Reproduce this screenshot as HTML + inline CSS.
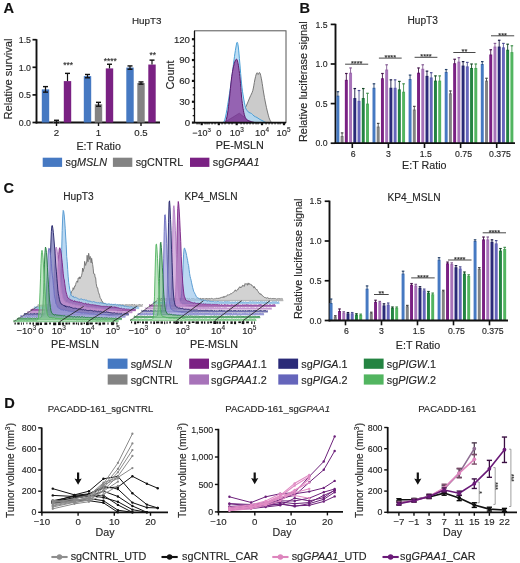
<!DOCTYPE html>
<html><head><meta charset="utf-8"><style>
html,body{margin:0;padding:0;background:#fff;}
body{width:520px;height:563px;overflow:hidden;font-family:"Liberation Sans", sans-serif;}
svg{display:block;filter:blur(0.35px);}
svg text{stroke:#2a2a2a;stroke-width:0.15px;}
</style></head><body>
<svg width="520" height="563" viewBox="0 0 520 563" font-family='"Liberation Sans", sans-serif'><text x="3.60" y="12.80" font-size="14.6" text-anchor="start" font-weight="bold" font-style="normal" fill="#111">A</text>
<text x="299.60" y="12.80" font-size="14.6" text-anchor="start" font-weight="bold" font-style="normal" fill="#111">B</text>
<text x="3.60" y="192.60" font-size="14.6" text-anchor="start" font-weight="bold" font-style="normal" fill="#111">C</text>
<text x="4.20" y="408.10" font-size="14.6" text-anchor="start" font-weight="bold" font-style="normal" fill="#111">D</text>
<line x1="36.50" y1="39.20" x2="36.50" y2="123.50" stroke="#111" stroke-width="1.9"/>
<line x1="32.50" y1="122.50" x2="36.50" y2="122.50" stroke="#111" stroke-width="1.7"/>
<text x="31.00" y="125.70" font-size="8.82" text-anchor="end" font-weight="normal" font-style="normal" fill="#262626">0.0</text>
<line x1="32.50" y1="94.90" x2="36.50" y2="94.90" stroke="#111" stroke-width="1.7"/>
<text x="31.00" y="98.10" font-size="8.82" text-anchor="end" font-weight="normal" font-style="normal" fill="#262626">0.5</text>
<line x1="32.50" y1="67.30" x2="36.50" y2="67.30" stroke="#111" stroke-width="1.7"/>
<text x="31.00" y="70.50" font-size="8.82" text-anchor="end" font-weight="normal" font-style="normal" fill="#262626">1.0</text>
<line x1="32.50" y1="39.70" x2="36.50" y2="39.70" stroke="#111" stroke-width="1.7"/>
<text x="31.00" y="42.90" font-size="8.82" text-anchor="end" font-weight="normal" font-style="normal" fill="#262626">1.5</text>
<line x1="35.70" y1="122.50" x2="160.00" y2="122.50" stroke="#111" stroke-width="1.8"/>
<text x="12.00" y="79.00" font-size="11.13" text-anchor="middle" font-weight="normal" font-style="normal" fill="#262626" transform="rotate(-90 12.0 79)">Relative survival</text>
<line x1="56.50" y1="122.50" x2="56.50" y2="126.00" stroke="#111" stroke-width="1.4"/>
<text x="56.50" y="136.00" font-size="9.66" text-anchor="middle" font-weight="normal" font-style="normal" fill="#262626">2</text>
<rect x="41.80" y="89.38" width="7.40" height="33.12" fill="#4679c2"/>
<line x1="45.50" y1="92.14" x2="45.50" y2="86.62" stroke="#111" stroke-width="1.2"/>
<line x1="43.00" y1="86.62" x2="48.00" y2="86.62" stroke="#111" stroke-width="1.4"/>
<line x1="43.00" y1="92.14" x2="48.00" y2="92.14" stroke="#111" stroke-width="1.4"/>
<rect x="52.80" y="121.40" width="7.40" height="1.10" fill="#838383"/>
<line x1="56.50" y1="122.50" x2="56.50" y2="120.29" stroke="#111" stroke-width="1.2"/>
<line x1="54.00" y1="120.29" x2="59.00" y2="120.29" stroke="#111" stroke-width="1.4"/>
<line x1="54.00" y1="122.50" x2="59.00" y2="122.50" stroke="#111" stroke-width="1.4"/>
<rect x="63.80" y="81.10" width="7.40" height="41.40" fill="#7a2183"/>
<line x1="67.50" y1="81.10" x2="67.50" y2="73.37" stroke="#111" stroke-width="1.2"/>
<line x1="65.00" y1="73.37" x2="70.00" y2="73.37" stroke="#111" stroke-width="1.4"/>
<line x1="98.50" y1="122.50" x2="98.50" y2="126.00" stroke="#111" stroke-width="1.4"/>
<text x="98.50" y="136.00" font-size="9.66" text-anchor="middle" font-weight="normal" font-style="normal" fill="#262626">1</text>
<rect x="83.80" y="76.13" width="7.40" height="46.37" fill="#4679c2"/>
<line x1="87.50" y1="77.79" x2="87.50" y2="74.48" stroke="#111" stroke-width="1.2"/>
<line x1="85.00" y1="74.48" x2="90.00" y2="74.48" stroke="#111" stroke-width="1.4"/>
<line x1="85.00" y1="77.79" x2="90.00" y2="77.79" stroke="#111" stroke-width="1.4"/>
<rect x="94.80" y="104.28" width="7.40" height="18.22" fill="#838383"/>
<line x1="98.50" y1="106.22" x2="98.50" y2="102.35" stroke="#111" stroke-width="1.2"/>
<line x1="96.00" y1="102.35" x2="101.00" y2="102.35" stroke="#111" stroke-width="1.4"/>
<line x1="96.00" y1="106.22" x2="101.00" y2="106.22" stroke="#111" stroke-width="1.4"/>
<rect x="105.80" y="68.40" width="7.40" height="54.10" fill="#7a2183"/>
<line x1="109.50" y1="68.40" x2="109.50" y2="64.26" stroke="#111" stroke-width="1.2"/>
<line x1="107.00" y1="64.26" x2="112.00" y2="64.26" stroke="#111" stroke-width="1.4"/>
<line x1="141.00" y1="122.50" x2="141.00" y2="126.00" stroke="#111" stroke-width="1.4"/>
<text x="141.00" y="136.00" font-size="9.66" text-anchor="middle" font-weight="normal" font-style="normal" fill="#262626">0.5</text>
<rect x="126.30" y="67.58" width="7.40" height="54.92" fill="#4679c2"/>
<line x1="130.00" y1="69.23" x2="130.00" y2="65.92" stroke="#111" stroke-width="1.2"/>
<line x1="127.50" y1="65.92" x2="132.50" y2="65.92" stroke="#111" stroke-width="1.4"/>
<line x1="127.50" y1="69.23" x2="132.50" y2="69.23" stroke="#111" stroke-width="1.4"/>
<rect x="137.30" y="83.03" width="7.40" height="39.47" fill="#838383"/>
<line x1="141.00" y1="84.14" x2="141.00" y2="81.93" stroke="#111" stroke-width="1.2"/>
<line x1="138.50" y1="81.93" x2="143.50" y2="81.93" stroke="#111" stroke-width="1.4"/>
<line x1="138.50" y1="84.14" x2="143.50" y2="84.14" stroke="#111" stroke-width="1.4"/>
<rect x="148.30" y="64.54" width="7.40" height="57.96" fill="#7a2183"/>
<line x1="152.00" y1="64.54" x2="152.00" y2="60.12" stroke="#111" stroke-width="1.2"/>
<line x1="149.50" y1="60.12" x2="154.50" y2="60.12" stroke="#111" stroke-width="1.4"/>
<text x="68.10" y="67.70" font-size="8.4" text-anchor="middle" font-weight="normal" font-style="normal" fill="#333">***</text>
<text x="110.20" y="63.50" font-size="8.4" text-anchor="middle" font-weight="normal" font-style="normal" fill="#333">****</text>
<text x="152.80" y="57.80" font-size="8.4" text-anchor="middle" font-weight="normal" font-style="normal" fill="#333">**</text>
<text x="98.70" y="149.50" font-size="10.71" text-anchor="middle" font-weight="normal" font-style="normal" fill="#262626">E:T Ratio</text>
<text x="146.80" y="23.50" font-size="9.87" text-anchor="middle" font-weight="normal" font-style="normal" fill="#262626">HupT3</text>
<rect x="42.70" y="157.70" width="19.40" height="9.20" fill="#4679c2"/>
<text x="65.50" y="165.90" font-size="10.82" text-anchor="start" font-weight="normal" font-style="normal" fill="#262626">sg<tspan font-style="italic">MSLN</tspan></text>
<rect x="112.90" y="157.70" width="19.40" height="9.20" fill="#838383"/>
<text x="135.70" y="165.90" font-size="10.82" text-anchor="start" font-weight="normal" font-style="normal" fill="#262626">sgCNTRL</text>
<rect x="190.00" y="157.70" width="19.40" height="9.20" fill="#7a2183"/>
<text x="212.80" y="165.90" font-size="10.82" text-anchor="start" font-weight="normal" font-style="normal" fill="#262626">sg<tspan font-style="italic">GPAA1</tspan></text>
<rect x="194.5" y="30.8" width="91.5" height="91.8" fill="none" stroke="#555" stroke-width="1.0"/>
<path d="M225.00,122.60 C226.00,122.25 229.08,121.43 231.00,120.50 C232.92,119.57 234.83,118.17 236.50,117.00 C238.17,115.83 239.67,114.75 241.00,113.50 C242.33,112.25 243.42,111.25 244.50,109.50 C245.58,107.75 246.58,105.08 247.50,103.00 C248.42,100.92 249.12,99.08 250.00,97.00 C250.88,94.92 252.00,93.33 252.80,90.50 C253.60,87.67 254.22,82.75 254.80,80.00 C255.38,77.25 255.88,75.20 256.30,74.00 C256.72,72.80 256.98,72.72 257.30,72.80 C257.62,72.88 257.88,74.53 258.20,74.50 C258.52,74.47 258.85,72.68 259.20,72.60 C259.55,72.52 259.87,72.60 260.30,74.00 C260.73,75.40 261.27,78.00 261.80,81.00 C262.33,84.00 262.88,88.33 263.50,92.00 C264.12,95.67 264.83,99.67 265.50,103.00 C266.17,106.33 266.83,109.33 267.50,112.00 C268.17,114.67 268.83,117.23 269.50,119.00 C270.17,120.77 271.17,122.00 271.50,122.60 Z" fill="#cbcbcb" stroke="#6a6a6a" stroke-width="0.9"/>
<path d="M223.50,122.60 C223.83,121.67 224.67,120.77 225.50,117.00 C226.33,113.23 227.50,106.17 228.50,100.00 C229.50,93.83 230.58,86.67 231.50,80.00 C232.42,73.33 233.28,65.33 234.00,60.00 C234.72,54.67 235.28,50.95 235.80,48.00 C236.32,45.05 236.68,42.47 237.10,42.30 C237.52,42.13 237.85,43.55 238.30,47.00 C238.75,50.45 239.25,56.83 239.80,63.00 C240.35,69.17 241.00,78.33 241.60,84.00 C242.20,89.67 242.75,93.08 243.40,97.00 C244.05,100.92 244.82,105.17 245.50,107.50 C246.18,109.83 246.92,110.17 247.50,111.00 C248.08,111.83 248.33,112.08 249.00,112.50 C249.67,112.92 250.67,112.92 251.50,113.50 C252.33,114.08 253.08,115.33 254.00,116.00 C254.92,116.67 256.00,116.92 257.00,117.50 C258.00,118.08 259.00,118.92 260.00,119.50 C261.00,120.08 262.00,120.48 263.00,121.00 C264.00,121.52 265.50,122.33 266.00,122.60 Z" fill="#b0d8f3" fill-opacity="0.85" stroke="#4a9fd6" stroke-width="1"/>
<path d="M225.50,122.60 C225.83,121.17 226.83,118.10 227.50,114.00 C228.17,109.90 228.87,103.67 229.50,98.00 C230.13,92.33 230.72,84.83 231.30,80.00 C231.88,75.17 232.42,72.00 233.00,69.00 C233.58,66.00 234.25,63.63 234.80,62.00 C235.35,60.37 235.85,59.37 236.30,59.20 C236.75,59.03 237.08,59.53 237.50,61.00 C237.92,62.47 238.35,64.83 238.80,68.00 C239.25,71.17 239.77,75.50 240.20,80.00 C240.63,84.50 240.98,90.67 241.40,95.00 C241.82,99.33 242.22,102.75 242.70,106.00 C243.18,109.25 243.67,112.25 244.30,114.50 C244.93,116.75 245.55,118.38 246.50,119.50 C247.45,120.62 248.58,120.68 250.00,121.20 C251.42,121.72 254.17,122.37 255.00,122.60 Z" fill="#9152aa" fill-opacity="0.88" stroke="#5a1a6c" stroke-width="1"/>
<path d="M224,122.6 L239.3,113.2 L251,122.6 Z" fill="#6e2f86" fill-opacity="0.45" stroke="#6a2a80" stroke-width="0.6" stroke-opacity="0.8"/>
<line x1="194.50" y1="30.80" x2="194.50" y2="123.10" stroke="#111" stroke-width="1.3"/>
<line x1="194.50" y1="122.60" x2="286.00" y2="122.60" stroke="#111" stroke-width="1.6"/>
<rect x="191.90" y="121.50" width="2.60" height="2.20" fill="#111"/>
<text x="190.00" y="125.90" font-size="9.66" text-anchor="end" font-weight="normal" font-style="normal" fill="#262626">0</text>
<rect x="191.90" y="100.65" width="2.60" height="2.20" fill="#111"/>
<text x="190.00" y="105.05" font-size="9.66" text-anchor="end" font-weight="normal" font-style="normal" fill="#262626">30</text>
<rect x="191.90" y="79.80" width="2.60" height="2.20" fill="#111"/>
<text x="190.00" y="84.20" font-size="9.66" text-anchor="end" font-weight="normal" font-style="normal" fill="#262626">60</text>
<rect x="191.90" y="58.95" width="2.60" height="2.20" fill="#111"/>
<text x="190.00" y="63.35" font-size="9.66" text-anchor="end" font-weight="normal" font-style="normal" fill="#262626">90</text>
<rect x="191.90" y="38.10" width="2.60" height="2.20" fill="#111"/>
<text x="190.00" y="42.50" font-size="9.66" text-anchor="end" font-weight="normal" font-style="normal" fill="#262626">120</text>
<rect x="192.70" y="115.05" width="1.80" height="1.20" fill="#111"/>
<rect x="192.70" y="108.10" width="1.80" height="1.20" fill="#111"/>
<rect x="192.70" y="94.20" width="1.80" height="1.20" fill="#111"/>
<rect x="192.70" y="87.25" width="1.80" height="1.20" fill="#111"/>
<rect x="192.70" y="73.35" width="1.80" height="1.20" fill="#111"/>
<rect x="192.70" y="66.40" width="1.80" height="1.20" fill="#111"/>
<rect x="192.70" y="52.50" width="1.80" height="1.20" fill="#111"/>
<rect x="192.70" y="45.55" width="1.80" height="1.20" fill="#111"/>
<text x="173.50" y="75.00" font-size="10.92" text-anchor="middle" font-weight="normal" font-style="normal" fill="#262626" transform="rotate(-90 173.5 75)">Count</text>
<rect x="200.60" y="122.60" width="2.20" height="2.60" fill="#111"/>
<rect x="217.70" y="122.60" width="2.20" height="2.60" fill="#111"/>
<rect x="235.60" y="122.60" width="2.20" height="2.60" fill="#111"/>
<rect x="260.90" y="122.60" width="2.20" height="2.60" fill="#111"/>
<rect x="282.90" y="122.60" width="2.20" height="2.60" fill="#111"/>
<rect x="196.50" y="122.60" width="1.10" height="1.80" fill="#111"/>
<rect x="198.50" y="122.60" width="1.10" height="1.80" fill="#111"/>
<rect x="204.50" y="122.60" width="1.10" height="1.80" fill="#111"/>
<rect x="206.50" y="122.60" width="1.10" height="1.80" fill="#111"/>
<rect x="208.50" y="122.60" width="1.10" height="1.80" fill="#111"/>
<rect x="211.50" y="122.60" width="1.10" height="1.80" fill="#111"/>
<rect x="214.50" y="122.60" width="1.10" height="1.80" fill="#111"/>
<rect x="221.50" y="122.60" width="1.10" height="1.80" fill="#111"/>
<rect x="224.50" y="122.60" width="1.10" height="1.80" fill="#111"/>
<rect x="228.50" y="122.60" width="1.10" height="1.80" fill="#111"/>
<rect x="231.50" y="122.60" width="1.10" height="1.80" fill="#111"/>
<rect x="240.50" y="122.60" width="1.10" height="1.80" fill="#111"/>
<rect x="243.50" y="122.60" width="1.10" height="1.80" fill="#111"/>
<rect x="246.50" y="122.60" width="1.10" height="1.80" fill="#111"/>
<rect x="249.50" y="122.60" width="1.10" height="1.80" fill="#111"/>
<rect x="252.50" y="122.60" width="1.10" height="1.80" fill="#111"/>
<rect x="255.50" y="122.60" width="1.10" height="1.80" fill="#111"/>
<rect x="257.50" y="122.60" width="1.10" height="1.80" fill="#111"/>
<rect x="265.50" y="122.60" width="1.10" height="1.80" fill="#111"/>
<rect x="268.50" y="122.60" width="1.10" height="1.80" fill="#111"/>
<rect x="271.50" y="122.60" width="1.10" height="1.80" fill="#111"/>
<rect x="274.50" y="122.60" width="1.10" height="1.80" fill="#111"/>
<rect x="277.50" y="122.60" width="1.10" height="1.80" fill="#111"/>
<rect x="279.50" y="122.60" width="1.10" height="1.80" fill="#111"/>
<text x="201.7" y="136" font-size="9" text-anchor="middle" fill="#262626">−10<tspan font-size="6.2" dy="-3.8">3</tspan></text>
<text x="218.80" y="136.00" font-size="9.45" text-anchor="middle" font-weight="normal" font-style="normal" fill="#262626">0</text>
<text x="236.70" y="136.00" font-size="9.45" text-anchor="middle" fill="#262626">10<tspan font-size="6.43" dy="-3.97">3</tspan></text>
<text x="262.00" y="136.00" font-size="9.45" text-anchor="middle" fill="#262626">10<tspan font-size="6.43" dy="-3.97">4</tspan></text>
<text x="283.50" y="136.00" font-size="9.45" text-anchor="middle" fill="#262626">10<tspan font-size="6.43" dy="-3.97">5</tspan></text>
<text x="239.80" y="149.40" font-size="10.82" text-anchor="middle" font-weight="normal" font-style="normal" fill="#262626">PE-MSLN</text>
<line x1="335.50" y1="23.80" x2="335.50" y2="144.00" stroke="#111" stroke-width="1.9"/>
<line x1="330.70" y1="143.20" x2="335.50" y2="143.20" stroke="#111" stroke-width="1.7"/>
<text x="327.50" y="146.40" font-size="8.72" text-anchor="end" font-weight="normal" font-style="normal" fill="#262626">0.0</text>
<line x1="330.70" y1="103.60" x2="335.50" y2="103.60" stroke="#111" stroke-width="1.7"/>
<text x="327.50" y="106.80" font-size="8.72" text-anchor="end" font-weight="normal" font-style="normal" fill="#262626">0.5</text>
<line x1="330.70" y1="64.00" x2="335.50" y2="64.00" stroke="#111" stroke-width="1.7"/>
<text x="327.50" y="67.20" font-size="8.72" text-anchor="end" font-weight="normal" font-style="normal" fill="#262626">1.0</text>
<line x1="330.70" y1="24.40" x2="335.50" y2="24.40" stroke="#111" stroke-width="1.7"/>
<text x="327.50" y="27.60" font-size="8.72" text-anchor="end" font-weight="normal" font-style="normal" fill="#262626">1.5</text>
<rect x="336.40" y="95.68" width="2.95" height="47.52" fill="#4679c2"/>
<line x1="337.87" y1="96.68" x2="337.87" y2="91.72" stroke="#26426a" stroke-width="0.9"/>
<line x1="336.60" y1="91.72" x2="339.15" y2="91.72" stroke="#26426a" stroke-width="1.2"/>
<rect x="340.63" y="136.07" width="2.95" height="7.13" fill="#838383"/>
<line x1="342.10" y1="137.07" x2="342.10" y2="132.90" stroke="#484848" stroke-width="0.9"/>
<line x1="340.83" y1="132.90" x2="343.38" y2="132.90" stroke="#484848" stroke-width="1.2"/>
<rect x="344.86" y="79.84" width="2.95" height="63.36" fill="#7a2183"/>
<line x1="346.33" y1="80.84" x2="346.33" y2="73.50" stroke="#431248" stroke-width="0.9"/>
<line x1="345.06" y1="73.50" x2="347.61" y2="73.50" stroke="#431248" stroke-width="1.2"/>
<rect x="349.09" y="72.71" width="2.95" height="70.49" fill="#a773b9"/>
<line x1="350.56" y1="73.71" x2="350.56" y2="67.96" stroke="#855c94" stroke-width="0.9"/>
<line x1="349.29" y1="67.96" x2="351.84" y2="67.96" stroke="#855c94" stroke-width="1.2"/>
<rect x="353.32" y="98.06" width="2.95" height="45.14" fill="#2a2a78"/>
<line x1="354.79" y1="99.06" x2="354.79" y2="88.55" stroke="#171742" stroke-width="0.9"/>
<line x1="353.52" y1="88.55" x2="356.07" y2="88.55" stroke="#171742" stroke-width="1.2"/>
<rect x="357.55" y="100.83" width="2.95" height="42.37" fill="#6565bb"/>
<line x1="359.02" y1="101.83" x2="359.02" y2="90.53" stroke="#505095" stroke-width="0.9"/>
<line x1="357.75" y1="90.53" x2="360.30" y2="90.53" stroke="#505095" stroke-width="1.2"/>
<rect x="361.78" y="98.06" width="2.95" height="45.14" fill="#248442"/>
<line x1="363.25" y1="99.06" x2="363.25" y2="88.55" stroke="#134824" stroke-width="0.9"/>
<line x1="361.98" y1="88.55" x2="364.53" y2="88.55" stroke="#134824" stroke-width="1.2"/>
<rect x="366.01" y="103.60" width="2.95" height="39.60" fill="#52b560"/>
<line x1="367.48" y1="104.60" x2="367.48" y2="93.30" stroke="#41904c" stroke-width="0.9"/>
<line x1="366.21" y1="93.30" x2="368.76" y2="93.30" stroke="#41904c" stroke-width="1.2"/>
<line x1="352.30" y1="143.20" x2="352.30" y2="148.00" stroke="#111" stroke-width="1.6"/>
<text x="353.30" y="157.10" font-size="8.72" text-anchor="middle" font-weight="normal" font-style="normal" fill="#262626">6</text>
<rect x="372.50" y="87.76" width="2.95" height="55.44" fill="#4679c2"/>
<line x1="373.97" y1="88.76" x2="373.97" y2="83.80" stroke="#26426a" stroke-width="0.9"/>
<line x1="372.70" y1="83.80" x2="375.25" y2="83.80" stroke="#26426a" stroke-width="1.2"/>
<rect x="376.73" y="126.57" width="2.95" height="16.63" fill="#838383"/>
<line x1="378.20" y1="127.57" x2="378.20" y2="123.40" stroke="#484848" stroke-width="0.9"/>
<line x1="376.93" y1="123.40" x2="379.48" y2="123.40" stroke="#484848" stroke-width="1.2"/>
<rect x="380.96" y="78.26" width="2.95" height="64.94" fill="#7a2183"/>
<line x1="382.43" y1="79.26" x2="382.43" y2="73.50" stroke="#431248" stroke-width="0.9"/>
<line x1="381.16" y1="73.50" x2="383.71" y2="73.50" stroke="#431248" stroke-width="1.2"/>
<rect x="385.19" y="69.54" width="2.95" height="73.66" fill="#a773b9"/>
<line x1="386.66" y1="70.54" x2="386.66" y2="64.79" stroke="#855c94" stroke-width="0.9"/>
<line x1="385.39" y1="64.79" x2="387.94" y2="64.79" stroke="#855c94" stroke-width="1.2"/>
<rect x="389.42" y="87.76" width="2.95" height="55.44" fill="#2a2a78"/>
<line x1="390.89" y1="88.76" x2="390.89" y2="79.84" stroke="#171742" stroke-width="0.9"/>
<line x1="389.62" y1="79.84" x2="392.17" y2="79.84" stroke="#171742" stroke-width="1.2"/>
<rect x="393.65" y="87.76" width="2.95" height="55.44" fill="#6565bb"/>
<line x1="395.12" y1="88.76" x2="395.12" y2="79.84" stroke="#505095" stroke-width="0.9"/>
<line x1="393.85" y1="79.84" x2="396.40" y2="79.84" stroke="#505095" stroke-width="1.2"/>
<rect x="397.88" y="89.34" width="2.95" height="53.86" fill="#248442"/>
<line x1="399.35" y1="90.34" x2="399.35" y2="81.42" stroke="#134824" stroke-width="0.9"/>
<line x1="398.08" y1="81.42" x2="400.63" y2="81.42" stroke="#134824" stroke-width="1.2"/>
<rect x="402.11" y="91.72" width="2.95" height="51.48" fill="#52b560"/>
<line x1="403.58" y1="92.72" x2="403.58" y2="83.80" stroke="#41904c" stroke-width="0.9"/>
<line x1="402.31" y1="83.80" x2="404.86" y2="83.80" stroke="#41904c" stroke-width="1.2"/>
<line x1="388.40" y1="143.20" x2="388.40" y2="148.00" stroke="#111" stroke-width="1.6"/>
<text x="388.40" y="157.10" font-size="8.72" text-anchor="middle" font-weight="normal" font-style="normal" fill="#262626">3</text>
<rect x="408.60" y="79.05" width="2.95" height="64.15" fill="#4679c2"/>
<line x1="410.07" y1="80.05" x2="410.07" y2="75.09" stroke="#26426a" stroke-width="0.9"/>
<line x1="408.80" y1="75.09" x2="411.35" y2="75.09" stroke="#26426a" stroke-width="1.2"/>
<rect x="412.83" y="109.54" width="2.95" height="33.66" fill="#838383"/>
<line x1="414.30" y1="110.54" x2="414.30" y2="106.37" stroke="#484848" stroke-width="0.9"/>
<line x1="413.03" y1="106.37" x2="415.58" y2="106.37" stroke="#484848" stroke-width="1.2"/>
<rect x="417.06" y="72.71" width="2.95" height="70.49" fill="#7a2183"/>
<line x1="418.53" y1="73.71" x2="418.53" y2="67.96" stroke="#431248" stroke-width="0.9"/>
<line x1="417.26" y1="67.96" x2="419.81" y2="67.96" stroke="#431248" stroke-width="1.2"/>
<rect x="421.29" y="68.75" width="2.95" height="74.45" fill="#a773b9"/>
<line x1="422.76" y1="69.75" x2="422.76" y2="64.79" stroke="#855c94" stroke-width="0.9"/>
<line x1="421.49" y1="64.79" x2="424.04" y2="64.79" stroke="#855c94" stroke-width="1.2"/>
<rect x="425.52" y="75.88" width="2.95" height="67.32" fill="#2a2a78"/>
<line x1="426.99" y1="76.88" x2="426.99" y2="71.13" stroke="#171742" stroke-width="0.9"/>
<line x1="425.72" y1="71.13" x2="428.27" y2="71.13" stroke="#171742" stroke-width="1.2"/>
<rect x="429.75" y="77.46" width="2.95" height="65.74" fill="#6565bb"/>
<line x1="431.22" y1="78.46" x2="431.22" y2="72.71" stroke="#505095" stroke-width="0.9"/>
<line x1="429.95" y1="72.71" x2="432.50" y2="72.71" stroke="#505095" stroke-width="1.2"/>
<rect x="433.98" y="80.63" width="2.95" height="62.57" fill="#248442"/>
<line x1="435.45" y1="81.63" x2="435.45" y2="75.88" stroke="#134824" stroke-width="0.9"/>
<line x1="434.18" y1="75.88" x2="436.73" y2="75.88" stroke="#134824" stroke-width="1.2"/>
<rect x="438.21" y="80.63" width="2.95" height="62.57" fill="#52b560"/>
<line x1="439.68" y1="81.63" x2="439.68" y2="75.88" stroke="#41904c" stroke-width="0.9"/>
<line x1="438.41" y1="75.88" x2="440.96" y2="75.88" stroke="#41904c" stroke-width="1.2"/>
<line x1="424.50" y1="143.20" x2="424.50" y2="148.00" stroke="#111" stroke-width="1.6"/>
<text x="425.80" y="157.10" font-size="8.72" text-anchor="middle" font-weight="normal" font-style="normal" fill="#262626">1.5</text>
<rect x="444.70" y="71.92" width="2.95" height="71.28" fill="#4679c2"/>
<line x1="446.17" y1="72.92" x2="446.17" y2="69.54" stroke="#26426a" stroke-width="0.9"/>
<line x1="444.90" y1="69.54" x2="447.45" y2="69.54" stroke="#26426a" stroke-width="1.2"/>
<rect x="448.93" y="93.30" width="2.95" height="49.90" fill="#838383"/>
<line x1="450.40" y1="94.30" x2="450.40" y2="90.93" stroke="#484848" stroke-width="0.9"/>
<line x1="449.13" y1="90.93" x2="451.68" y2="90.93" stroke="#484848" stroke-width="1.2"/>
<rect x="453.16" y="63.21" width="2.95" height="79.99" fill="#7a2183"/>
<line x1="454.63" y1="64.21" x2="454.63" y2="59.25" stroke="#431248" stroke-width="0.9"/>
<line x1="453.36" y1="59.25" x2="455.91" y2="59.25" stroke="#431248" stroke-width="1.2"/>
<rect x="457.39" y="61.62" width="2.95" height="81.58" fill="#a773b9"/>
<line x1="458.86" y1="62.62" x2="458.86" y2="57.66" stroke="#855c94" stroke-width="0.9"/>
<line x1="457.59" y1="57.66" x2="460.14" y2="57.66" stroke="#855c94" stroke-width="1.2"/>
<rect x="461.62" y="65.58" width="2.95" height="77.62" fill="#2a2a78"/>
<line x1="463.09" y1="66.58" x2="463.09" y2="61.62" stroke="#171742" stroke-width="0.9"/>
<line x1="461.82" y1="61.62" x2="464.37" y2="61.62" stroke="#171742" stroke-width="1.2"/>
<rect x="465.85" y="66.38" width="2.95" height="76.82" fill="#6565bb"/>
<line x1="467.32" y1="67.38" x2="467.32" y2="62.42" stroke="#505095" stroke-width="0.9"/>
<line x1="466.05" y1="62.42" x2="468.60" y2="62.42" stroke="#505095" stroke-width="1.2"/>
<rect x="470.08" y="67.96" width="2.95" height="75.24" fill="#248442"/>
<line x1="471.55" y1="68.96" x2="471.55" y2="64.00" stroke="#134824" stroke-width="0.9"/>
<line x1="470.28" y1="64.00" x2="472.83" y2="64.00" stroke="#134824" stroke-width="1.2"/>
<rect x="474.31" y="67.96" width="2.95" height="75.24" fill="#52b560"/>
<line x1="475.78" y1="68.96" x2="475.78" y2="64.00" stroke="#41904c" stroke-width="0.9"/>
<line x1="474.51" y1="64.00" x2="477.06" y2="64.00" stroke="#41904c" stroke-width="1.2"/>
<line x1="460.60" y1="143.20" x2="460.60" y2="148.00" stroke="#111" stroke-width="1.6"/>
<text x="463.60" y="157.10" font-size="8.72" text-anchor="middle" font-weight="normal" font-style="normal" fill="#262626">0.75</text>
<rect x="480.80" y="64.00" width="2.95" height="79.20" fill="#4679c2"/>
<line x1="482.27" y1="65.00" x2="482.27" y2="61.62" stroke="#26426a" stroke-width="0.9"/>
<line x1="481.00" y1="61.62" x2="483.55" y2="61.62" stroke="#26426a" stroke-width="1.2"/>
<rect x="485.03" y="80.63" width="2.95" height="62.57" fill="#838383"/>
<line x1="486.50" y1="81.63" x2="486.50" y2="78.26" stroke="#484848" stroke-width="0.9"/>
<line x1="485.23" y1="78.26" x2="487.78" y2="78.26" stroke="#484848" stroke-width="1.2"/>
<rect x="489.26" y="54.50" width="2.95" height="88.70" fill="#7a2183"/>
<line x1="490.73" y1="55.50" x2="490.73" y2="49.74" stroke="#431248" stroke-width="0.9"/>
<line x1="489.46" y1="49.74" x2="492.01" y2="49.74" stroke="#431248" stroke-width="1.2"/>
<rect x="493.49" y="46.58" width="2.95" height="96.62" fill="#a773b9"/>
<line x1="494.96" y1="47.58" x2="494.96" y2="43.41" stroke="#855c94" stroke-width="0.9"/>
<line x1="493.69" y1="43.41" x2="496.24" y2="43.41" stroke="#855c94" stroke-width="1.2"/>
<rect x="497.72" y="46.58" width="2.95" height="96.62" fill="#2a2a78"/>
<line x1="499.19" y1="47.58" x2="499.19" y2="40.24" stroke="#171742" stroke-width="0.9"/>
<line x1="497.92" y1="40.24" x2="500.47" y2="40.24" stroke="#171742" stroke-width="1.2"/>
<rect x="501.95" y="47.37" width="2.95" height="95.83" fill="#6565bb"/>
<line x1="503.42" y1="48.37" x2="503.42" y2="43.41" stroke="#505095" stroke-width="0.9"/>
<line x1="502.15" y1="43.41" x2="504.70" y2="43.41" stroke="#505095" stroke-width="1.2"/>
<rect x="506.18" y="49.74" width="2.95" height="93.46" fill="#248442"/>
<line x1="507.65" y1="50.74" x2="507.65" y2="44.20" stroke="#134824" stroke-width="0.9"/>
<line x1="506.38" y1="44.20" x2="508.93" y2="44.20" stroke="#134824" stroke-width="1.2"/>
<rect x="510.41" y="52.12" width="2.95" height="91.08" fill="#52b560"/>
<line x1="511.88" y1="53.12" x2="511.88" y2="45.78" stroke="#41904c" stroke-width="0.9"/>
<line x1="510.61" y1="45.78" x2="513.16" y2="45.78" stroke="#41904c" stroke-width="1.2"/>
<line x1="496.70" y1="143.20" x2="496.70" y2="148.00" stroke="#111" stroke-width="1.6"/>
<text x="500.00" y="157.10" font-size="8.72" text-anchor="middle" font-weight="normal" font-style="normal" fill="#262626">0.375</text>
<line x1="334.70" y1="143.20" x2="515.00" y2="143.20" stroke="#111" stroke-width="1.8"/>
<line x1="345.10" y1="64.20" x2="368.20" y2="64.20" stroke="#333" stroke-width="0.9"/>
<text x="356.65" y="66.10" font-size="7.35" text-anchor="middle" font-weight="normal" font-style="normal" fill="#333">****</text>
<line x1="378.90" y1="58.10" x2="401.70" y2="58.10" stroke="#333" stroke-width="0.9"/>
<text x="390.30" y="60.00" font-size="7.35" text-anchor="middle" font-weight="normal" font-style="normal" fill="#333">****</text>
<line x1="414.60" y1="57.30" x2="437.40" y2="57.30" stroke="#333" stroke-width="0.9"/>
<text x="426.00" y="59.20" font-size="7.35" text-anchor="middle" font-weight="normal" font-style="normal" fill="#333">****</text>
<line x1="453.30" y1="52.50" x2="475.50" y2="52.50" stroke="#333" stroke-width="0.9"/>
<text x="464.40" y="54.40" font-size="7.35" text-anchor="middle" font-weight="normal" font-style="normal" fill="#333">**</text>
<line x1="491.00" y1="35.80" x2="514.20" y2="35.80" stroke="#333" stroke-width="0.9"/>
<text x="502.60" y="37.70" font-size="7.35" text-anchor="middle" font-weight="normal" font-style="normal" fill="#333">***</text>
<text x="307.00" y="81.70" font-size="10.92" text-anchor="middle" font-weight="normal" font-style="normal" fill="#262626" transform="rotate(-90 307 81.69999999999999)">Relative luciferase signal</text>
<text x="422.70" y="23.50" font-size="10.19" text-anchor="middle" font-weight="normal" font-style="normal" fill="#262626">HupT3</text>
<text x="424.30" y="168.60" font-size="10.71" text-anchor="middle" font-weight="normal" font-style="normal" fill="#262626">E:T Ratio</text>
<line x1="329.50" y1="200.65" x2="329.50" y2="321.30" stroke="#111" stroke-width="1.9"/>
<line x1="324.70" y1="320.50" x2="329.50" y2="320.50" stroke="#111" stroke-width="1.7"/>
<text x="321.50" y="323.70" font-size="8.72" text-anchor="end" font-weight="normal" font-style="normal" fill="#262626">0.0</text>
<line x1="324.70" y1="280.75" x2="329.50" y2="280.75" stroke="#111" stroke-width="1.7"/>
<text x="321.50" y="283.95" font-size="8.72" text-anchor="end" font-weight="normal" font-style="normal" fill="#262626">0.5</text>
<line x1="324.70" y1="241.00" x2="329.50" y2="241.00" stroke="#111" stroke-width="1.7"/>
<text x="321.50" y="244.20" font-size="8.72" text-anchor="end" font-weight="normal" font-style="normal" fill="#262626">1.0</text>
<line x1="324.70" y1="201.25" x2="329.50" y2="201.25" stroke="#111" stroke-width="1.7"/>
<text x="321.50" y="204.45" font-size="8.72" text-anchor="end" font-weight="normal" font-style="normal" fill="#262626">1.5</text>
<rect x="329.60" y="303.01" width="2.95" height="17.49" fill="#4679c2"/>
<line x1="331.07" y1="304.01" x2="331.07" y2="299.04" stroke="#26426a" stroke-width="0.9"/>
<line x1="329.80" y1="299.04" x2="332.35" y2="299.04" stroke="#26426a" stroke-width="1.2"/>
<rect x="333.83" y="316.52" width="2.95" height="3.98" fill="#838383"/>
<line x1="335.30" y1="317.52" x2="335.30" y2="315.73" stroke="#484848" stroke-width="0.9"/>
<line x1="334.03" y1="315.73" x2="336.58" y2="315.73" stroke="#484848" stroke-width="1.2"/>
<rect x="338.06" y="310.96" width="2.95" height="9.54" fill="#7a2183"/>
<line x1="339.53" y1="311.96" x2="339.53" y2="308.97" stroke="#431248" stroke-width="0.9"/>
<line x1="338.26" y1="308.97" x2="340.81" y2="308.97" stroke="#431248" stroke-width="1.2"/>
<rect x="342.29" y="312.55" width="2.95" height="7.95" fill="#a773b9"/>
<line x1="343.76" y1="313.55" x2="343.76" y2="311.75" stroke="#855c94" stroke-width="0.9"/>
<line x1="342.49" y1="311.75" x2="345.04" y2="311.75" stroke="#855c94" stroke-width="1.2"/>
<rect x="346.52" y="313.35" width="2.95" height="7.15" fill="#2a2a78"/>
<line x1="347.99" y1="314.35" x2="347.99" y2="312.55" stroke="#171742" stroke-width="0.9"/>
<line x1="346.72" y1="312.55" x2="349.27" y2="312.55" stroke="#171742" stroke-width="1.2"/>
<rect x="350.75" y="313.35" width="2.95" height="7.15" fill="#6565bb"/>
<line x1="352.22" y1="314.35" x2="352.22" y2="312.55" stroke="#505095" stroke-width="0.9"/>
<line x1="350.95" y1="312.55" x2="353.50" y2="312.55" stroke="#505095" stroke-width="1.2"/>
<rect x="354.98" y="314.54" width="2.95" height="5.96" fill="#248442"/>
<line x1="356.45" y1="315.54" x2="356.45" y2="313.74" stroke="#134824" stroke-width="0.9"/>
<line x1="355.18" y1="313.74" x2="357.73" y2="313.74" stroke="#134824" stroke-width="1.2"/>
<rect x="359.21" y="314.94" width="2.95" height="5.56" fill="#52b560"/>
<line x1="360.68" y1="315.94" x2="360.68" y2="314.14" stroke="#41904c" stroke-width="0.9"/>
<line x1="359.41" y1="314.14" x2="361.96" y2="314.14" stroke="#41904c" stroke-width="1.2"/>
<line x1="345.50" y1="320.50" x2="345.50" y2="325.30" stroke="#111" stroke-width="1.6"/>
<text x="346.50" y="334.40" font-size="8.72" text-anchor="middle" font-weight="normal" font-style="normal" fill="#262626">6</text>
<rect x="365.60" y="288.70" width="2.95" height="31.80" fill="#4679c2"/>
<line x1="367.07" y1="289.70" x2="367.07" y2="285.92" stroke="#26426a" stroke-width="0.9"/>
<line x1="365.80" y1="285.92" x2="368.35" y2="285.92" stroke="#26426a" stroke-width="1.2"/>
<rect x="369.83" y="313.03" width="2.95" height="7.47" fill="#838383"/>
<line x1="371.30" y1="314.03" x2="371.30" y2="312.23" stroke="#484848" stroke-width="0.9"/>
<line x1="370.03" y1="312.23" x2="372.58" y2="312.23" stroke="#484848" stroke-width="1.2"/>
<rect x="374.06" y="301.82" width="2.95" height="18.68" fill="#7a2183"/>
<line x1="375.53" y1="302.82" x2="375.53" y2="300.23" stroke="#431248" stroke-width="0.9"/>
<line x1="374.26" y1="300.23" x2="376.81" y2="300.23" stroke="#431248" stroke-width="1.2"/>
<rect x="378.29" y="302.21" width="2.95" height="18.29" fill="#a773b9"/>
<line x1="379.76" y1="303.21" x2="379.76" y2="301.42" stroke="#855c94" stroke-width="0.9"/>
<line x1="378.49" y1="301.42" x2="381.04" y2="301.42" stroke="#855c94" stroke-width="1.2"/>
<rect x="382.52" y="305.39" width="2.95" height="15.11" fill="#2a2a78"/>
<line x1="383.99" y1="306.39" x2="383.99" y2="303.81" stroke="#171742" stroke-width="0.9"/>
<line x1="382.72" y1="303.81" x2="385.27" y2="303.81" stroke="#171742" stroke-width="1.2"/>
<rect x="386.75" y="304.60" width="2.95" height="15.90" fill="#6565bb"/>
<line x1="388.22" y1="305.60" x2="388.22" y2="303.01" stroke="#505095" stroke-width="0.9"/>
<line x1="386.95" y1="303.01" x2="389.50" y2="303.01" stroke="#505095" stroke-width="1.2"/>
<rect x="390.98" y="307.78" width="2.95" height="12.72" fill="#248442"/>
<line x1="392.45" y1="308.78" x2="392.45" y2="306.99" stroke="#134824" stroke-width="0.9"/>
<line x1="391.18" y1="306.99" x2="393.73" y2="306.99" stroke="#134824" stroke-width="1.2"/>
<rect x="395.21" y="307.78" width="2.95" height="12.72" fill="#52b560"/>
<line x1="396.68" y1="308.78" x2="396.68" y2="306.99" stroke="#41904c" stroke-width="0.9"/>
<line x1="395.41" y1="306.99" x2="397.96" y2="306.99" stroke="#41904c" stroke-width="1.2"/>
<line x1="381.50" y1="320.50" x2="381.50" y2="325.30" stroke="#111" stroke-width="1.6"/>
<text x="381.50" y="334.40" font-size="8.72" text-anchor="middle" font-weight="normal" font-style="normal" fill="#262626">3</text>
<rect x="401.60" y="273.60" width="2.95" height="46.90" fill="#4679c2"/>
<line x1="403.07" y1="274.60" x2="403.07" y2="271.21" stroke="#26426a" stroke-width="0.9"/>
<line x1="401.80" y1="271.21" x2="404.35" y2="271.21" stroke="#26426a" stroke-width="1.2"/>
<rect x="405.83" y="306.19" width="2.95" height="14.31" fill="#838383"/>
<line x1="407.30" y1="307.19" x2="407.30" y2="305.39" stroke="#484848" stroke-width="0.9"/>
<line x1="406.03" y1="305.39" x2="408.58" y2="305.39" stroke="#484848" stroke-width="1.2"/>
<rect x="410.06" y="284.73" width="2.95" height="35.77" fill="#7a2183"/>
<line x1="411.53" y1="285.73" x2="411.53" y2="283.53" stroke="#431248" stroke-width="0.9"/>
<line x1="410.26" y1="283.53" x2="412.81" y2="283.53" stroke="#431248" stroke-width="1.2"/>
<rect x="414.29" y="285.52" width="2.95" height="34.98" fill="#a773b9"/>
<line x1="415.76" y1="286.52" x2="415.76" y2="284.33" stroke="#855c94" stroke-width="0.9"/>
<line x1="414.49" y1="284.33" x2="417.04" y2="284.33" stroke="#855c94" stroke-width="1.2"/>
<rect x="418.52" y="287.90" width="2.95" height="32.60" fill="#2a2a78"/>
<line x1="419.99" y1="288.90" x2="419.99" y2="286.71" stroke="#171742" stroke-width="0.9"/>
<line x1="418.72" y1="286.71" x2="421.27" y2="286.71" stroke="#171742" stroke-width="1.2"/>
<rect x="422.75" y="290.29" width="2.95" height="30.21" fill="#6565bb"/>
<line x1="424.22" y1="291.29" x2="424.22" y2="289.10" stroke="#505095" stroke-width="0.9"/>
<line x1="422.95" y1="289.10" x2="425.50" y2="289.10" stroke="#505095" stroke-width="1.2"/>
<rect x="426.98" y="292.68" width="2.95" height="27.82" fill="#248442"/>
<line x1="428.45" y1="293.68" x2="428.45" y2="291.48" stroke="#134824" stroke-width="0.9"/>
<line x1="427.18" y1="291.48" x2="429.73" y2="291.48" stroke="#134824" stroke-width="1.2"/>
<rect x="431.21" y="294.26" width="2.95" height="26.24" fill="#52b560"/>
<line x1="432.68" y1="295.26" x2="432.68" y2="293.07" stroke="#41904c" stroke-width="0.9"/>
<line x1="431.41" y1="293.07" x2="433.96" y2="293.07" stroke="#41904c" stroke-width="1.2"/>
<line x1="417.50" y1="320.50" x2="417.50" y2="325.30" stroke="#111" stroke-width="1.6"/>
<text x="418.80" y="334.40" font-size="8.72" text-anchor="middle" font-weight="normal" font-style="normal" fill="#262626">1.5</text>
<rect x="437.60" y="259.68" width="2.95" height="60.82" fill="#4679c2"/>
<line x1="439.07" y1="260.68" x2="439.07" y2="257.69" stroke="#26426a" stroke-width="0.9"/>
<line x1="437.80" y1="257.69" x2="440.35" y2="257.69" stroke="#26426a" stroke-width="1.2"/>
<rect x="441.83" y="291.08" width="2.95" height="29.42" fill="#838383"/>
<line x1="443.30" y1="292.08" x2="443.30" y2="290.29" stroke="#484848" stroke-width="0.9"/>
<line x1="442.03" y1="290.29" x2="444.58" y2="290.29" stroke="#484848" stroke-width="1.2"/>
<rect x="446.06" y="263.26" width="2.95" height="57.24" fill="#7a2183"/>
<line x1="447.53" y1="264.26" x2="447.53" y2="262.07" stroke="#431248" stroke-width="0.9"/>
<line x1="446.26" y1="262.07" x2="448.81" y2="262.07" stroke="#431248" stroke-width="1.2"/>
<rect x="450.29" y="264.06" width="2.95" height="56.44" fill="#a773b9"/>
<line x1="451.76" y1="265.06" x2="451.76" y2="262.86" stroke="#855c94" stroke-width="0.9"/>
<line x1="450.49" y1="262.86" x2="453.04" y2="262.86" stroke="#855c94" stroke-width="1.2"/>
<rect x="454.52" y="267.24" width="2.95" height="53.26" fill="#2a2a78"/>
<line x1="455.99" y1="268.24" x2="455.99" y2="265.64" stroke="#171742" stroke-width="0.9"/>
<line x1="454.72" y1="265.64" x2="457.27" y2="265.64" stroke="#171742" stroke-width="1.2"/>
<rect x="458.75" y="268.43" width="2.95" height="52.07" fill="#6565bb"/>
<line x1="460.22" y1="269.43" x2="460.22" y2="266.84" stroke="#505095" stroke-width="0.9"/>
<line x1="458.95" y1="266.84" x2="461.50" y2="266.84" stroke="#505095" stroke-width="1.2"/>
<rect x="462.98" y="273.60" width="2.95" height="46.90" fill="#248442"/>
<line x1="464.45" y1="274.60" x2="464.45" y2="272.00" stroke="#134824" stroke-width="0.9"/>
<line x1="463.18" y1="272.00" x2="465.73" y2="272.00" stroke="#134824" stroke-width="1.2"/>
<rect x="467.21" y="275.98" width="2.95" height="44.52" fill="#52b560"/>
<line x1="468.68" y1="276.98" x2="468.68" y2="274.79" stroke="#41904c" stroke-width="0.9"/>
<line x1="467.41" y1="274.79" x2="469.96" y2="274.79" stroke="#41904c" stroke-width="1.2"/>
<line x1="453.50" y1="320.50" x2="453.50" y2="325.30" stroke="#111" stroke-width="1.6"/>
<text x="456.50" y="334.40" font-size="8.72" text-anchor="middle" font-weight="normal" font-style="normal" fill="#262626">0.75</text>
<rect x="473.60" y="241.00" width="2.95" height="79.50" fill="#4679c2"/>
<line x1="475.07" y1="242.00" x2="475.07" y2="239.81" stroke="#26426a" stroke-width="0.9"/>
<line x1="473.80" y1="239.81" x2="476.35" y2="239.81" stroke="#26426a" stroke-width="1.2"/>
<rect x="477.83" y="268.82" width="2.95" height="51.68" fill="#838383"/>
<line x1="479.30" y1="269.82" x2="479.30" y2="267.63" stroke="#484848" stroke-width="0.9"/>
<line x1="478.03" y1="267.63" x2="480.58" y2="267.63" stroke="#484848" stroke-width="1.2"/>
<rect x="482.06" y="239.41" width="2.95" height="81.09" fill="#7a2183"/>
<line x1="483.53" y1="240.41" x2="483.53" y2="237.02" stroke="#431248" stroke-width="0.9"/>
<line x1="482.26" y1="237.02" x2="484.81" y2="237.02" stroke="#431248" stroke-width="1.2"/>
<rect x="486.29" y="239.41" width="2.95" height="81.09" fill="#a773b9"/>
<line x1="487.76" y1="240.41" x2="487.76" y2="237.02" stroke="#855c94" stroke-width="0.9"/>
<line x1="486.49" y1="237.02" x2="489.04" y2="237.02" stroke="#855c94" stroke-width="1.2"/>
<rect x="490.52" y="241.80" width="2.95" height="78.70" fill="#2a2a78"/>
<line x1="491.99" y1="242.80" x2="491.99" y2="239.81" stroke="#171742" stroke-width="0.9"/>
<line x1="490.72" y1="239.81" x2="493.27" y2="239.81" stroke="#171742" stroke-width="1.2"/>
<rect x="494.75" y="243.38" width="2.95" height="77.12" fill="#6565bb"/>
<line x1="496.22" y1="244.38" x2="496.22" y2="240.60" stroke="#505095" stroke-width="0.9"/>
<line x1="494.95" y1="240.60" x2="497.50" y2="240.60" stroke="#505095" stroke-width="1.2"/>
<rect x="498.98" y="250.54" width="2.95" height="69.96" fill="#248442"/>
<line x1="500.45" y1="251.54" x2="500.45" y2="248.55" stroke="#134824" stroke-width="0.9"/>
<line x1="499.18" y1="248.55" x2="501.73" y2="248.55" stroke="#134824" stroke-width="1.2"/>
<rect x="503.21" y="248.95" width="2.95" height="71.55" fill="#52b560"/>
<line x1="504.68" y1="249.95" x2="504.68" y2="247.36" stroke="#41904c" stroke-width="0.9"/>
<line x1="503.41" y1="247.36" x2="505.96" y2="247.36" stroke="#41904c" stroke-width="1.2"/>
<line x1="489.50" y1="320.50" x2="489.50" y2="325.30" stroke="#111" stroke-width="1.6"/>
<text x="492.80" y="334.40" font-size="8.72" text-anchor="middle" font-weight="normal" font-style="normal" fill="#262626">0.375</text>
<line x1="328.70" y1="320.50" x2="508.00" y2="320.50" stroke="#111" stroke-width="1.8"/>
<line x1="374.00" y1="294.50" x2="388.70" y2="294.50" stroke="#333" stroke-width="0.9"/>
<text x="381.35" y="296.40" font-size="7.35" text-anchor="middle" font-weight="normal" font-style="normal" fill="#333">**</text>
<line x1="411.20" y1="277.90" x2="434.70" y2="277.90" stroke="#333" stroke-width="0.9"/>
<text x="422.95" y="279.80" font-size="7.35" text-anchor="middle" font-weight="normal" font-style="normal" fill="#333">****</text>
<line x1="448.00" y1="260.00" x2="471.50" y2="260.00" stroke="#333" stroke-width="0.9"/>
<text x="459.75" y="261.90" font-size="7.35" text-anchor="middle" font-weight="normal" font-style="normal" fill="#333">****</text>
<line x1="482.70" y1="232.80" x2="506.00" y2="232.80" stroke="#333" stroke-width="0.9"/>
<text x="494.35" y="234.70" font-size="7.35" text-anchor="middle" font-weight="normal" font-style="normal" fill="#333">****</text>
<text x="302.20" y="258.77" font-size="10.92" text-anchor="middle" font-weight="normal" font-style="normal" fill="#262626" transform="rotate(-90 302.2 258.775)">Relative luciferase signal</text>
<text x="414.00" y="201.00" font-size="10.19" text-anchor="middle" font-weight="normal" font-style="normal" fill="#262626">KP4_MSLN</text>
<text x="418.00" y="349.00" font-size="10.71" text-anchor="middle" font-weight="normal" font-style="normal" fill="#262626">E:T Ratio</text>
<path d="M37.65,306.10 L37.65,305.14 L38.15,305.27 L38.65,304.88 L39.15,305.33 L39.65,304.97 L40.15,305.10 L40.65,305.34 L41.15,304.99 L41.65,305.36 L42.15,305.05 L42.65,305.33 L43.15,305.32 L43.65,305.06 L44.15,304.75 L44.65,305.29 L45.15,305.21 L45.65,304.90 L46.15,304.66 L46.65,304.94 L47.15,305.08 L47.65,304.63 L48.15,305.35 L48.65,304.72 L49.15,305.16 L49.65,305.27 L50.15,305.29 L50.65,305.15 L51.15,304.75 L51.65,305.24 L52.15,304.93 L52.65,304.89 L53.15,305.09 L53.65,304.95 L54.15,305.32 L54.65,305.32 L55.15,305.20 L55.65,304.83 L56.15,305.01 L56.65,305.08 L57.15,304.85 L57.65,304.93 L58.15,305.02 L58.65,304.60 L59.15,304.62 L59.65,304.91 L60.15,304.62 L60.65,304.34 L61.15,304.09 L61.65,304.42 L62.15,304.38 L62.65,304.31 L63.15,303.49 L63.65,303.16 L64.15,303.08 L64.65,302.73 L65.15,302.19 L65.65,301.76 L66.15,301.71 L66.65,300.65 L67.15,299.62 L67.65,299.90 L68.15,299.04 L68.65,298.37 L69.15,298.09 L69.65,296.17 L70.15,295.88 L70.65,293.98 L71.15,293.42 L71.65,291.19 L72.15,290.53 L72.65,290.54 L73.15,287.70 L73.65,289.42 L74.15,288.15 L74.65,286.07 L75.15,286.35 L75.65,284.58 L76.15,282.66 L76.65,281.60 L77.15,280.89 L77.65,282.32 L78.15,278.26 L78.65,277.65 L79.15,278.88 L79.65,276.84 L80.15,278.68 L80.65,277.13 L81.15,276.99 L81.65,275.28 L82.15,272.93 L82.65,268.04 L83.15,271.58 L83.65,268.86 L84.15,268.68 L84.65,261.39 L85.15,263.98 L85.65,265.42 L86.15,262.63 L86.65,263.05 L87.15,255.28 L87.65,261.26 L88.15,261.84 L88.65,253.28 L89.15,256.21 L89.65,259.43 L90.15,256.40 L90.65,257.49 L91.15,262.82 L91.65,258.36 L92.15,261.59 L92.65,264.57 L93.15,268.16 L93.65,273.73 L94.15,274.28 L94.65,273.87 L95.15,277.64 L95.65,277.63 L96.15,283.33 L96.65,286.12 L97.15,287.98 L97.65,287.83 L98.15,291.13 L98.65,292.69 L99.15,294.06 L99.65,295.53 L100.15,297.79 L100.65,298.50 L101.15,299.09 L101.65,300.80 L102.15,300.96 L102.65,302.54 L103.15,302.48 L103.65,303.27 L104.15,303.03 L104.65,303.89 L105.15,304.34 L105.65,303.98 L106.15,304.41 L106.65,304.59 L107.15,304.40 L107.65,304.98 L108.15,305.01 L108.65,305.02 L109.15,305.10 L109.65,304.86 L110.15,305.13 L110.65,305.02 L111.15,305.26 L111.65,304.67 L112.15,305.10 L112.65,305.02 L113.15,304.93 L113.65,304.68 L114.15,305.06 L114.65,304.68 L115.15,305.00 L115.65,304.97 L116.15,304.98 L116.65,305.37 L117.15,305.05 L117.65,305.24 L118.15,305.38 L118.65,304.77 L119.15,305.25 L119.65,305.02 L120.15,304.83 L120.65,304.96 L121.15,305.13 L121.65,304.99 L122.15,304.96 L122.65,304.78 L123.15,305.30 L123.65,304.95 L124.15,305.19 L124.65,305.17 L125.15,304.79 L125.65,304.99 L126.15,304.95 L126.65,304.80 L127.15,304.68 L127.65,305.04 L128.15,304.91 L128.65,305.00 L129.15,304.99 L129.65,304.85 L130.15,305.04 L130.65,304.97 L131.15,305.02 L131.65,304.66 L132.15,304.85 L132.65,304.71 L133.15,304.66 L133.65,305.19 L134.15,304.95 L134.65,304.66 L135.15,304.74 L135.65,305.28 L136.15,305.29 L136.65,305.04 L137.15,305.33 L137.65,305.20 L138.15,305.33 L138.65,304.87 L139.15,304.78 L139.65,304.69 L140.15,305.27 L140.65,304.83 L141.15,304.88 L141.65,305.27 L142.15,304.71 L142.65,304.64 L142.65,306.10 Z" fill="#c0c0c0" fill-opacity="0.72" stroke="none"/>
<path d="M37.65,305.14 L38.15,305.27 L38.65,304.88 L39.15,305.33 L39.65,304.97 L40.15,305.10 L40.65,305.34 L41.15,304.99 L41.65,305.36 L42.15,305.05 L42.65,305.33 L43.15,305.32 L43.65,305.06 L44.15,304.75 L44.65,305.29 L45.15,305.21 L45.65,304.90 L46.15,304.66 L46.65,304.94 L47.15,305.08 L47.65,304.63 L48.15,305.35 L48.65,304.72 L49.15,305.16 L49.65,305.27 L50.15,305.29 L50.65,305.15 L51.15,304.75 L51.65,305.24 L52.15,304.93 L52.65,304.89 L53.15,305.09 L53.65,304.95 L54.15,305.32 L54.65,305.32 L55.15,305.20 L55.65,304.83 L56.15,305.01 L56.65,305.08 L57.15,304.85 L57.65,304.93 L58.15,305.02 L58.65,304.60 L59.15,304.62 L59.65,304.91 L60.15,304.62 L60.65,304.34 L61.15,304.09 L61.65,304.42 L62.15,304.38 L62.65,304.31 L63.15,303.49 L63.65,303.16 L64.15,303.08 L64.65,302.73 L65.15,302.19 L65.65,301.76 L66.15,301.71 L66.65,300.65 L67.15,299.62 L67.65,299.90 L68.15,299.04 L68.65,298.37 L69.15,298.09 L69.65,296.17 L70.15,295.88 L70.65,293.98 L71.15,293.42 L71.65,291.19 L72.15,290.53 L72.65,290.54 L73.15,287.70 L73.65,289.42 L74.15,288.15 L74.65,286.07 L75.15,286.35 L75.65,284.58 L76.15,282.66 L76.65,281.60 L77.15,280.89 L77.65,282.32 L78.15,278.26 L78.65,277.65 L79.15,278.88 L79.65,276.84 L80.15,278.68 L80.65,277.13 L81.15,276.99 L81.65,275.28 L82.15,272.93 L82.65,268.04 L83.15,271.58 L83.65,268.86 L84.15,268.68 L84.65,261.39 L85.15,263.98 L85.65,265.42 L86.15,262.63 L86.65,263.05 L87.15,255.28 L87.65,261.26 L88.15,261.84 L88.65,253.28 L89.15,256.21 L89.65,259.43 L90.15,256.40 L90.65,257.49 L91.15,262.82 L91.65,258.36 L92.15,261.59 L92.65,264.57 L93.15,268.16 L93.65,273.73 L94.15,274.28 L94.65,273.87 L95.15,277.64 L95.65,277.63 L96.15,283.33 L96.65,286.12 L97.15,287.98 L97.65,287.83 L98.15,291.13 L98.65,292.69 L99.15,294.06 L99.65,295.53 L100.15,297.79 L100.65,298.50 L101.15,299.09 L101.65,300.80 L102.15,300.96 L102.65,302.54 L103.15,302.48 L103.65,303.27 L104.15,303.03 L104.65,303.89 L105.15,304.34 L105.65,303.98 L106.15,304.41 L106.65,304.59 L107.15,304.40 L107.65,304.98 L108.15,305.01 L108.65,305.02 L109.15,305.10 L109.65,304.86 L110.15,305.13 L110.65,305.02 L111.15,305.26 L111.65,304.67 L112.15,305.10 L112.65,305.02 L113.15,304.93 L113.65,304.68 L114.15,305.06 L114.65,304.68 L115.15,305.00 L115.65,304.97 L116.15,304.98 L116.65,305.37 L117.15,305.05 L117.65,305.24 L118.15,305.38 L118.65,304.77 L119.15,305.25 L119.65,305.02 L120.15,304.83 L120.65,304.96 L121.15,305.13 L121.65,304.99 L122.15,304.96 L122.65,304.78 L123.15,305.30 L123.65,304.95 L124.15,305.19 L124.65,305.17 L125.15,304.79 L125.65,304.99 L126.15,304.95 L126.65,304.80 L127.15,304.68 L127.65,305.04 L128.15,304.91 L128.65,305.00 L129.15,304.99 L129.65,304.85 L130.15,305.04 L130.65,304.97 L131.15,305.02 L131.65,304.66 L132.15,304.85 L132.65,304.71 L133.15,304.66 L133.65,305.19 L134.15,304.95 L134.65,304.66 L135.15,304.74 L135.65,305.28 L136.15,305.29 L136.65,305.04 L137.15,305.33 L137.65,305.20 L138.15,305.33 L138.65,304.87 L139.15,304.78 L139.65,304.69 L140.15,305.27 L140.65,304.83 L141.15,304.88 L141.65,305.27 L142.15,304.71 L142.65,304.64" fill="none" stroke="#707070" stroke-width="0.9" stroke-linejoin="round"/>
<line x1="37.65" y1="305.90" x2="142.65" y2="305.90" stroke="#c0c0c0" stroke-width="0.9"/>
<line x1="37.65" y1="306.45" x2="142.65" y2="306.45" stroke="#707070" stroke-width="0.5" stroke-opacity="0.7"/>
<path d="M34.20,308.30 L34.20,307.42 L34.70,306.85 L35.20,307.28 L35.70,307.21 L36.20,306.82 L36.70,306.94 L37.20,307.46 L37.70,307.25 L38.20,307.19 L38.70,307.32 L39.20,307.43 L39.70,307.34 L40.20,307.03 L40.70,307.57 L41.20,307.16 L41.70,307.25 L42.20,307.57 L42.70,307.33 L43.20,307.10 L43.70,307.19 L44.20,307.54 L44.70,306.83 L45.20,306.98 L45.70,306.84 L46.20,307.50 L46.70,307.38 L47.20,307.55 L47.70,306.99 L48.20,307.38 L48.70,307.49 L49.20,307.26 L49.70,306.88 L50.20,306.95 L50.70,307.39 L51.20,307.47 L51.70,306.88 L52.20,307.15 L52.70,307.05 L53.20,307.52 L53.70,307.54 L54.20,307.06 L54.70,307.26 L55.20,307.53 L55.70,306.86 L56.20,307.09 L56.70,306.95 L57.20,307.45 L57.70,306.71 L58.20,306.34 L58.70,305.78 L59.20,303.21 L59.70,299.95 L60.20,292.52 L60.70,282.57 L61.20,268.28 L61.70,249.62 L62.20,230.42 L62.70,216.95 L63.20,210.39 L63.70,211.48 L64.20,214.90 L64.70,220.92 L65.20,228.24 L65.70,237.04 L66.20,244.30 L66.70,256.41 L67.20,261.56 L67.70,269.53 L68.20,276.77 L68.70,282.47 L69.20,285.53 L69.70,289.42 L70.20,291.26 L70.70,293.57 L71.20,295.33 L71.70,295.61 L72.20,296.39 L72.70,296.46 L73.20,296.06 L73.70,297.25 L74.20,297.28 L74.70,297.61 L75.20,297.28 L75.70,297.08 L76.20,297.62 L76.70,298.18 L77.20,298.59 L77.70,298.22 L78.20,298.61 L78.70,299.10 L79.20,299.06 L79.70,299.53 L80.20,299.28 L80.70,298.96 L81.20,298.87 L81.70,298.86 L82.20,299.67 L82.70,299.48 L83.20,299.43 L83.70,299.91 L84.20,299.57 L84.70,299.66 L85.20,300.42 L85.70,300.04 L86.20,299.96 L86.70,300.17 L87.20,300.37 L87.70,301.28 L88.20,301.20 L88.70,300.95 L89.20,300.93 L89.70,300.95 L90.20,301.65 L90.70,301.00 L91.20,301.43 L91.70,301.80 L92.20,301.71 L92.70,302.15 L93.20,301.93 L93.70,301.43 L94.20,302.10 L94.70,301.96 L95.20,301.95 L95.70,302.51 L96.20,302.70 L96.70,302.46 L97.20,302.84 L97.70,302.96 L98.20,302.43 L98.70,302.81 L99.20,302.82 L99.70,303.18 L100.20,303.01 L100.70,302.48 L101.20,303.32 L101.70,302.66 L102.20,303.42 L102.70,303.06 L103.20,303.40 L103.70,303.53 L104.20,303.59 L104.70,303.42 L105.20,303.30 L105.70,303.45 L106.20,304.09 L106.70,303.95 L107.20,304.00 L107.70,304.13 L108.20,303.74 L108.70,303.96 L109.20,304.24 L109.70,303.81 L110.20,304.19 L110.70,304.32 L111.20,304.04 L111.70,304.40 L112.20,304.76 L112.70,304.25 L113.20,304.17 L113.70,304.74 L114.20,304.77 L114.70,304.26 L115.20,304.28 L115.70,304.31 L116.20,304.56 L116.70,305.04 L117.20,304.77 L117.70,304.66 L118.20,305.26 L118.70,305.09 L119.20,305.07 L119.70,304.84 L120.20,305.14 L120.70,305.30 L121.20,305.37 L121.70,305.74 L122.20,305.27 L122.70,305.86 L123.20,305.31 L123.70,306.14 L124.20,306.31 L124.70,306.39 L125.20,306.37 L125.70,305.94 L126.20,306.38 L126.70,306.41 L127.20,306.64 L127.70,306.79 L128.20,306.93 L128.70,306.65 L129.20,307.03 L129.70,307.10 L130.20,307.04 L130.70,307.07 L131.20,306.75 L131.70,306.89 L132.20,306.91 L132.70,307.57 L133.20,307.56 L133.70,307.04 L134.20,306.90 L134.70,307.22 L135.20,307.13 L135.70,307.58 L136.20,307.28 L136.70,306.87 L137.20,306.95 L137.70,306.93 L138.20,306.84 L138.70,307.39 L139.20,308.30 Z" fill="#a0c9ed" fill-opacity="0.72" stroke="none"/>
<path d="M34.20,307.42 L34.70,306.85 L35.20,307.28 L35.70,307.21 L36.20,306.82 L36.70,306.94 L37.20,307.46 L37.70,307.25 L38.20,307.19 L38.70,307.32 L39.20,307.43 L39.70,307.34 L40.20,307.03 L40.70,307.57 L41.20,307.16 L41.70,307.25 L42.20,307.57 L42.70,307.33 L43.20,307.10 L43.70,307.19 L44.20,307.54 L44.70,306.83 L45.20,306.98 L45.70,306.84 L46.20,307.50 L46.70,307.38 L47.20,307.55 L47.70,306.99 L48.20,307.38 L48.70,307.49 L49.20,307.26 L49.70,306.88 L50.20,306.95 L50.70,307.39 L51.20,307.47 L51.70,306.88 L52.20,307.15 L52.70,307.05 L53.20,307.52 L53.70,307.54 L54.20,307.06 L54.70,307.26 L55.20,307.53 L55.70,306.86 L56.20,307.09 L56.70,306.95 L57.20,307.45 L57.70,306.71 L58.20,306.34 L58.70,305.78 L59.20,303.21 L59.70,299.95 L60.20,292.52 L60.70,282.57 L61.20,268.28 L61.70,249.62 L62.20,230.42 L62.70,216.95 L63.20,210.39 L63.70,211.48 L64.20,214.90 L64.70,220.92 L65.20,228.24 L65.70,237.04 L66.20,244.30 L66.70,256.41 L67.20,261.56 L67.70,269.53 L68.20,276.77 L68.70,282.47 L69.20,285.53 L69.70,289.42 L70.20,291.26 L70.70,293.57 L71.20,295.33 L71.70,295.61 L72.20,296.39 L72.70,296.46 L73.20,296.06 L73.70,297.25 L74.20,297.28 L74.70,297.61 L75.20,297.28 L75.70,297.08 L76.20,297.62 L76.70,298.18 L77.20,298.59 L77.70,298.22 L78.20,298.61 L78.70,299.10 L79.20,299.06 L79.70,299.53 L80.20,299.28 L80.70,298.96 L81.20,298.87 L81.70,298.86 L82.20,299.67 L82.70,299.48 L83.20,299.43 L83.70,299.91 L84.20,299.57 L84.70,299.66 L85.20,300.42 L85.70,300.04 L86.20,299.96 L86.70,300.17 L87.20,300.37 L87.70,301.28 L88.20,301.20 L88.70,300.95 L89.20,300.93 L89.70,300.95 L90.20,301.65 L90.70,301.00 L91.20,301.43 L91.70,301.80 L92.20,301.71 L92.70,302.15 L93.20,301.93 L93.70,301.43 L94.20,302.10 L94.70,301.96 L95.20,301.95 L95.70,302.51 L96.20,302.70 L96.70,302.46 L97.20,302.84 L97.70,302.96 L98.20,302.43 L98.70,302.81 L99.20,302.82 L99.70,303.18 L100.20,303.01 L100.70,302.48 L101.20,303.32 L101.70,302.66 L102.20,303.42 L102.70,303.06 L103.20,303.40 L103.70,303.53 L104.20,303.59 L104.70,303.42 L105.20,303.30 L105.70,303.45 L106.20,304.09 L106.70,303.95 L107.20,304.00 L107.70,304.13 L108.20,303.74 L108.70,303.96 L109.20,304.24 L109.70,303.81 L110.20,304.19 L110.70,304.32 L111.20,304.04 L111.70,304.40 L112.20,304.76 L112.70,304.25 L113.20,304.17 L113.70,304.74 L114.20,304.77 L114.70,304.26 L115.20,304.28 L115.70,304.31 L116.20,304.56 L116.70,305.04 L117.20,304.77 L117.70,304.66 L118.20,305.26 L118.70,305.09 L119.20,305.07 L119.70,304.84 L120.20,305.14 L120.70,305.30 L121.20,305.37 L121.70,305.74 L122.20,305.27 L122.70,305.86 L123.20,305.31 L123.70,306.14 L124.20,306.31 L124.70,306.39 L125.20,306.37 L125.70,305.94 L126.20,306.38 L126.70,306.41 L127.20,306.64 L127.70,306.79 L128.20,306.93 L128.70,306.65 L129.20,307.03 L129.70,307.10 L130.20,307.04 L130.70,307.07 L131.20,306.75 L131.70,306.89 L132.20,306.91 L132.70,307.57 L133.20,307.56 L133.70,307.04 L134.20,306.90 L134.70,307.22 L135.20,307.13 L135.70,307.58 L136.20,307.28 L136.70,306.87 L137.20,306.95 L137.70,306.93 L138.20,306.84 L138.70,307.39" fill="none" stroke="#4f95cf" stroke-width="0.9" stroke-linejoin="round"/>
<line x1="34.20" y1="308.10" x2="139.20" y2="308.10" stroke="#a0c9ed" stroke-width="0.9"/>
<line x1="34.20" y1="308.65" x2="139.20" y2="308.65" stroke="#4f95cf" stroke-width="0.5" stroke-opacity="0.7"/>
<path d="M30.75,310.50 L30.75,309.70 L31.25,309.67 L31.75,309.38 L32.25,309.26 L32.75,309.06 L33.25,309.23 L33.75,309.29 L34.25,309.20 L34.75,309.43 L35.25,309.36 L35.75,309.75 L36.25,309.18 L36.75,309.61 L37.25,309.08 L37.75,309.29 L38.25,309.55 L38.75,309.69 L39.25,309.59 L39.75,309.30 L40.25,309.25 L40.75,309.70 L41.25,309.73 L41.75,309.38 L42.25,309.34 L42.75,309.49 L43.25,309.61 L43.75,309.32 L44.25,309.78 L44.75,309.55 L45.25,309.43 L45.75,309.05 L46.25,309.29 L46.75,309.10 L47.25,309.42 L47.75,309.60 L48.25,309.59 L48.75,309.05 L49.25,309.24 L49.75,309.55 L50.25,309.77 L50.75,309.40 L51.25,309.27 L51.75,309.46 L52.25,309.58 L52.75,309.25 L53.25,309.01 L53.75,309.44 L54.25,309.11 L54.75,308.21 L55.25,306.89 L55.75,304.51 L56.25,300.41 L56.75,294.23 L57.25,286.41 L57.75,274.37 L58.25,263.82 L58.75,254.69 L59.25,248.94 L59.75,247.73 L60.25,248.74 L60.75,250.81 L61.25,253.80 L61.75,258.39 L62.25,262.67 L62.75,268.17 L63.25,273.77 L63.75,278.19 L64.25,279.46 L64.75,283.71 L65.25,287.13 L65.75,290.91 L66.25,292.84 L66.75,294.52 L67.25,296.35 L67.75,297.91 L68.25,298.29 L68.75,298.33 L69.25,298.74 L69.75,299.26 L70.25,299.38 L70.75,300.33 L71.25,299.88 L71.75,300.65 L72.25,300.44 L72.75,300.43 L73.25,300.86 L73.75,301.62 L74.25,300.86 L74.75,300.66 L75.25,301.61 L75.75,300.98 L76.25,301.59 L76.75,302.01 L77.25,302.01 L77.75,301.54 L78.25,302.12 L78.75,302.41 L79.25,301.64 L79.75,302.70 L80.25,302.60 L80.75,302.62 L81.25,302.39 L81.75,302.46 L82.25,303.05 L82.75,303.32 L83.25,303.35 L83.75,303.29 L84.25,303.89 L84.75,303.74 L85.25,303.33 L85.75,303.10 L86.25,304.24 L86.75,304.11 L87.25,303.90 L87.75,304.27 L88.25,303.95 L88.75,303.84 L89.25,304.53 L89.75,304.40 L90.25,304.55 L90.75,304.69 L91.25,304.97 L91.75,304.60 L92.25,304.90 L92.75,304.55 L93.25,305.16 L93.75,304.78 L94.25,305.20 L94.75,304.94 L95.25,304.78 L95.75,305.66 L96.25,305.77 L96.75,305.20 L97.25,305.44 L97.75,305.48 L98.25,305.52 L98.75,305.84 L99.25,305.64 L99.75,306.02 L100.25,306.24 L100.75,305.95 L101.25,306.17 L101.75,306.35 L102.25,306.29 L102.75,306.45 L103.25,306.09 L103.75,306.71 L104.25,306.31 L104.75,306.64 L105.25,306.37 L105.75,306.66 L106.25,306.23 L106.75,306.57 L107.25,306.72 L107.75,306.18 L108.25,306.98 L108.75,306.92 L109.25,306.61 L109.75,306.61 L110.25,306.61 L110.75,307.19 L111.25,307.04 L111.75,306.65 L112.25,307.04 L112.75,307.11 L113.25,307.37 L113.75,306.82 L114.25,307.29 L114.75,306.80 L115.25,307.62 L115.75,306.84 L116.25,307.73 L116.75,307.50 L117.25,307.45 L117.75,307.93 L118.25,308.00 L118.75,307.68 L119.25,308.24 L119.75,308.25 L120.25,308.32 L120.75,308.56 L121.25,308.09 L121.75,308.50 L122.25,308.93 L122.75,308.94 L123.25,308.71 L123.75,308.97 L124.25,308.85 L124.75,308.86 L125.25,309.10 L125.75,309.49 L126.25,309.09 L126.75,309.26 L127.25,309.51 L127.75,309.17 L128.25,309.18 L128.75,309.43 L129.25,309.65 L129.75,309.42 L130.25,309.70 L130.75,309.69 L131.25,309.45 L131.75,309.71 L132.25,309.44 L132.75,309.39 L133.25,309.75 L133.75,309.29 L134.25,309.72 L134.75,309.22 L135.25,309.19 L135.75,309.39 L135.75,310.50 Z" fill="#9652ab" fill-opacity="0.72" stroke="none"/>
<path d="M30.75,309.70 L31.25,309.67 L31.75,309.38 L32.25,309.26 L32.75,309.06 L33.25,309.23 L33.75,309.29 L34.25,309.20 L34.75,309.43 L35.25,309.36 L35.75,309.75 L36.25,309.18 L36.75,309.61 L37.25,309.08 L37.75,309.29 L38.25,309.55 L38.75,309.69 L39.25,309.59 L39.75,309.30 L40.25,309.25 L40.75,309.70 L41.25,309.73 L41.75,309.38 L42.25,309.34 L42.75,309.49 L43.25,309.61 L43.75,309.32 L44.25,309.78 L44.75,309.55 L45.25,309.43 L45.75,309.05 L46.25,309.29 L46.75,309.10 L47.25,309.42 L47.75,309.60 L48.25,309.59 L48.75,309.05 L49.25,309.24 L49.75,309.55 L50.25,309.77 L50.75,309.40 L51.25,309.27 L51.75,309.46 L52.25,309.58 L52.75,309.25 L53.25,309.01 L53.75,309.44 L54.25,309.11 L54.75,308.21 L55.25,306.89 L55.75,304.51 L56.25,300.41 L56.75,294.23 L57.25,286.41 L57.75,274.37 L58.25,263.82 L58.75,254.69 L59.25,248.94 L59.75,247.73 L60.25,248.74 L60.75,250.81 L61.25,253.80 L61.75,258.39 L62.25,262.67 L62.75,268.17 L63.25,273.77 L63.75,278.19 L64.25,279.46 L64.75,283.71 L65.25,287.13 L65.75,290.91 L66.25,292.84 L66.75,294.52 L67.25,296.35 L67.75,297.91 L68.25,298.29 L68.75,298.33 L69.25,298.74 L69.75,299.26 L70.25,299.38 L70.75,300.33 L71.25,299.88 L71.75,300.65 L72.25,300.44 L72.75,300.43 L73.25,300.86 L73.75,301.62 L74.25,300.86 L74.75,300.66 L75.25,301.61 L75.75,300.98 L76.25,301.59 L76.75,302.01 L77.25,302.01 L77.75,301.54 L78.25,302.12 L78.75,302.41 L79.25,301.64 L79.75,302.70 L80.25,302.60 L80.75,302.62 L81.25,302.39 L81.75,302.46 L82.25,303.05 L82.75,303.32 L83.25,303.35 L83.75,303.29 L84.25,303.89 L84.75,303.74 L85.25,303.33 L85.75,303.10 L86.25,304.24 L86.75,304.11 L87.25,303.90 L87.75,304.27 L88.25,303.95 L88.75,303.84 L89.25,304.53 L89.75,304.40 L90.25,304.55 L90.75,304.69 L91.25,304.97 L91.75,304.60 L92.25,304.90 L92.75,304.55 L93.25,305.16 L93.75,304.78 L94.25,305.20 L94.75,304.94 L95.25,304.78 L95.75,305.66 L96.25,305.77 L96.75,305.20 L97.25,305.44 L97.75,305.48 L98.25,305.52 L98.75,305.84 L99.25,305.64 L99.75,306.02 L100.25,306.24 L100.75,305.95 L101.25,306.17 L101.75,306.35 L102.25,306.29 L102.75,306.45 L103.25,306.09 L103.75,306.71 L104.25,306.31 L104.75,306.64 L105.25,306.37 L105.75,306.66 L106.25,306.23 L106.75,306.57 L107.25,306.72 L107.75,306.18 L108.25,306.98 L108.75,306.92 L109.25,306.61 L109.75,306.61 L110.25,306.61 L110.75,307.19 L111.25,307.04 L111.75,306.65 L112.25,307.04 L112.75,307.11 L113.25,307.37 L113.75,306.82 L114.25,307.29 L114.75,306.80 L115.25,307.62 L115.75,306.84 L116.25,307.73 L116.75,307.50 L117.25,307.45 L117.75,307.93 L118.25,308.00 L118.75,307.68 L119.25,308.24 L119.75,308.25 L120.25,308.32 L120.75,308.56 L121.25,308.09 L121.75,308.50 L122.25,308.93 L122.75,308.94 L123.25,308.71 L123.75,308.97 L124.25,308.85 L124.75,308.86 L125.25,309.10 L125.75,309.49 L126.25,309.09 L126.75,309.26 L127.25,309.51 L127.75,309.17 L128.25,309.18 L128.75,309.43 L129.25,309.65 L129.75,309.42 L130.25,309.70 L130.75,309.69 L131.25,309.45 L131.75,309.71 L132.25,309.44 L132.75,309.39 L133.25,309.75 L133.75,309.29 L134.25,309.72 L134.75,309.22 L135.25,309.19 L135.75,309.39" fill="none" stroke="#7a2183" stroke-width="0.9" stroke-linejoin="round"/>
<line x1="30.75" y1="310.30" x2="135.75" y2="310.30" stroke="#9652ab" stroke-width="0.9"/>
<line x1="30.75" y1="310.85" x2="135.75" y2="310.85" stroke="#7a2183" stroke-width="0.5" stroke-opacity="0.7"/>
<path d="M27.30,312.70 L27.30,311.94 L27.80,311.60 L28.30,311.69 L28.80,311.25 L29.30,311.88 L29.80,311.33 L30.30,311.22 L30.80,311.42 L31.30,311.36 L31.80,311.84 L32.30,311.23 L32.80,311.61 L33.30,311.25 L33.80,311.28 L34.30,311.86 L34.80,311.38 L35.30,311.27 L35.80,311.93 L36.30,311.71 L36.80,311.40 L37.30,311.86 L37.80,311.29 L38.30,311.77 L38.80,311.36 L39.30,311.87 L39.80,311.60 L40.30,311.28 L40.80,311.82 L41.30,311.78 L41.80,311.60 L42.30,311.74 L42.80,311.96 L43.30,311.84 L43.80,311.86 L44.30,311.26 L44.80,311.46 L45.30,311.30 L45.80,311.86 L46.30,311.38 L46.80,311.90 L47.30,311.58 L47.80,311.49 L48.30,311.71 L48.80,311.31 L49.30,311.54 L49.80,311.47 L50.30,311.11 L50.80,310.74 L51.30,310.47 L51.80,309.07 L52.30,305.97 L52.80,301.72 L53.30,295.30 L53.80,285.45 L54.30,273.73 L54.80,263.27 L55.30,253.40 L55.80,247.93 L56.30,247.07 L56.80,248.83 L57.30,251.86 L57.80,255.74 L58.30,260.37 L58.80,265.23 L59.30,271.00 L59.80,274.90 L60.30,281.69 L60.80,287.04 L61.30,289.86 L61.80,292.90 L62.30,294.78 L62.80,297.33 L63.30,298.85 L63.80,299.36 L64.30,301.24 L64.80,300.73 L65.30,301.42 L65.80,302.58 L66.30,302.06 L66.80,302.49 L67.30,302.37 L67.80,302.82 L68.30,302.99 L68.80,303.18 L69.30,303.83 L69.80,303.56 L70.30,303.17 L70.80,304.20 L71.30,303.73 L71.80,303.59 L72.30,304.46 L72.80,304.69 L73.30,303.82 L73.80,304.66 L74.30,304.13 L74.80,304.51 L75.30,305.03 L75.80,305.37 L76.30,305.44 L76.80,304.81 L77.30,304.84 L77.80,305.44 L78.30,305.25 L78.80,305.70 L79.30,305.19 L79.80,305.61 L80.30,306.30 L80.80,305.89 L81.30,305.58 L81.80,305.92 L82.30,306.50 L82.80,305.98 L83.30,306.15 L83.80,306.25 L84.30,306.23 L84.80,306.51 L85.30,306.55 L85.80,307.11 L86.30,307.15 L86.80,307.04 L87.30,307.55 L87.80,307.04 L88.30,307.70 L88.80,307.31 L89.30,307.12 L89.80,307.63 L90.30,307.54 L90.80,307.16 L91.30,307.78 L91.80,307.21 L92.30,307.87 L92.80,308.21 L93.30,307.77 L93.80,307.70 L94.30,307.76 L94.80,308.43 L95.30,308.04 L95.80,308.40 L96.30,308.61 L96.80,308.52 L97.30,308.36 L97.80,308.08 L98.30,308.16 L98.80,308.81 L99.30,308.61 L99.80,308.63 L100.30,308.55 L100.80,308.49 L101.30,308.61 L101.80,309.26 L102.30,308.71 L102.80,309.13 L103.30,308.93 L103.80,309.13 L104.30,309.13 L104.80,309.15 L105.30,309.15 L105.80,309.05 L106.30,309.48 L106.80,309.51 L107.30,309.04 L107.80,309.13 L108.30,309.44 L108.80,309.09 L109.30,309.20 L109.80,309.77 L110.30,309.22 L110.80,309.61 L111.30,309.67 L111.80,309.57 L112.30,309.42 L112.80,309.87 L113.30,310.18 L113.80,309.82 L114.30,310.32 L114.80,310.00 L115.30,310.58 L115.80,310.10 L116.30,310.75 L116.80,310.44 L117.30,310.90 L117.80,310.97 L118.30,310.82 L118.80,311.06 L119.30,310.64 L119.80,311.35 L120.30,311.42 L120.80,310.83 L121.30,311.08 L121.80,311.39 L122.30,311.63 L122.80,311.35 L123.30,311.82 L123.80,311.80 L124.30,311.69 L124.80,311.96 L125.30,311.68 L125.80,311.38 L126.30,311.45 L126.80,311.60 L127.30,311.50 L127.80,311.63 L128.30,311.88 L128.80,311.52 L129.30,311.67 L129.80,311.41 L130.30,311.29 L130.80,311.65 L131.30,311.54 L131.80,311.41 L132.30,311.66 L132.30,312.70 Z" fill="#c597d1" fill-opacity="0.72" stroke="none"/>
<path d="M27.30,311.94 L27.80,311.60 L28.30,311.69 L28.80,311.25 L29.30,311.88 L29.80,311.33 L30.30,311.22 L30.80,311.42 L31.30,311.36 L31.80,311.84 L32.30,311.23 L32.80,311.61 L33.30,311.25 L33.80,311.28 L34.30,311.86 L34.80,311.38 L35.30,311.27 L35.80,311.93 L36.30,311.71 L36.80,311.40 L37.30,311.86 L37.80,311.29 L38.30,311.77 L38.80,311.36 L39.30,311.87 L39.80,311.60 L40.30,311.28 L40.80,311.82 L41.30,311.78 L41.80,311.60 L42.30,311.74 L42.80,311.96 L43.30,311.84 L43.80,311.86 L44.30,311.26 L44.80,311.46 L45.30,311.30 L45.80,311.86 L46.30,311.38 L46.80,311.90 L47.30,311.58 L47.80,311.49 L48.30,311.71 L48.80,311.31 L49.30,311.54 L49.80,311.47 L50.30,311.11 L50.80,310.74 L51.30,310.47 L51.80,309.07 L52.30,305.97 L52.80,301.72 L53.30,295.30 L53.80,285.45 L54.30,273.73 L54.80,263.27 L55.30,253.40 L55.80,247.93 L56.30,247.07 L56.80,248.83 L57.30,251.86 L57.80,255.74 L58.30,260.37 L58.80,265.23 L59.30,271.00 L59.80,274.90 L60.30,281.69 L60.80,287.04 L61.30,289.86 L61.80,292.90 L62.30,294.78 L62.80,297.33 L63.30,298.85 L63.80,299.36 L64.30,301.24 L64.80,300.73 L65.30,301.42 L65.80,302.58 L66.30,302.06 L66.80,302.49 L67.30,302.37 L67.80,302.82 L68.30,302.99 L68.80,303.18 L69.30,303.83 L69.80,303.56 L70.30,303.17 L70.80,304.20 L71.30,303.73 L71.80,303.59 L72.30,304.46 L72.80,304.69 L73.30,303.82 L73.80,304.66 L74.30,304.13 L74.80,304.51 L75.30,305.03 L75.80,305.37 L76.30,305.44 L76.80,304.81 L77.30,304.84 L77.80,305.44 L78.30,305.25 L78.80,305.70 L79.30,305.19 L79.80,305.61 L80.30,306.30 L80.80,305.89 L81.30,305.58 L81.80,305.92 L82.30,306.50 L82.80,305.98 L83.30,306.15 L83.80,306.25 L84.30,306.23 L84.80,306.51 L85.30,306.55 L85.80,307.11 L86.30,307.15 L86.80,307.04 L87.30,307.55 L87.80,307.04 L88.30,307.70 L88.80,307.31 L89.30,307.12 L89.80,307.63 L90.30,307.54 L90.80,307.16 L91.30,307.78 L91.80,307.21 L92.30,307.87 L92.80,308.21 L93.30,307.77 L93.80,307.70 L94.30,307.76 L94.80,308.43 L95.30,308.04 L95.80,308.40 L96.30,308.61 L96.80,308.52 L97.30,308.36 L97.80,308.08 L98.30,308.16 L98.80,308.81 L99.30,308.61 L99.80,308.63 L100.30,308.55 L100.80,308.49 L101.30,308.61 L101.80,309.26 L102.30,308.71 L102.80,309.13 L103.30,308.93 L103.80,309.13 L104.30,309.13 L104.80,309.15 L105.30,309.15 L105.80,309.05 L106.30,309.48 L106.80,309.51 L107.30,309.04 L107.80,309.13 L108.30,309.44 L108.80,309.09 L109.30,309.20 L109.80,309.77 L110.30,309.22 L110.80,309.61 L111.30,309.67 L111.80,309.57 L112.30,309.42 L112.80,309.87 L113.30,310.18 L113.80,309.82 L114.30,310.32 L114.80,310.00 L115.30,310.58 L115.80,310.10 L116.30,310.75 L116.80,310.44 L117.30,310.90 L117.80,310.97 L118.30,310.82 L118.80,311.06 L119.30,310.64 L119.80,311.35 L120.30,311.42 L120.80,310.83 L121.30,311.08 L121.80,311.39 L122.30,311.63 L122.80,311.35 L123.30,311.82 L123.80,311.80 L124.30,311.69 L124.80,311.96 L125.30,311.68 L125.80,311.38 L126.30,311.45 L126.80,311.60 L127.30,311.50 L127.80,311.63 L128.30,311.88 L128.80,311.52 L129.30,311.67 L129.80,311.41 L130.30,311.29 L130.80,311.65 L131.30,311.54 L131.80,311.41 L132.30,311.66" fill="none" stroke="#b27ec3" stroke-width="0.9" stroke-linejoin="round"/>
<line x1="27.30" y1="312.50" x2="132.30" y2="312.50" stroke="#c597d1" stroke-width="0.9"/>
<line x1="27.30" y1="313.05" x2="132.30" y2="313.05" stroke="#b27ec3" stroke-width="0.5" stroke-opacity="0.7"/>
<path d="M23.85,314.90 L23.85,314.01 L24.35,313.63 L24.85,313.51 L25.35,313.59 L25.85,313.65 L26.35,313.53 L26.85,313.66 L27.35,313.69 L27.85,313.84 L28.35,313.94 L28.85,313.70 L29.35,314.11 L29.85,313.86 L30.35,313.58 L30.85,313.64 L31.35,313.70 L31.85,313.99 L32.35,313.86 L32.85,313.83 L33.35,313.71 L33.85,313.87 L34.35,313.67 L34.85,313.47 L35.35,314.04 L35.85,313.68 L36.35,313.59 L36.85,313.89 L37.35,313.81 L37.85,313.43 L38.35,314.16 L38.85,313.77 L39.35,314.06 L39.85,313.58 L40.35,313.46 L40.85,313.79 L41.35,314.11 L41.85,313.74 L42.35,313.77 L42.85,313.63 L43.35,313.79 L43.85,313.69 L44.35,313.54 L44.85,313.77 L45.35,313.83 L45.85,313.33 L46.35,313.31 L46.85,312.71 L47.35,311.40 L47.85,309.70 L48.35,305.24 L48.85,298.72 L49.35,287.57 L49.85,274.75 L50.35,259.82 L50.85,242.98 L51.35,231.42 L51.85,225.76 L52.35,225.58 L52.85,228.30 L53.35,232.49 L53.85,238.00 L54.35,243.99 L54.85,251.11 L55.35,258.03 L55.85,265.95 L56.35,271.15 L56.85,278.48 L57.35,283.82 L57.85,289.87 L58.35,293.79 L58.85,296.36 L59.35,299.25 L59.85,301.05 L60.35,302.81 L60.85,303.02 L61.35,304.26 L61.85,304.48 L62.35,304.58 L62.85,304.93 L63.35,305.43 L63.85,305.01 L64.35,305.82 L64.85,305.57 L65.35,306.84 L65.85,305.77 L66.35,306.86 L66.85,306.97 L67.35,306.55 L67.85,306.69 L68.35,306.94 L68.85,306.66 L69.35,306.81 L69.85,306.76 L70.35,307.37 L70.85,307.33 L71.35,307.48 L71.85,307.42 L72.35,308.15 L72.85,308.13 L73.35,308.29 L73.85,308.32 L74.35,308.19 L74.85,308.50 L75.35,308.25 L75.85,308.35 L76.35,308.52 L76.85,308.38 L77.35,308.89 L77.85,309.17 L78.35,308.77 L78.85,308.97 L79.35,308.90 L79.85,308.91 L80.35,309.34 L80.85,309.44 L81.35,309.40 L81.85,309.52 L82.35,309.71 L82.85,309.76 L83.35,309.48 L83.85,309.65 L84.35,309.93 L84.85,310.05 L85.35,309.73 L85.85,310.12 L86.35,310.38 L86.85,310.09 L87.35,310.54 L87.85,309.98 L88.35,310.74 L88.85,310.92 L89.35,310.31 L89.85,310.43 L90.35,310.24 L90.85,310.58 L91.35,310.57 L91.85,310.64 L92.35,310.82 L92.85,310.73 L93.35,311.33 L93.85,310.93 L94.35,310.83 L94.85,310.90 L95.35,311.04 L95.85,311.42 L96.35,311.41 L96.85,311.21 L97.35,311.58 L97.85,311.73 L98.35,311.28 L98.85,311.13 L99.35,311.90 L99.85,311.51 L100.35,311.13 L100.85,311.71 L101.35,311.64 L101.85,312.04 L102.35,312.23 L102.85,312.04 L103.35,312.04 L103.85,312.07 L104.35,311.81 L104.85,311.79 L105.35,312.36 L105.85,311.77 L106.35,311.78 L106.85,312.02 L107.35,312.08 L107.85,312.23 L108.35,311.95 L108.85,312.73 L109.35,312.11 L109.85,312.67 L110.35,312.79 L110.85,312.61 L111.35,312.88 L111.85,312.85 L112.35,313.14 L112.85,313.04 L113.35,312.92 L113.85,313.20 L114.35,312.81 L114.85,313.17 L115.35,313.65 L115.85,313.18 L116.35,313.54 L116.85,313.11 L117.35,313.28 L117.85,313.51 L118.35,313.79 L118.85,313.75 L119.35,313.44 L119.85,313.88 L120.35,313.66 L120.85,313.72 L121.35,313.49 L121.85,313.56 L122.35,313.97 L122.85,314.18 L123.35,313.98 L123.85,313.86 L124.35,313.73 L124.85,313.56 L125.35,313.50 L125.85,314.15 L126.35,313.54 L126.85,313.56 L127.35,313.52 L127.85,313.74 L128.35,313.97 L128.85,313.53 L128.85,314.90 Z" fill="#7272b3" fill-opacity="0.72" stroke="none"/>
<path d="M23.85,314.01 L24.35,313.63 L24.85,313.51 L25.35,313.59 L25.85,313.65 L26.35,313.53 L26.85,313.66 L27.35,313.69 L27.85,313.84 L28.35,313.94 L28.85,313.70 L29.35,314.11 L29.85,313.86 L30.35,313.58 L30.85,313.64 L31.35,313.70 L31.85,313.99 L32.35,313.86 L32.85,313.83 L33.35,313.71 L33.85,313.87 L34.35,313.67 L34.85,313.47 L35.35,314.04 L35.85,313.68 L36.35,313.59 L36.85,313.89 L37.35,313.81 L37.85,313.43 L38.35,314.16 L38.85,313.77 L39.35,314.06 L39.85,313.58 L40.35,313.46 L40.85,313.79 L41.35,314.11 L41.85,313.74 L42.35,313.77 L42.85,313.63 L43.35,313.79 L43.85,313.69 L44.35,313.54 L44.85,313.77 L45.35,313.83 L45.85,313.33 L46.35,313.31 L46.85,312.71 L47.35,311.40 L47.85,309.70 L48.35,305.24 L48.85,298.72 L49.35,287.57 L49.85,274.75 L50.35,259.82 L50.85,242.98 L51.35,231.42 L51.85,225.76 L52.35,225.58 L52.85,228.30 L53.35,232.49 L53.85,238.00 L54.35,243.99 L54.85,251.11 L55.35,258.03 L55.85,265.95 L56.35,271.15 L56.85,278.48 L57.35,283.82 L57.85,289.87 L58.35,293.79 L58.85,296.36 L59.35,299.25 L59.85,301.05 L60.35,302.81 L60.85,303.02 L61.35,304.26 L61.85,304.48 L62.35,304.58 L62.85,304.93 L63.35,305.43 L63.85,305.01 L64.35,305.82 L64.85,305.57 L65.35,306.84 L65.85,305.77 L66.35,306.86 L66.85,306.97 L67.35,306.55 L67.85,306.69 L68.35,306.94 L68.85,306.66 L69.35,306.81 L69.85,306.76 L70.35,307.37 L70.85,307.33 L71.35,307.48 L71.85,307.42 L72.35,308.15 L72.85,308.13 L73.35,308.29 L73.85,308.32 L74.35,308.19 L74.85,308.50 L75.35,308.25 L75.85,308.35 L76.35,308.52 L76.85,308.38 L77.35,308.89 L77.85,309.17 L78.35,308.77 L78.85,308.97 L79.35,308.90 L79.85,308.91 L80.35,309.34 L80.85,309.44 L81.35,309.40 L81.85,309.52 L82.35,309.71 L82.85,309.76 L83.35,309.48 L83.85,309.65 L84.35,309.93 L84.85,310.05 L85.35,309.73 L85.85,310.12 L86.35,310.38 L86.85,310.09 L87.35,310.54 L87.85,309.98 L88.35,310.74 L88.85,310.92 L89.35,310.31 L89.85,310.43 L90.35,310.24 L90.85,310.58 L91.35,310.57 L91.85,310.64 L92.35,310.82 L92.85,310.73 L93.35,311.33 L93.85,310.93 L94.35,310.83 L94.85,310.90 L95.35,311.04 L95.85,311.42 L96.35,311.41 L96.85,311.21 L97.35,311.58 L97.85,311.73 L98.35,311.28 L98.85,311.13 L99.35,311.90 L99.85,311.51 L100.35,311.13 L100.85,311.71 L101.35,311.64 L101.85,312.04 L102.35,312.23 L102.85,312.04 L103.35,312.04 L103.85,312.07 L104.35,311.81 L104.85,311.79 L105.35,312.36 L105.85,311.77 L106.35,311.78 L106.85,312.02 L107.35,312.08 L107.85,312.23 L108.35,311.95 L108.85,312.73 L109.35,312.11 L109.85,312.67 L110.35,312.79 L110.85,312.61 L111.35,312.88 L111.85,312.85 L112.35,313.14 L112.85,313.04 L113.35,312.92 L113.85,313.20 L114.35,312.81 L114.85,313.17 L115.35,313.65 L115.85,313.18 L116.35,313.54 L116.85,313.11 L117.35,313.28 L117.85,313.51 L118.35,313.79 L118.85,313.75 L119.35,313.44 L119.85,313.88 L120.35,313.66 L120.85,313.72 L121.35,313.49 L121.85,313.56 L122.35,313.97 L122.85,314.18 L123.35,313.98 L123.85,313.86 L124.35,313.73 L124.85,313.56 L125.35,313.50 L125.85,314.15 L126.35,313.54 L126.85,313.56 L127.35,313.52 L127.85,313.74 L128.35,313.97 L128.85,313.53" fill="none" stroke="#232368" stroke-width="0.9" stroke-linejoin="round"/>
<line x1="23.85" y1="314.70" x2="128.85" y2="314.70" stroke="#7272b3" stroke-width="0.9"/>
<line x1="23.85" y1="315.25" x2="128.85" y2="315.25" stroke="#232368" stroke-width="0.5" stroke-opacity="0.7"/>
<path d="M20.40,317.10 L20.40,315.76 L20.90,315.86 L21.40,315.68 L21.90,316.12 L22.40,316.32 L22.90,315.96 L23.40,315.77 L23.90,316.23 L24.40,315.81 L24.90,315.67 L25.40,316.20 L25.90,315.92 L26.40,315.86 L26.90,316.03 L27.40,316.23 L27.90,316.19 L28.40,315.81 L28.90,315.78 L29.40,316.03 L29.90,316.32 L30.40,315.76 L30.90,315.79 L31.40,316.21 L31.90,315.94 L32.40,315.69 L32.90,315.70 L33.40,315.98 L33.90,316.02 L34.40,315.93 L34.90,316.24 L35.40,316.24 L35.90,316.25 L36.40,315.85 L36.90,316.11 L37.40,315.95 L37.90,316.08 L38.40,315.99 L38.90,316.27 L39.40,316.35 L39.90,315.62 L40.40,316.10 L40.90,316.30 L41.40,315.89 L41.90,315.76 L42.40,316.22 L42.90,315.79 L43.40,315.63 L43.90,315.50 L44.40,313.57 L44.90,311.67 L45.40,307.79 L45.90,301.39 L46.40,292.01 L46.90,280.47 L47.40,272.16 L47.90,258.88 L48.40,251.01 L48.90,248.15 L49.40,248.64 L49.90,250.64 L50.40,254.40 L50.90,258.45 L51.40,263.60 L51.90,271.41 L52.40,275.81 L52.90,279.15 L53.40,285.42 L53.90,289.04 L54.40,294.63 L54.90,298.01 L55.40,299.98 L55.90,303.53 L56.40,304.32 L56.90,305.09 L57.40,306.94 L57.90,307.18 L58.40,307.96 L58.90,308.48 L59.40,308.25 L59.90,309.01 L60.40,309.25 L60.90,309.59 L61.40,309.69 L61.90,309.97 L62.40,309.76 L62.90,309.93 L63.40,310.45 L63.90,309.97 L64.40,309.58 L64.90,310.28 L65.40,310.67 L65.90,309.92 L66.40,310.49 L66.90,310.46 L67.40,310.63 L67.90,311.21 L68.40,310.96 L68.90,311.24 L69.40,311.08 L69.90,311.48 L70.40,311.10 L70.90,311.67 L71.40,311.56 L71.90,311.62 L72.40,311.71 L72.90,311.36 L73.40,311.88 L73.90,312.09 L74.40,312.11 L74.90,311.38 L75.40,312.17 L75.90,311.88 L76.40,312.16 L76.90,311.95 L77.40,312.25 L77.90,312.70 L78.40,312.35 L78.90,312.73 L79.40,312.26 L79.90,312.66 L80.40,313.05 L80.90,312.49 L81.40,313.22 L81.90,312.90 L82.40,313.08 L82.90,312.97 L83.40,312.71 L83.90,313.27 L84.40,313.07 L84.90,313.03 L85.40,313.11 L85.90,313.05 L86.40,313.23 L86.90,313.18 L87.40,313.13 L87.90,313.76 L88.40,313.52 L88.90,313.73 L89.40,313.95 L89.90,313.67 L90.40,313.96 L90.90,313.42 L91.40,313.81 L91.90,313.84 L92.40,314.12 L92.90,313.45 L93.40,313.90 L93.90,313.91 L94.40,313.72 L94.90,314.32 L95.40,314.33 L95.90,314.39 L96.40,314.05 L96.90,314.59 L97.40,314.11 L97.90,314.06 L98.40,314.04 L98.90,314.60 L99.40,314.38 L99.90,314.51 L100.40,314.51 L100.90,314.39 L101.40,314.65 L101.90,314.26 L102.40,314.29 L102.90,314.53 L103.40,314.29 L103.90,314.64 L104.40,314.36 L104.90,314.94 L105.40,314.87 L105.90,314.59 L106.40,314.66 L106.90,315.33 L107.40,314.74 L107.90,315.32 L108.40,315.13 L108.90,315.28 L109.40,315.43 L109.90,315.78 L110.40,315.13 L110.90,315.18 L111.40,315.34 L111.90,315.32 L112.40,315.59 L112.90,315.91 L113.40,315.64 L113.90,316.00 L114.40,315.84 L114.90,315.58 L115.40,315.86 L115.90,316.18 L116.40,315.98 L116.90,316.05 L117.40,315.65 L117.90,316.16 L118.40,316.15 L118.90,315.89 L119.40,316.29 L119.90,315.93 L120.40,315.65 L120.90,315.99 L121.40,316.18 L121.90,316.03 L122.40,315.97 L122.90,316.27 L123.40,316.29 L123.90,316.28 L124.40,316.16 L124.90,316.07 L125.40,316.16 L125.40,317.10 Z" fill="#9d9ed9" fill-opacity="0.72" stroke="none"/>
<path d="M20.40,315.76 L20.90,315.86 L21.40,315.68 L21.90,316.12 L22.40,316.32 L22.90,315.96 L23.40,315.77 L23.90,316.23 L24.40,315.81 L24.90,315.67 L25.40,316.20 L25.90,315.92 L26.40,315.86 L26.90,316.03 L27.40,316.23 L27.90,316.19 L28.40,315.81 L28.90,315.78 L29.40,316.03 L29.90,316.32 L30.40,315.76 L30.90,315.79 L31.40,316.21 L31.90,315.94 L32.40,315.69 L32.90,315.70 L33.40,315.98 L33.90,316.02 L34.40,315.93 L34.90,316.24 L35.40,316.24 L35.90,316.25 L36.40,315.85 L36.90,316.11 L37.40,315.95 L37.90,316.08 L38.40,315.99 L38.90,316.27 L39.40,316.35 L39.90,315.62 L40.40,316.10 L40.90,316.30 L41.40,315.89 L41.90,315.76 L42.40,316.22 L42.90,315.79 L43.40,315.63 L43.90,315.50 L44.40,313.57 L44.90,311.67 L45.40,307.79 L45.90,301.39 L46.40,292.01 L46.90,280.47 L47.40,272.16 L47.90,258.88 L48.40,251.01 L48.90,248.15 L49.40,248.64 L49.90,250.64 L50.40,254.40 L50.90,258.45 L51.40,263.60 L51.90,271.41 L52.40,275.81 L52.90,279.15 L53.40,285.42 L53.90,289.04 L54.40,294.63 L54.90,298.01 L55.40,299.98 L55.90,303.53 L56.40,304.32 L56.90,305.09 L57.40,306.94 L57.90,307.18 L58.40,307.96 L58.90,308.48 L59.40,308.25 L59.90,309.01 L60.40,309.25 L60.90,309.59 L61.40,309.69 L61.90,309.97 L62.40,309.76 L62.90,309.93 L63.40,310.45 L63.90,309.97 L64.40,309.58 L64.90,310.28 L65.40,310.67 L65.90,309.92 L66.40,310.49 L66.90,310.46 L67.40,310.63 L67.90,311.21 L68.40,310.96 L68.90,311.24 L69.40,311.08 L69.90,311.48 L70.40,311.10 L70.90,311.67 L71.40,311.56 L71.90,311.62 L72.40,311.71 L72.90,311.36 L73.40,311.88 L73.90,312.09 L74.40,312.11 L74.90,311.38 L75.40,312.17 L75.90,311.88 L76.40,312.16 L76.90,311.95 L77.40,312.25 L77.90,312.70 L78.40,312.35 L78.90,312.73 L79.40,312.26 L79.90,312.66 L80.40,313.05 L80.90,312.49 L81.40,313.22 L81.90,312.90 L82.40,313.08 L82.90,312.97 L83.40,312.71 L83.90,313.27 L84.40,313.07 L84.90,313.03 L85.40,313.11 L85.90,313.05 L86.40,313.23 L86.90,313.18 L87.40,313.13 L87.90,313.76 L88.40,313.52 L88.90,313.73 L89.40,313.95 L89.90,313.67 L90.40,313.96 L90.90,313.42 L91.40,313.81 L91.90,313.84 L92.40,314.12 L92.90,313.45 L93.40,313.90 L93.90,313.91 L94.40,313.72 L94.90,314.32 L95.40,314.33 L95.90,314.39 L96.40,314.05 L96.90,314.59 L97.40,314.11 L97.90,314.06 L98.40,314.04 L98.90,314.60 L99.40,314.38 L99.90,314.51 L100.40,314.51 L100.90,314.39 L101.40,314.65 L101.90,314.26 L102.40,314.29 L102.90,314.53 L103.40,314.29 L103.90,314.64 L104.40,314.36 L104.90,314.94 L105.40,314.87 L105.90,314.59 L106.40,314.66 L106.90,315.33 L107.40,314.74 L107.90,315.32 L108.40,315.13 L108.90,315.28 L109.40,315.43 L109.90,315.78 L110.40,315.13 L110.90,315.18 L111.40,315.34 L111.90,315.32 L112.40,315.59 L112.90,315.91 L113.40,315.64 L113.90,316.00 L114.40,315.84 L114.90,315.58 L115.40,315.86 L115.90,316.18 L116.40,315.98 L116.90,316.05 L117.40,315.65 L117.90,316.16 L118.40,316.15 L118.90,315.89 L119.40,316.29 L119.90,315.93 L120.40,315.65 L120.90,315.99 L121.40,316.18 L121.90,316.03 L122.40,315.97 L122.90,316.27 L123.40,316.29 L123.90,316.28 L124.40,316.16 L124.90,316.07 L125.40,316.16" fill="none" stroke="#6a6cc0" stroke-width="0.9" stroke-linejoin="round"/>
<line x1="20.40" y1="316.90" x2="125.40" y2="316.90" stroke="#9d9ed9" stroke-width="0.9"/>
<line x1="20.40" y1="317.45" x2="125.40" y2="317.45" stroke="#6a6cc0" stroke-width="0.5" stroke-opacity="0.7"/>
<path d="M16.95,319.30 L16.95,318.40 L17.45,318.52 L17.95,318.16 L18.45,317.94 L18.95,318.12 L19.45,318.15 L19.95,318.08 L20.45,318.43 L20.95,318.04 L21.45,318.23 L21.95,318.16 L22.45,318.11 L22.95,318.22 L23.45,318.35 L23.95,318.40 L24.45,318.41 L24.95,318.19 L25.45,318.29 L25.95,318.13 L26.45,318.58 L26.95,318.31 L27.45,317.92 L27.95,318.40 L28.45,318.16 L28.95,318.21 L29.45,318.37 L29.95,317.82 L30.45,318.36 L30.95,317.99 L31.45,318.46 L31.95,318.53 L32.45,317.91 L32.95,318.25 L33.45,318.54 L33.95,318.29 L34.45,318.25 L34.95,318.02 L35.45,318.50 L35.95,318.41 L36.45,317.85 L36.95,318.02 L37.45,318.47 L37.95,318.33 L38.45,318.31 L38.95,318.06 L39.45,318.10 L39.95,317.90 L40.45,317.85 L40.95,317.65 L41.45,316.89 L41.95,315.13 L42.45,311.11 L42.95,304.87 L43.45,294.83 L43.95,279.30 L44.45,264.10 L44.95,252.23 L45.45,247.11 L45.95,248.13 L46.45,252.32 L46.95,259.14 L47.45,267.47 L47.95,276.39 L48.45,284.12 L48.95,292.63 L49.45,299.18 L49.95,303.19 L50.45,307.65 L50.95,310.63 L51.45,312.14 L51.95,313.37 L52.45,313.73 L52.95,313.80 L53.45,314.51 L53.95,314.33 L54.45,315.25 L54.95,314.80 L55.45,314.55 L55.95,314.58 L56.45,315.02 L56.95,315.13 L57.45,315.14 L57.95,314.93 L58.45,315.22 L58.95,315.57 L59.45,315.39 L59.95,315.16 L60.45,315.41 L60.95,315.50 L61.45,315.63 L61.95,315.44 L62.45,315.96 L62.95,315.42 L63.45,316.14 L63.95,315.65 L64.45,315.49 L64.95,315.96 L65.45,316.27 L65.95,316.07 L66.45,316.43 L66.95,316.06 L67.45,315.85 L67.95,316.57 L68.45,316.08 L68.95,316.21 L69.45,316.60 L69.95,316.27 L70.45,316.64 L70.95,316.43 L71.45,316.44 L71.95,316.16 L72.45,316.63 L72.95,316.94 L73.45,316.91 L73.95,316.99 L74.45,316.46 L74.95,316.49 L75.45,317.21 L75.95,316.90 L76.45,316.91 L76.95,317.08 L77.45,316.63 L77.95,317.02 L78.45,317.03 L78.95,316.72 L79.45,316.62 L79.95,316.93 L80.45,317.42 L80.95,316.74 L81.45,316.80 L81.95,317.23 L82.45,316.77 L82.95,316.81 L83.45,317.29 L83.95,317.39 L84.45,316.95 L84.95,317.01 L85.45,317.53 L85.95,317.53 L86.45,317.41 L86.95,317.60 L87.45,317.42 L87.95,317.69 L88.45,317.15 L88.95,317.59 L89.45,317.59 L89.95,317.80 L90.45,317.54 L90.95,317.32 L91.45,317.67 L91.95,317.74 L92.45,317.24 L92.95,317.75 L93.45,317.36 L93.95,317.19 L94.45,317.22 L94.95,317.77 L95.45,317.87 L95.95,317.76 L96.45,317.51 L96.95,317.82 L97.45,317.84 L97.95,317.91 L98.45,317.62 L98.95,317.47 L99.45,317.56 L99.95,317.83 L100.45,318.04 L100.95,317.49 L101.45,317.66 L101.95,317.77 L102.45,317.84 L102.95,318.20 L103.45,318.10 L103.95,318.20 L104.45,317.76 L104.95,318.12 L105.45,318.05 L105.95,317.68 L106.45,317.81 L106.95,317.74 L107.45,317.78 L107.95,318.36 L108.45,318.27 L108.95,318.47 L109.45,317.99 L109.95,318.02 L110.45,318.27 L110.95,318.24 L111.45,318.06 L111.95,318.05 L112.45,318.39 L112.95,317.93 L113.45,318.31 L113.95,318.10 L114.45,318.45 L114.95,318.50 L115.45,317.88 L115.95,318.02 L116.45,318.04 L116.95,318.55 L117.45,318.55 L117.95,318.46 L118.45,318.43 L118.95,318.35 L119.45,318.29 L119.95,318.55 L120.45,318.35 L120.95,318.09 L121.45,318.45 L121.95,317.94 L121.95,319.30 Z" fill="#52a768" fill-opacity="0.55" stroke="none"/>
<path d="M16.95,318.40 L17.45,318.52 L17.95,318.16 L18.45,317.94 L18.95,318.12 L19.45,318.15 L19.95,318.08 L20.45,318.43 L20.95,318.04 L21.45,318.23 L21.95,318.16 L22.45,318.11 L22.95,318.22 L23.45,318.35 L23.95,318.40 L24.45,318.41 L24.95,318.19 L25.45,318.29 L25.95,318.13 L26.45,318.58 L26.95,318.31 L27.45,317.92 L27.95,318.40 L28.45,318.16 L28.95,318.21 L29.45,318.37 L29.95,317.82 L30.45,318.36 L30.95,317.99 L31.45,318.46 L31.95,318.53 L32.45,317.91 L32.95,318.25 L33.45,318.54 L33.95,318.29 L34.45,318.25 L34.95,318.02 L35.45,318.50 L35.95,318.41 L36.45,317.85 L36.95,318.02 L37.45,318.47 L37.95,318.33 L38.45,318.31 L38.95,318.06 L39.45,318.10 L39.95,317.90 L40.45,317.85 L40.95,317.65 L41.45,316.89 L41.95,315.13 L42.45,311.11 L42.95,304.87 L43.45,294.83 L43.95,279.30 L44.45,264.10 L44.95,252.23 L45.45,247.11 L45.95,248.13 L46.45,252.32 L46.95,259.14 L47.45,267.47 L47.95,276.39 L48.45,284.12 L48.95,292.63 L49.45,299.18 L49.95,303.19 L50.45,307.65 L50.95,310.63 L51.45,312.14 L51.95,313.37 L52.45,313.73 L52.95,313.80 L53.45,314.51 L53.95,314.33 L54.45,315.25 L54.95,314.80 L55.45,314.55 L55.95,314.58 L56.45,315.02 L56.95,315.13 L57.45,315.14 L57.95,314.93 L58.45,315.22 L58.95,315.57 L59.45,315.39 L59.95,315.16 L60.45,315.41 L60.95,315.50 L61.45,315.63 L61.95,315.44 L62.45,315.96 L62.95,315.42 L63.45,316.14 L63.95,315.65 L64.45,315.49 L64.95,315.96 L65.45,316.27 L65.95,316.07 L66.45,316.43 L66.95,316.06 L67.45,315.85 L67.95,316.57 L68.45,316.08 L68.95,316.21 L69.45,316.60 L69.95,316.27 L70.45,316.64 L70.95,316.43 L71.45,316.44 L71.95,316.16 L72.45,316.63 L72.95,316.94 L73.45,316.91 L73.95,316.99 L74.45,316.46 L74.95,316.49 L75.45,317.21 L75.95,316.90 L76.45,316.91 L76.95,317.08 L77.45,316.63 L77.95,317.02 L78.45,317.03 L78.95,316.72 L79.45,316.62 L79.95,316.93 L80.45,317.42 L80.95,316.74 L81.45,316.80 L81.95,317.23 L82.45,316.77 L82.95,316.81 L83.45,317.29 L83.95,317.39 L84.45,316.95 L84.95,317.01 L85.45,317.53 L85.95,317.53 L86.45,317.41 L86.95,317.60 L87.45,317.42 L87.95,317.69 L88.45,317.15 L88.95,317.59 L89.45,317.59 L89.95,317.80 L90.45,317.54 L90.95,317.32 L91.45,317.67 L91.95,317.74 L92.45,317.24 L92.95,317.75 L93.45,317.36 L93.95,317.19 L94.45,317.22 L94.95,317.77 L95.45,317.87 L95.95,317.76 L96.45,317.51 L96.95,317.82 L97.45,317.84 L97.95,317.91 L98.45,317.62 L98.95,317.47 L99.45,317.56 L99.95,317.83 L100.45,318.04 L100.95,317.49 L101.45,317.66 L101.95,317.77 L102.45,317.84 L102.95,318.20 L103.45,318.10 L103.95,318.20 L104.45,317.76 L104.95,318.12 L105.45,318.05 L105.95,317.68 L106.45,317.81 L106.95,317.74 L107.45,317.78 L107.95,318.36 L108.45,318.27 L108.95,318.47 L109.45,317.99 L109.95,318.02 L110.45,318.27 L110.95,318.24 L111.45,318.06 L111.95,318.05 L112.45,318.39 L112.95,317.93 L113.45,318.31 L113.95,318.10 L114.45,318.45 L114.95,318.50 L115.45,317.88 L115.95,318.02 L116.45,318.04 L116.95,318.55 L117.45,318.55 L117.95,318.46 L118.45,318.43 L118.95,318.35 L119.45,318.29 L119.95,318.55 L120.45,318.35 L120.95,318.09 L121.45,318.45 L121.95,317.94" fill="none" stroke="#1f7a3c" stroke-width="0.9" stroke-linejoin="round"/>
<line x1="16.95" y1="319.10" x2="121.95" y2="319.10" stroke="#52a768" stroke-width="0.9"/>
<line x1="16.95" y1="319.65" x2="121.95" y2="319.65" stroke="#1f7a3c" stroke-width="0.5" stroke-opacity="0.7"/>
<path d="M13.50,321.50 L13.50,320.35 L14.00,320.23 L14.50,320.59 L15.00,320.45 L15.50,320.26 L16.00,320.52 L16.50,320.78 L17.00,320.14 L17.50,320.19 L18.00,320.56 L18.50,320.75 L19.00,320.13 L19.50,320.32 L20.00,320.75 L20.50,320.60 L21.00,320.70 L21.50,320.18 L22.00,320.62 L22.50,320.08 L23.00,320.21 L23.50,320.72 L24.00,320.25 L24.50,320.48 L25.00,320.21 L25.50,320.15 L26.00,320.57 L26.50,320.72 L27.00,320.06 L27.50,320.46 L28.00,320.07 L28.50,320.25 L29.00,320.22 L29.50,320.15 L30.00,320.30 L30.50,320.44 L31.00,320.74 L31.50,320.25 L32.00,320.46 L32.50,320.39 L33.00,320.07 L33.50,320.69 L34.00,320.20 L34.50,320.75 L35.00,320.24 L35.50,320.16 L36.00,320.57 L36.50,320.32 L37.00,319.88 L37.50,319.86 L38.00,319.32 L38.50,316.84 L39.00,312.56 L39.50,304.65 L40.00,292.13 L40.50,278.85 L41.00,263.27 L41.50,252.58 L42.00,250.30 L42.50,252.78 L43.00,257.77 L43.50,266.03 L44.00,274.50 L44.50,282.59 L45.00,291.77 L45.50,299.07 L46.00,305.11 L46.50,309.49 L47.00,312.83 L47.50,315.05 L48.00,316.12 L48.50,316.50 L49.00,317.25 L49.50,317.36 L50.00,317.84 L50.50,317.28 L51.00,317.85 L51.50,317.24 L52.00,318.02 L52.50,317.85 L53.00,317.90 L53.50,317.71 L54.00,317.83 L54.50,317.80 L55.00,318.33 L55.50,318.57 L56.00,317.86 L56.50,318.51 L57.00,317.98 L57.50,318.49 L58.00,318.06 L58.50,318.50 L59.00,318.27 L59.50,318.64 L60.00,318.64 L60.50,318.73 L61.00,318.66 L61.50,318.40 L62.00,318.36 L62.50,318.68 L63.00,319.05 L63.50,318.79 L64.00,318.78 L64.50,318.98 L65.00,319.17 L65.50,319.07 L66.00,318.86 L66.50,318.83 L67.00,318.78 L67.50,319.26 L68.00,319.08 L68.50,319.28 L69.00,319.05 L69.50,318.85 L70.00,319.42 L70.50,319.21 L71.00,319.53 L71.50,319.48 L72.00,318.97 L72.50,319.03 L73.00,318.97 L73.50,319.15 L74.00,319.33 L74.50,319.59 L75.00,319.11 L75.50,319.37 L76.00,319.64 L76.50,319.85 L77.00,319.43 L77.50,319.89 L78.00,319.67 L78.50,319.66 L79.00,319.57 L79.50,319.94 L80.00,319.38 L80.50,319.97 L81.00,319.85 L81.50,319.71 L82.00,319.74 L82.50,319.94 L83.00,320.04 L83.50,319.69 L84.00,319.87 L84.50,319.86 L85.00,319.74 L85.50,319.61 L86.00,319.48 L86.50,320.14 L87.00,319.92 L87.50,319.53 L88.00,319.67 L88.50,319.70 L89.00,320.13 L89.50,320.29 L90.00,320.14 L90.50,319.79 L91.00,319.65 L91.50,319.67 L92.00,319.64 L92.50,320.22 L93.00,320.10 L93.50,319.85 L94.00,320.28 L94.50,319.84 L95.00,319.83 L95.50,319.97 L96.00,320.02 L96.50,320.35 L97.00,319.94 L97.50,320.29 L98.00,320.36 L98.50,320.19 L99.00,319.90 L99.50,320.12 L100.00,320.50 L100.50,320.59 L101.00,320.53 L101.50,320.02 L102.00,320.51 L102.50,320.24 L103.00,320.45 L103.50,320.16 L104.00,320.41 L104.50,320.60 L105.00,320.05 L105.50,320.32 L106.00,320.22 L106.50,320.13 L107.00,320.04 L107.50,320.77 L108.00,320.52 L108.50,320.67 L109.00,320.40 L109.50,320.11 L110.00,320.17 L110.50,320.76 L111.00,320.64 L111.50,320.15 L112.00,320.26 L112.50,320.48 L113.00,320.42 L113.50,320.66 L114.00,320.13 L114.50,320.48 L115.00,320.11 L115.50,320.31 L116.00,320.73 L116.50,320.53 L117.00,320.62 L117.50,320.10 L118.00,320.33 L118.50,320.75 L118.50,321.50 Z" fill="#88cd94" fill-opacity="0.55" stroke="none"/>
<path d="M13.50,320.35 L14.00,320.23 L14.50,320.59 L15.00,320.45 L15.50,320.26 L16.00,320.52 L16.50,320.78 L17.00,320.14 L17.50,320.19 L18.00,320.56 L18.50,320.75 L19.00,320.13 L19.50,320.32 L20.00,320.75 L20.50,320.60 L21.00,320.70 L21.50,320.18 L22.00,320.62 L22.50,320.08 L23.00,320.21 L23.50,320.72 L24.00,320.25 L24.50,320.48 L25.00,320.21 L25.50,320.15 L26.00,320.57 L26.50,320.72 L27.00,320.06 L27.50,320.46 L28.00,320.07 L28.50,320.25 L29.00,320.22 L29.50,320.15 L30.00,320.30 L30.50,320.44 L31.00,320.74 L31.50,320.25 L32.00,320.46 L32.50,320.39 L33.00,320.07 L33.50,320.69 L34.00,320.20 L34.50,320.75 L35.00,320.24 L35.50,320.16 L36.00,320.57 L36.50,320.32 L37.00,319.88 L37.50,319.86 L38.00,319.32 L38.50,316.84 L39.00,312.56 L39.50,304.65 L40.00,292.13 L40.50,278.85 L41.00,263.27 L41.50,252.58 L42.00,250.30 L42.50,252.78 L43.00,257.77 L43.50,266.03 L44.00,274.50 L44.50,282.59 L45.00,291.77 L45.50,299.07 L46.00,305.11 L46.50,309.49 L47.00,312.83 L47.50,315.05 L48.00,316.12 L48.50,316.50 L49.00,317.25 L49.50,317.36 L50.00,317.84 L50.50,317.28 L51.00,317.85 L51.50,317.24 L52.00,318.02 L52.50,317.85 L53.00,317.90 L53.50,317.71 L54.00,317.83 L54.50,317.80 L55.00,318.33 L55.50,318.57 L56.00,317.86 L56.50,318.51 L57.00,317.98 L57.50,318.49 L58.00,318.06 L58.50,318.50 L59.00,318.27 L59.50,318.64 L60.00,318.64 L60.50,318.73 L61.00,318.66 L61.50,318.40 L62.00,318.36 L62.50,318.68 L63.00,319.05 L63.50,318.79 L64.00,318.78 L64.50,318.98 L65.00,319.17 L65.50,319.07 L66.00,318.86 L66.50,318.83 L67.00,318.78 L67.50,319.26 L68.00,319.08 L68.50,319.28 L69.00,319.05 L69.50,318.85 L70.00,319.42 L70.50,319.21 L71.00,319.53 L71.50,319.48 L72.00,318.97 L72.50,319.03 L73.00,318.97 L73.50,319.15 L74.00,319.33 L74.50,319.59 L75.00,319.11 L75.50,319.37 L76.00,319.64 L76.50,319.85 L77.00,319.43 L77.50,319.89 L78.00,319.67 L78.50,319.66 L79.00,319.57 L79.50,319.94 L80.00,319.38 L80.50,319.97 L81.00,319.85 L81.50,319.71 L82.00,319.74 L82.50,319.94 L83.00,320.04 L83.50,319.69 L84.00,319.87 L84.50,319.86 L85.00,319.74 L85.50,319.61 L86.00,319.48 L86.50,320.14 L87.00,319.92 L87.50,319.53 L88.00,319.67 L88.50,319.70 L89.00,320.13 L89.50,320.29 L90.00,320.14 L90.50,319.79 L91.00,319.65 L91.50,319.67 L92.00,319.64 L92.50,320.22 L93.00,320.10 L93.50,319.85 L94.00,320.28 L94.50,319.84 L95.00,319.83 L95.50,319.97 L96.00,320.02 L96.50,320.35 L97.00,319.94 L97.50,320.29 L98.00,320.36 L98.50,320.19 L99.00,319.90 L99.50,320.12 L100.00,320.50 L100.50,320.59 L101.00,320.53 L101.50,320.02 L102.00,320.51 L102.50,320.24 L103.00,320.45 L103.50,320.16 L104.00,320.41 L104.50,320.60 L105.00,320.05 L105.50,320.32 L106.00,320.22 L106.50,320.13 L107.00,320.04 L107.50,320.77 L108.00,320.52 L108.50,320.67 L109.00,320.40 L109.50,320.11 L110.00,320.17 L110.50,320.76 L111.00,320.64 L111.50,320.15 L112.00,320.26 L112.50,320.48 L113.00,320.42 L113.50,320.66 L114.00,320.13 L114.50,320.48 L115.00,320.11 L115.50,320.31 L116.00,320.73 L116.50,320.53 L117.00,320.62 L117.50,320.10 L118.00,320.33 L118.50,320.75" fill="none" stroke="#4fb35e" stroke-width="0.9" stroke-linejoin="round"/>
<line x1="13.50" y1="321.30" x2="118.50" y2="321.30" stroke="#88cd94" stroke-width="0.9"/>
<line x1="13.50" y1="321.85" x2="118.50" y2="321.85" stroke="#4fb35e" stroke-width="0.5" stroke-opacity="0.7"/>
<line x1="13.50" y1="321.80" x2="37.65" y2="306.40" stroke="#444" stroke-width="0.7"/>
<line x1="59.50" y1="321.80" x2="83.65" y2="306.40" stroke="#222" stroke-width="0.85"/>
<line x1="87.50" y1="321.80" x2="111.65" y2="306.40" stroke="#222" stroke-width="0.85"/>
<line x1="112.50" y1="321.80" x2="136.65" y2="306.40" stroke="#222" stroke-width="0.85"/>
<rect x="14.50" y="322.50" width="1.26" height="2.03" fill="#111"/>
<rect x="17.29" y="322.50" width="2.36" height="2.07" fill="#111"/>
<rect x="20.96" y="322.50" width="0.82" height="2.29" fill="#111"/>
<rect x="23.04" y="322.50" width="0.86" height="2.15" fill="#111"/>
<rect x="26.47" y="322.50" width="0.92" height="1.77" fill="#111"/>
<rect x="29.34" y="322.50" width="1.54" height="1.93" fill="#111"/>
<rect x="32.47" y="322.50" width="1.51" height="2.28" fill="#111"/>
<rect x="35.64" y="322.50" width="3.38" height="2.79" fill="#111"/>
<rect x="39.69" y="322.50" width="2.31" height="2.53" fill="#111"/>
<rect x="44.35" y="322.50" width="2.89" height="2.36" fill="#111"/>
<rect x="49.11" y="322.50" width="1.78" height="1.94" fill="#111"/>
<rect x="53.08" y="322.50" width="3.16" height="2.73" fill="#111"/>
<rect x="58.20" y="322.50" width="1.62" height="2.52" fill="#111"/>
<rect x="61.90" y="322.50" width="2.17" height="2.36" fill="#111"/>
<rect x="65.37" y="322.50" width="2.29" height="2.09" fill="#111"/>
<rect x="68.38" y="322.50" width="1.71" height="1.99" fill="#111"/>
<rect x="72.67" y="322.50" width="2.10" height="2.04" fill="#111"/>
<rect x="75.85" y="322.50" width="1.43" height="2.02" fill="#111"/>
<rect x="78.16" y="322.50" width="0.82" height="2.65" fill="#111"/>
<rect x="80.48" y="322.50" width="2.00" height="2.28" fill="#111"/>
<rect x="83.69" y="322.50" width="1.26" height="1.68" fill="#111"/>
<rect x="86.15" y="322.50" width="1.63" height="2.47" fill="#111"/>
<rect x="89.49" y="322.50" width="3.33" height="2.01" fill="#111"/>
<rect x="95.26" y="322.50" width="2.38" height="1.70" fill="#111"/>
<rect x="98.59" y="322.50" width="2.37" height="2.78" fill="#111"/>
<rect x="102.27" y="322.50" width="2.89" height="2.11" fill="#111"/>
<rect x="107.50" y="322.50" width="0.98" height="2.18" fill="#111"/>
<rect x="110.88" y="322.50" width="1.54" height="1.91" fill="#111"/>
<rect x="113.07" y="322.50" width="1.24" height="1.92" fill="#111"/>
<rect x="116.33" y="322.50" width="1.17" height="2.08" fill="#111"/>
<rect x="58.20" y="322.30" width="2.60" height="2.80" fill="#111"/>
<rect x="86.20" y="322.30" width="2.60" height="2.80" fill="#111"/>
<rect x="111.20" y="322.30" width="2.60" height="2.80" fill="#111"/>
<text x="26.20" y="333.80" font-size="9.45" text-anchor="middle" fill="#262626">−10<tspan font-size="6.51" dy="-3.8">3</tspan></text>
<text x="40.80" y="333.80" font-size="9.45" text-anchor="middle" font-weight="normal" font-style="normal" fill="#262626">0</text>
<text x="58.80" y="333.80" font-size="9.45" text-anchor="middle" fill="#262626">10<tspan font-size="6.51" dy="-3.8">3</tspan></text>
<text x="87.50" y="333.80" font-size="9.45" text-anchor="middle" fill="#262626">10<tspan font-size="6.51" dy="-3.8">4</tspan></text>
<text x="112.90" y="333.80" font-size="9.45" text-anchor="middle" fill="#262626">10<tspan font-size="6.51" dy="-3.8">5</tspan></text>
<text x="75.00" y="348.00" font-size="10.82" text-anchor="middle" font-weight="normal" font-style="normal" fill="#262626">PE-MSLN</text>
<text x="78.40" y="199.80" font-size="10.19" text-anchor="middle" font-weight="normal" font-style="normal" fill="#262626">HupT3</text>
<path d="M156.95,300.45 L156.95,298.73 L157.45,298.44 L157.95,298.68 L158.45,299.19 L158.95,298.59 L159.45,298.33 L159.95,298.74 L160.45,299.32 L160.95,298.50 L161.45,298.43 L161.95,299.03 L162.45,299.26 L162.95,299.20 L163.45,298.81 L163.95,298.43 L164.45,298.69 L164.95,298.38 L165.45,299.17 L165.95,299.04 L166.45,298.57 L166.95,298.68 L167.45,298.96 L167.95,298.65 L168.45,299.03 L168.95,299.35 L169.45,298.95 L169.95,299.36 L170.45,298.71 L170.95,299.04 L171.45,298.86 L171.95,298.74 L172.45,299.12 L172.95,298.89 L173.45,299.39 L173.95,298.37 L174.45,298.78 L174.95,298.30 L175.45,299.35 L175.95,298.72 L176.45,298.60 L176.95,299.04 L177.45,299.31 L177.95,299.24 L178.45,299.25 L178.95,298.55 L179.45,299.31 L179.95,298.50 L180.45,298.94 L180.95,298.81 L181.45,298.75 L181.95,298.79 L182.45,298.67 L182.95,298.74 L183.45,299.04 L183.95,298.58 L184.45,299.12 L184.95,298.61 L185.45,298.56 L185.95,298.54 L186.45,299.06 L186.95,298.54 L187.45,298.32 L187.95,298.90 L188.45,299.10 L188.95,298.82 L189.45,298.36 L189.95,299.26 L190.45,299.40 L190.95,298.88 L191.45,298.68 L191.95,298.54 L192.45,299.00 L192.95,298.30 L193.45,299.15 L193.95,298.56 L194.45,299.31 L194.95,299.38 L195.45,299.26 L195.95,299.34 L196.45,298.85 L196.95,298.79 L197.45,299.21 L197.95,298.36 L198.45,299.00 L198.95,299.24 L199.45,299.21 L199.95,298.58 L200.45,298.38 L200.95,299.23 L201.45,299.38 L201.95,298.54 L202.45,299.14 L202.95,298.31 L203.45,298.85 L203.95,298.70 L204.45,299.02 L204.95,298.51 L205.45,298.89 L205.95,299.04 L206.45,298.39 L206.95,299.28 L207.45,298.58 L207.95,299.32 L208.45,298.67 L208.95,298.94 L209.45,298.42 L209.95,299.31 L210.45,298.74 L210.95,298.91 L211.45,298.33 L211.95,298.29 L212.45,298.63 L212.95,299.07 L213.45,299.02 L213.95,298.99 L214.45,298.77 L214.95,298.97 L215.45,298.97 L215.95,298.31 L216.45,298.40 L216.95,297.98 L217.45,298.41 L217.95,298.03 L218.45,298.57 L218.95,297.88 L219.45,298.41 L219.95,297.66 L220.45,297.85 L220.95,297.92 L221.45,297.32 L221.95,297.28 L222.45,297.22 L222.95,297.59 L223.45,296.51 L223.95,297.61 L224.45,296.45 L224.95,296.38 L225.45,296.32 L225.95,296.78 L226.45,296.32 L226.95,295.35 L227.45,294.90 L227.95,295.39 L228.45,294.82 L228.95,295.03 L229.45,294.68 L229.95,294.61 L230.45,293.74 L230.95,293.28 L231.45,293.65 L231.95,293.41 L232.45,292.78 L232.95,292.47 L233.45,292.40 L233.95,291.87 L234.45,290.87 L234.95,290.94 L235.45,289.81 L235.95,291.12 L236.45,290.95 L236.95,290.55 L237.45,289.51 L237.95,289.89 L238.45,288.19 L238.95,288.26 L239.45,287.13 L239.95,286.67 L240.45,287.85 L240.95,286.74 L241.45,287.16 L241.95,287.06 L242.45,285.41 L242.95,285.06 L243.45,286.06 L243.95,285.88 L244.45,286.27 L244.95,283.48 L245.45,283.90 L245.95,284.02 L246.45,283.75 L246.95,284.14 L247.45,285.25 L247.95,282.96 L248.45,283.20 L248.95,284.72 L249.45,283.61 L249.95,283.84 L250.45,284.32 L250.95,284.47 L251.45,284.64 L251.95,285.99 L252.45,285.90 L252.95,285.97 L253.45,286.56 L253.95,288.11 L254.45,286.55 L254.95,287.98 L255.45,288.25 L255.95,289.42 L256.45,289.62 L256.95,289.26 L257.45,290.74 L257.95,291.18 L258.45,291.90 L258.95,293.17 L259.45,293.59 L259.95,293.11 L260.45,294.45 L260.95,293.93 L261.45,294.72 L261.95,294.91 L262.45,295.83 L262.95,296.00 L263.45,296.56 L263.95,296.81 L264.45,297.43 L264.95,297.12 L265.45,297.81 L265.95,297.71 L266.45,298.03 L266.95,298.25 L267.45,297.57 L267.95,298.25 L268.45,298.06 L268.95,298.85 L269.45,298.56 L269.95,298.69 L270.45,298.38 L270.95,298.24 L271.45,298.80 L271.95,298.80 L272.45,298.62 L272.95,298.26 L273.45,299.10 L273.95,298.24 L274.45,298.55 L274.95,298.94 L275.45,298.62 L275.95,299.01 L276.45,299.31 L276.95,298.54 L277.45,298.97 L277.95,298.81 L278.45,298.84 L278.95,298.39 L279.45,298.56 L279.95,299.38 L280.45,298.74 L280.95,298.89 L281.45,298.89 L281.95,298.47 L282.45,298.94 L282.95,298.88 L283.35,300.45 Z" fill="#c0c0c0" fill-opacity="0.72" stroke="none"/>
<path d="M156.95,298.73 L157.45,298.44 L157.95,298.68 L158.45,299.19 L158.95,298.59 L159.45,298.33 L159.95,298.74 L160.45,299.32 L160.95,298.50 L161.45,298.43 L161.95,299.03 L162.45,299.26 L162.95,299.20 L163.45,298.81 L163.95,298.43 L164.45,298.69 L164.95,298.38 L165.45,299.17 L165.95,299.04 L166.45,298.57 L166.95,298.68 L167.45,298.96 L167.95,298.65 L168.45,299.03 L168.95,299.35 L169.45,298.95 L169.95,299.36 L170.45,298.71 L170.95,299.04 L171.45,298.86 L171.95,298.74 L172.45,299.12 L172.95,298.89 L173.45,299.39 L173.95,298.37 L174.45,298.78 L174.95,298.30 L175.45,299.35 L175.95,298.72 L176.45,298.60 L176.95,299.04 L177.45,299.31 L177.95,299.24 L178.45,299.25 L178.95,298.55 L179.45,299.31 L179.95,298.50 L180.45,298.94 L180.95,298.81 L181.45,298.75 L181.95,298.79 L182.45,298.67 L182.95,298.74 L183.45,299.04 L183.95,298.58 L184.45,299.12 L184.95,298.61 L185.45,298.56 L185.95,298.54 L186.45,299.06 L186.95,298.54 L187.45,298.32 L187.95,298.90 L188.45,299.10 L188.95,298.82 L189.45,298.36 L189.95,299.26 L190.45,299.40 L190.95,298.88 L191.45,298.68 L191.95,298.54 L192.45,299.00 L192.95,298.30 L193.45,299.15 L193.95,298.56 L194.45,299.31 L194.95,299.38 L195.45,299.26 L195.95,299.34 L196.45,298.85 L196.95,298.79 L197.45,299.21 L197.95,298.36 L198.45,299.00 L198.95,299.24 L199.45,299.21 L199.95,298.58 L200.45,298.38 L200.95,299.23 L201.45,299.38 L201.95,298.54 L202.45,299.14 L202.95,298.31 L203.45,298.85 L203.95,298.70 L204.45,299.02 L204.95,298.51 L205.45,298.89 L205.95,299.04 L206.45,298.39 L206.95,299.28 L207.45,298.58 L207.95,299.32 L208.45,298.67 L208.95,298.94 L209.45,298.42 L209.95,299.31 L210.45,298.74 L210.95,298.91 L211.45,298.33 L211.95,298.29 L212.45,298.63 L212.95,299.07 L213.45,299.02 L213.95,298.99 L214.45,298.77 L214.95,298.97 L215.45,298.97 L215.95,298.31 L216.45,298.40 L216.95,297.98 L217.45,298.41 L217.95,298.03 L218.45,298.57 L218.95,297.88 L219.45,298.41 L219.95,297.66 L220.45,297.85 L220.95,297.92 L221.45,297.32 L221.95,297.28 L222.45,297.22 L222.95,297.59 L223.45,296.51 L223.95,297.61 L224.45,296.45 L224.95,296.38 L225.45,296.32 L225.95,296.78 L226.45,296.32 L226.95,295.35 L227.45,294.90 L227.95,295.39 L228.45,294.82 L228.95,295.03 L229.45,294.68 L229.95,294.61 L230.45,293.74 L230.95,293.28 L231.45,293.65 L231.95,293.41 L232.45,292.78 L232.95,292.47 L233.45,292.40 L233.95,291.87 L234.45,290.87 L234.95,290.94 L235.45,289.81 L235.95,291.12 L236.45,290.95 L236.95,290.55 L237.45,289.51 L237.95,289.89 L238.45,288.19 L238.95,288.26 L239.45,287.13 L239.95,286.67 L240.45,287.85 L240.95,286.74 L241.45,287.16 L241.95,287.06 L242.45,285.41 L242.95,285.06 L243.45,286.06 L243.95,285.88 L244.45,286.27 L244.95,283.48 L245.45,283.90 L245.95,284.02 L246.45,283.75 L246.95,284.14 L247.45,285.25 L247.95,282.96 L248.45,283.20 L248.95,284.72 L249.45,283.61 L249.95,283.84 L250.45,284.32 L250.95,284.47 L251.45,284.64 L251.95,285.99 L252.45,285.90 L252.95,285.97 L253.45,286.56 L253.95,288.11 L254.45,286.55 L254.95,287.98 L255.45,288.25 L255.95,289.42 L256.45,289.62 L256.95,289.26 L257.45,290.74 L257.95,291.18 L258.45,291.90 L258.95,293.17 L259.45,293.59 L259.95,293.11 L260.45,294.45 L260.95,293.93 L261.45,294.72 L261.95,294.91 L262.45,295.83 L262.95,296.00 L263.45,296.56 L263.95,296.81 L264.45,297.43 L264.95,297.12 L265.45,297.81 L265.95,297.71 L266.45,298.03 L266.95,298.25 L267.45,297.57 L267.95,298.25 L268.45,298.06 L268.95,298.85 L269.45,298.56 L269.95,298.69 L270.45,298.38 L270.95,298.24 L271.45,298.80 L271.95,298.80 L272.45,298.62 L272.95,298.26 L273.45,299.10 L273.95,298.24 L274.45,298.55 L274.95,298.94 L275.45,298.62 L275.95,299.01 L276.45,299.31 L276.95,298.54 L277.45,298.97 L277.95,298.81 L278.45,298.84 L278.95,298.39 L279.45,298.56 L279.95,299.38 L280.45,298.74 L280.95,298.89 L281.45,298.89 L281.95,298.47 L282.45,298.94 L282.95,298.88" fill="none" stroke="#707070" stroke-width="0.9" stroke-linejoin="round"/>
<line x1="156.95" y1="300.25" x2="283.35" y2="300.25" stroke="#c0c0c0" stroke-width="0.9"/>
<line x1="156.95" y1="300.80" x2="283.35" y2="300.80" stroke="#707070" stroke-width="0.5" stroke-opacity="0.7"/>
<path d="M153.10,303.30 L153.10,301.90 L153.60,302.25 L154.10,302.21 L154.60,302.19 L155.10,301.95 L155.60,302.07 L156.10,302.01 L156.60,302.28 L157.10,302.55 L157.60,302.06 L158.10,302.16 L158.60,301.99 L159.10,301.99 L159.60,302.49 L160.10,302.42 L160.60,302.53 L161.10,301.96 L161.60,302.51 L162.10,302.52 L162.60,302.00 L163.10,302.15 L163.60,302.54 L164.10,302.06 L164.60,302.04 L165.10,302.21 L165.60,302.54 L166.10,302.05 L166.60,302.26 L167.10,302.14 L167.60,301.82 L168.10,301.96 L168.60,301.91 L169.10,302.47 L169.60,302.33 L170.10,302.19 L170.60,302.58 L171.10,301.82 L171.60,302.37 L172.10,302.38 L172.60,302.34 L173.10,302.39 L173.60,301.92 L174.10,302.16 L174.60,302.19 L175.10,302.26 L175.60,302.55 L176.10,302.35 L176.60,301.92 L177.10,301.97 L177.60,301.92 L178.10,302.38 L178.60,302.42 L179.10,302.49 L179.60,301.98 L180.10,301.63 L180.60,300.48 L181.10,298.02 L181.60,293.64 L182.10,286.60 L182.60,276.58 L183.10,264.75 L183.60,254.24 L184.10,248.43 L184.60,248.08 L185.10,249.78 L185.60,251.11 L186.10,253.02 L186.60,255.45 L187.10,258.08 L187.60,260.41 L188.10,263.64 L188.60,265.51 L189.10,269.58 L189.60,273.45 L190.10,276.31 L190.60,278.41 L191.10,280.17 L191.60,282.80 L192.10,285.00 L192.60,287.32 L193.10,289.09 L193.60,291.19 L194.10,292.15 L194.60,292.84 L195.10,294.30 L195.60,294.72 L196.10,296.49 L196.60,296.84 L197.10,297.16 L197.60,297.71 L198.10,298.09 L198.60,298.23 L199.10,298.51 L199.60,298.86 L200.10,299.14 L200.60,299.63 L201.10,299.76 L201.60,300.05 L202.10,299.73 L202.60,299.91 L203.10,299.98 L203.60,300.02 L204.10,299.95 L204.60,300.64 L205.10,300.41 L205.60,300.33 L206.10,300.82 L206.60,300.70 L207.10,301.21 L207.60,301.19 L208.10,300.73 L208.60,300.80 L209.10,301.13 L209.60,301.29 L210.10,301.11 L210.60,301.49 L211.10,301.57 L211.60,301.64 L212.10,301.59 L212.60,301.48 L213.10,301.52 L213.60,301.48 L214.10,301.96 L214.60,301.95 L215.10,301.94 L215.60,301.80 L216.10,301.60 L216.60,302.02 L217.10,301.88 L217.60,301.49 L218.10,302.09 L218.60,301.56 L219.10,301.87 L219.60,302.17 L220.10,302.15 L220.60,301.88 L221.10,301.92 L221.60,302.04 L222.10,302.19 L222.60,302.04 L223.10,302.21 L223.60,302.28 L224.10,302.20 L224.60,301.73 L225.10,302.02 L225.60,301.73 L226.10,302.42 L226.60,301.71 L227.10,302.07 L227.60,301.84 L228.10,302.02 L228.60,301.94 L229.10,302.30 L229.60,301.90 L230.10,302.37 L230.60,302.29 L231.10,302.47 L231.60,302.20 L232.10,302.11 L232.60,302.28 L233.10,301.83 L233.60,302.45 L234.10,302.07 L234.60,302.34 L235.10,302.07 L235.60,301.93 L236.10,301.99 L236.60,302.49 L237.10,302.35 L237.60,302.08 L238.10,301.79 L238.60,302.51 L239.10,302.07 L239.60,302.02 L240.10,301.92 L240.60,302.29 L241.10,301.93 L241.60,302.20 L242.10,301.85 L242.60,302.55 L243.10,301.84 L243.60,302.25 L244.10,302.25 L244.60,302.50 L245.10,302.38 L245.60,302.00 L246.10,302.05 L246.60,302.45 L247.10,302.30 L247.60,302.46 L248.10,302.42 L248.60,302.40 L249.10,302.32 L249.60,301.82 L250.10,301.81 L250.60,301.97 L251.10,302.21 L251.60,302.19 L252.10,301.98 L252.60,301.88 L253.10,302.00 L253.60,302.09 L254.10,302.42 L254.60,302.10 L255.10,301.93 L255.60,301.97 L256.10,302.51 L256.60,302.03 L257.10,302.31 L257.60,302.46 L258.10,301.84 L258.60,302.06 L259.10,302.01 L259.60,302.48 L260.10,301.94 L260.60,301.86 L261.10,301.89 L261.60,302.01 L262.10,301.94 L262.60,301.97 L263.10,302.13 L263.60,302.25 L264.10,301.95 L264.60,301.98 L265.10,301.91 L265.60,302.35 L266.10,301.84 L266.60,302.18 L267.10,301.86 L267.60,302.50 L268.10,301.84 L268.60,301.98 L269.10,302.39 L269.60,301.94 L270.10,302.41 L270.60,302.43 L271.10,302.23 L271.60,302.40 L272.10,302.21 L272.60,301.89 L273.10,302.06 L273.60,302.04 L274.10,302.28 L274.60,301.98 L275.10,301.97 L275.60,302.06 L276.10,301.86 L276.60,301.95 L277.10,302.27 L277.60,302.52 L278.10,302.08 L278.60,301.94 L279.10,302.32 L279.50,303.30 Z" fill="#a0c9ed" fill-opacity="0.72" stroke="none"/>
<path d="M153.10,301.90 L153.60,302.25 L154.10,302.21 L154.60,302.19 L155.10,301.95 L155.60,302.07 L156.10,302.01 L156.60,302.28 L157.10,302.55 L157.60,302.06 L158.10,302.16 L158.60,301.99 L159.10,301.99 L159.60,302.49 L160.10,302.42 L160.60,302.53 L161.10,301.96 L161.60,302.51 L162.10,302.52 L162.60,302.00 L163.10,302.15 L163.60,302.54 L164.10,302.06 L164.60,302.04 L165.10,302.21 L165.60,302.54 L166.10,302.05 L166.60,302.26 L167.10,302.14 L167.60,301.82 L168.10,301.96 L168.60,301.91 L169.10,302.47 L169.60,302.33 L170.10,302.19 L170.60,302.58 L171.10,301.82 L171.60,302.37 L172.10,302.38 L172.60,302.34 L173.10,302.39 L173.60,301.92 L174.10,302.16 L174.60,302.19 L175.10,302.26 L175.60,302.55 L176.10,302.35 L176.60,301.92 L177.10,301.97 L177.60,301.92 L178.10,302.38 L178.60,302.42 L179.10,302.49 L179.60,301.98 L180.10,301.63 L180.60,300.48 L181.10,298.02 L181.60,293.64 L182.10,286.60 L182.60,276.58 L183.10,264.75 L183.60,254.24 L184.10,248.43 L184.60,248.08 L185.10,249.78 L185.60,251.11 L186.10,253.02 L186.60,255.45 L187.10,258.08 L187.60,260.41 L188.10,263.64 L188.60,265.51 L189.10,269.58 L189.60,273.45 L190.10,276.31 L190.60,278.41 L191.10,280.17 L191.60,282.80 L192.10,285.00 L192.60,287.32 L193.10,289.09 L193.60,291.19 L194.10,292.15 L194.60,292.84 L195.10,294.30 L195.60,294.72 L196.10,296.49 L196.60,296.84 L197.10,297.16 L197.60,297.71 L198.10,298.09 L198.60,298.23 L199.10,298.51 L199.60,298.86 L200.10,299.14 L200.60,299.63 L201.10,299.76 L201.60,300.05 L202.10,299.73 L202.60,299.91 L203.10,299.98 L203.60,300.02 L204.10,299.95 L204.60,300.64 L205.10,300.41 L205.60,300.33 L206.10,300.82 L206.60,300.70 L207.10,301.21 L207.60,301.19 L208.10,300.73 L208.60,300.80 L209.10,301.13 L209.60,301.29 L210.10,301.11 L210.60,301.49 L211.10,301.57 L211.60,301.64 L212.10,301.59 L212.60,301.48 L213.10,301.52 L213.60,301.48 L214.10,301.96 L214.60,301.95 L215.10,301.94 L215.60,301.80 L216.10,301.60 L216.60,302.02 L217.10,301.88 L217.60,301.49 L218.10,302.09 L218.60,301.56 L219.10,301.87 L219.60,302.17 L220.10,302.15 L220.60,301.88 L221.10,301.92 L221.60,302.04 L222.10,302.19 L222.60,302.04 L223.10,302.21 L223.60,302.28 L224.10,302.20 L224.60,301.73 L225.10,302.02 L225.60,301.73 L226.10,302.42 L226.60,301.71 L227.10,302.07 L227.60,301.84 L228.10,302.02 L228.60,301.94 L229.10,302.30 L229.60,301.90 L230.10,302.37 L230.60,302.29 L231.10,302.47 L231.60,302.20 L232.10,302.11 L232.60,302.28 L233.10,301.83 L233.60,302.45 L234.10,302.07 L234.60,302.34 L235.10,302.07 L235.60,301.93 L236.10,301.99 L236.60,302.49 L237.10,302.35 L237.60,302.08 L238.10,301.79 L238.60,302.51 L239.10,302.07 L239.60,302.02 L240.10,301.92 L240.60,302.29 L241.10,301.93 L241.60,302.20 L242.10,301.85 L242.60,302.55 L243.10,301.84 L243.60,302.25 L244.10,302.25 L244.60,302.50 L245.10,302.38 L245.60,302.00 L246.10,302.05 L246.60,302.45 L247.10,302.30 L247.60,302.46 L248.10,302.42 L248.60,302.40 L249.10,302.32 L249.60,301.82 L250.10,301.81 L250.60,301.97 L251.10,302.21 L251.60,302.19 L252.10,301.98 L252.60,301.88 L253.10,302.00 L253.60,302.09 L254.10,302.42 L254.60,302.10 L255.10,301.93 L255.60,301.97 L256.10,302.51 L256.60,302.03 L257.10,302.31 L257.60,302.46 L258.10,301.84 L258.60,302.06 L259.10,302.01 L259.60,302.48 L260.10,301.94 L260.60,301.86 L261.10,301.89 L261.60,302.01 L262.10,301.94 L262.60,301.97 L263.10,302.13 L263.60,302.25 L264.10,301.95 L264.60,301.98 L265.10,301.91 L265.60,302.35 L266.10,301.84 L266.60,302.18 L267.10,301.86 L267.60,302.50 L268.10,301.84 L268.60,301.98 L269.10,302.39 L269.60,301.94 L270.10,302.41 L270.60,302.43 L271.10,302.23 L271.60,302.40 L272.10,302.21 L272.60,301.89 L273.10,302.06 L273.60,302.04 L274.10,302.28 L274.60,301.98 L275.10,301.97 L275.60,302.06 L276.10,301.86 L276.60,301.95 L277.10,302.27 L277.60,302.52 L278.10,302.08 L278.60,301.94 L279.10,302.32" fill="none" stroke="#4f95cf" stroke-width="0.9" stroke-linejoin="round"/>
<line x1="153.10" y1="303.10" x2="279.50" y2="303.10" stroke="#a0c9ed" stroke-width="0.9"/>
<line x1="153.10" y1="303.65" x2="279.50" y2="303.65" stroke="#4f95cf" stroke-width="0.5" stroke-opacity="0.7"/>
<path d="M149.25,306.15 L149.25,304.98 L149.75,304.79 L150.25,304.82 L150.75,305.43 L151.25,305.06 L151.75,305.42 L152.25,305.35 L152.75,304.81 L153.25,305.11 L153.75,304.97 L154.25,305.08 L154.75,305.18 L155.25,305.27 L155.75,305.16 L156.25,304.78 L156.75,304.96 L157.25,305.21 L157.75,305.37 L158.25,305.23 L158.75,304.90 L159.25,305.09 L159.75,304.93 L160.25,304.81 L160.75,305.34 L161.25,304.91 L161.75,305.40 L162.25,304.80 L162.75,305.29 L163.25,305.23 L163.75,304.70 L164.25,305.16 L164.75,305.26 L165.25,304.75 L165.75,304.97 L166.25,304.75 L166.75,305.13 L167.25,305.05 L167.75,304.70 L168.25,305.04 L168.75,304.67 L169.25,305.29 L169.75,304.80 L170.25,305.31 L170.75,305.03 L171.25,305.43 L171.75,305.30 L172.25,304.71 L172.75,305.08 L173.25,304.79 L173.75,305.14 L174.25,304.90 L174.75,303.10 L175.25,300.10 L175.75,291.32 L176.25,277.28 L176.75,254.60 L177.25,229.04 L177.75,208.68 L178.25,201.49 L178.75,204.34 L179.25,211.09 L179.75,220.49 L180.25,231.79 L180.75,241.62 L181.25,256.29 L181.75,268.20 L182.25,275.35 L182.75,283.20 L183.25,288.06 L183.75,292.98 L184.25,296.19 L184.75,297.00 L185.25,299.03 L185.75,300.00 L186.25,300.09 L186.75,300.71 L187.25,300.93 L187.75,301.15 L188.25,301.01 L188.75,301.23 L189.25,301.32 L189.75,301.57 L190.25,302.26 L190.75,301.80 L191.25,302.24 L191.75,302.42 L192.25,302.62 L192.75,302.76 L193.25,303.07 L193.75,302.92 L194.25,302.43 L194.75,303.19 L195.25,303.22 L195.75,303.24 L196.25,303.50 L196.75,303.43 L197.25,303.50 L197.75,303.21 L198.25,303.29 L198.75,303.38 L199.25,303.97 L199.75,303.73 L200.25,303.66 L200.75,303.99 L201.25,303.60 L201.75,304.11 L202.25,304.18 L202.75,304.38 L203.25,304.01 L203.75,303.81 L204.25,304.40 L204.75,304.21 L205.25,304.10 L205.75,304.06 L206.25,304.50 L206.75,303.99 L207.25,304.23 L207.75,304.48 L208.25,304.23 L208.75,304.56 L209.25,304.60 L209.75,304.25 L210.25,304.53 L210.75,304.25 L211.25,304.73 L211.75,304.69 L212.25,304.36 L212.75,304.58 L213.25,304.61 L213.75,304.43 L214.25,304.43 L214.75,304.59 L215.25,304.72 L215.75,304.42 L216.25,304.57 L216.75,304.52 L217.25,304.67 L217.75,304.50 L218.25,305.09 L218.75,304.66 L219.25,304.67 L219.75,304.75 L220.25,305.02 L220.75,305.19 L221.25,304.78 L221.75,304.62 L222.25,305.05 L222.75,305.11 L223.25,305.11 L223.75,305.21 L224.25,304.77 L224.75,304.55 L225.25,304.69 L225.75,305.03 L226.25,304.78 L226.75,305.27 L227.25,304.68 L227.75,305.08 L228.25,305.33 L228.75,304.86 L229.25,305.24 L229.75,305.14 L230.25,305.31 L230.75,305.01 L231.25,304.93 L231.75,304.74 L232.25,305.34 L232.75,304.73 L233.25,305.29 L233.75,305.20 L234.25,304.89 L234.75,305.12 L235.25,305.13 L235.75,304.95 L236.25,305.22 L236.75,304.78 L237.25,305.23 L237.75,304.75 L238.25,304.77 L238.75,304.98 L239.25,305.38 L239.75,304.80 L240.25,305.38 L240.75,305.01 L241.25,305.08 L241.75,305.36 L242.25,304.92 L242.75,304.85 L243.25,304.96 L243.75,305.10 L244.25,305.02 L244.75,304.96 L245.25,305.24 L245.75,304.75 L246.25,304.65 L246.75,304.80 L247.25,304.68 L247.75,305.16 L248.25,304.66 L248.75,305.36 L249.25,305.05 L249.75,305.32 L250.25,305.07 L250.75,304.90 L251.25,304.88 L251.75,305.07 L252.25,305.16 L252.75,305.28 L253.25,305.12 L253.75,305.21 L254.25,305.28 L254.75,304.86 L255.25,305.03 L255.75,305.09 L256.25,305.28 L256.75,304.89 L257.25,305.28 L257.75,305.23 L258.25,305.00 L258.75,304.89 L259.25,304.68 L259.75,304.86 L260.25,304.70 L260.75,304.73 L261.25,304.88 L261.75,304.88 L262.25,305.39 L262.75,305.28 L263.25,305.42 L263.75,304.77 L264.25,304.88 L264.75,304.95 L265.25,305.23 L265.75,305.16 L266.25,305.31 L266.75,304.95 L267.25,304.67 L267.75,305.20 L268.25,305.40 L268.75,305.30 L269.25,305.16 L269.75,304.74 L270.25,304.82 L270.75,305.08 L271.25,305.36 L271.75,305.35 L272.25,305.32 L272.75,304.84 L273.25,305.07 L273.75,304.67 L274.25,304.73 L274.75,304.82 L275.25,305.07 L275.65,306.15 Z" fill="#9652ab" fill-opacity="0.72" stroke="none"/>
<path d="M149.25,304.98 L149.75,304.79 L150.25,304.82 L150.75,305.43 L151.25,305.06 L151.75,305.42 L152.25,305.35 L152.75,304.81 L153.25,305.11 L153.75,304.97 L154.25,305.08 L154.75,305.18 L155.25,305.27 L155.75,305.16 L156.25,304.78 L156.75,304.96 L157.25,305.21 L157.75,305.37 L158.25,305.23 L158.75,304.90 L159.25,305.09 L159.75,304.93 L160.25,304.81 L160.75,305.34 L161.25,304.91 L161.75,305.40 L162.25,304.80 L162.75,305.29 L163.25,305.23 L163.75,304.70 L164.25,305.16 L164.75,305.26 L165.25,304.75 L165.75,304.97 L166.25,304.75 L166.75,305.13 L167.25,305.05 L167.75,304.70 L168.25,305.04 L168.75,304.67 L169.25,305.29 L169.75,304.80 L170.25,305.31 L170.75,305.03 L171.25,305.43 L171.75,305.30 L172.25,304.71 L172.75,305.08 L173.25,304.79 L173.75,305.14 L174.25,304.90 L174.75,303.10 L175.25,300.10 L175.75,291.32 L176.25,277.28 L176.75,254.60 L177.25,229.04 L177.75,208.68 L178.25,201.49 L178.75,204.34 L179.25,211.09 L179.75,220.49 L180.25,231.79 L180.75,241.62 L181.25,256.29 L181.75,268.20 L182.25,275.35 L182.75,283.20 L183.25,288.06 L183.75,292.98 L184.25,296.19 L184.75,297.00 L185.25,299.03 L185.75,300.00 L186.25,300.09 L186.75,300.71 L187.25,300.93 L187.75,301.15 L188.25,301.01 L188.75,301.23 L189.25,301.32 L189.75,301.57 L190.25,302.26 L190.75,301.80 L191.25,302.24 L191.75,302.42 L192.25,302.62 L192.75,302.76 L193.25,303.07 L193.75,302.92 L194.25,302.43 L194.75,303.19 L195.25,303.22 L195.75,303.24 L196.25,303.50 L196.75,303.43 L197.25,303.50 L197.75,303.21 L198.25,303.29 L198.75,303.38 L199.25,303.97 L199.75,303.73 L200.25,303.66 L200.75,303.99 L201.25,303.60 L201.75,304.11 L202.25,304.18 L202.75,304.38 L203.25,304.01 L203.75,303.81 L204.25,304.40 L204.75,304.21 L205.25,304.10 L205.75,304.06 L206.25,304.50 L206.75,303.99 L207.25,304.23 L207.75,304.48 L208.25,304.23 L208.75,304.56 L209.25,304.60 L209.75,304.25 L210.25,304.53 L210.75,304.25 L211.25,304.73 L211.75,304.69 L212.25,304.36 L212.75,304.58 L213.25,304.61 L213.75,304.43 L214.25,304.43 L214.75,304.59 L215.25,304.72 L215.75,304.42 L216.25,304.57 L216.75,304.52 L217.25,304.67 L217.75,304.50 L218.25,305.09 L218.75,304.66 L219.25,304.67 L219.75,304.75 L220.25,305.02 L220.75,305.19 L221.25,304.78 L221.75,304.62 L222.25,305.05 L222.75,305.11 L223.25,305.11 L223.75,305.21 L224.25,304.77 L224.75,304.55 L225.25,304.69 L225.75,305.03 L226.25,304.78 L226.75,305.27 L227.25,304.68 L227.75,305.08 L228.25,305.33 L228.75,304.86 L229.25,305.24 L229.75,305.14 L230.25,305.31 L230.75,305.01 L231.25,304.93 L231.75,304.74 L232.25,305.34 L232.75,304.73 L233.25,305.29 L233.75,305.20 L234.25,304.89 L234.75,305.12 L235.25,305.13 L235.75,304.95 L236.25,305.22 L236.75,304.78 L237.25,305.23 L237.75,304.75 L238.25,304.77 L238.75,304.98 L239.25,305.38 L239.75,304.80 L240.25,305.38 L240.75,305.01 L241.25,305.08 L241.75,305.36 L242.25,304.92 L242.75,304.85 L243.25,304.96 L243.75,305.10 L244.25,305.02 L244.75,304.96 L245.25,305.24 L245.75,304.75 L246.25,304.65 L246.75,304.80 L247.25,304.68 L247.75,305.16 L248.25,304.66 L248.75,305.36 L249.25,305.05 L249.75,305.32 L250.25,305.07 L250.75,304.90 L251.25,304.88 L251.75,305.07 L252.25,305.16 L252.75,305.28 L253.25,305.12 L253.75,305.21 L254.25,305.28 L254.75,304.86 L255.25,305.03 L255.75,305.09 L256.25,305.28 L256.75,304.89 L257.25,305.28 L257.75,305.23 L258.25,305.00 L258.75,304.89 L259.25,304.68 L259.75,304.86 L260.25,304.70 L260.75,304.73 L261.25,304.88 L261.75,304.88 L262.25,305.39 L262.75,305.28 L263.25,305.42 L263.75,304.77 L264.25,304.88 L264.75,304.95 L265.25,305.23 L265.75,305.16 L266.25,305.31 L266.75,304.95 L267.25,304.67 L267.75,305.20 L268.25,305.40 L268.75,305.30 L269.25,305.16 L269.75,304.74 L270.25,304.82 L270.75,305.08 L271.25,305.36 L271.75,305.35 L272.25,305.32 L272.75,304.84 L273.25,305.07 L273.75,304.67 L274.25,304.73 L274.75,304.82 L275.25,305.07" fill="none" stroke="#7a2183" stroke-width="0.9" stroke-linejoin="round"/>
<line x1="149.25" y1="305.95" x2="275.65" y2="305.95" stroke="#9652ab" stroke-width="0.9"/>
<line x1="149.25" y1="306.50" x2="275.65" y2="306.50" stroke="#7a2183" stroke-width="0.5" stroke-opacity="0.7"/>
<path d="M145.40,309.00 L145.40,307.65 L145.90,308.19 L146.40,308.20 L146.90,307.85 L147.40,307.89 L147.90,308.12 L148.40,308.09 L148.90,308.27 L149.40,307.59 L149.90,307.74 L150.40,307.56 L150.90,307.53 L151.40,307.95 L151.90,307.72 L152.40,307.99 L152.90,307.66 L153.40,307.64 L153.90,308.18 L154.40,308.28 L154.90,308.12 L155.40,307.83 L155.90,307.99 L156.40,308.28 L156.90,307.65 L157.40,307.68 L157.90,307.93 L158.40,308.25 L158.90,307.60 L159.40,307.87 L159.90,308.23 L160.40,308.04 L160.90,307.80 L161.40,307.60 L161.90,307.91 L162.40,307.79 L162.90,308.13 L163.40,308.10 L163.90,307.59 L164.40,307.99 L164.90,308.20 L165.40,307.83 L165.90,308.19 L166.40,308.13 L166.90,307.93 L167.40,307.83 L167.90,307.79 L168.40,307.73 L168.90,307.91 L169.40,308.07 L169.90,307.54 L170.40,305.64 L170.90,300.85 L171.40,291.80 L171.90,273.84 L172.40,252.36 L172.90,225.35 L173.40,208.41 L173.90,205.66 L174.40,209.76 L174.90,219.14 L175.40,230.73 L175.90,241.72 L176.40,256.12 L176.90,271.12 L177.40,277.57 L177.90,288.47 L178.40,293.13 L178.90,297.37 L179.40,299.49 L179.90,301.60 L180.40,303.31 L180.90,303.63 L181.40,303.53 L181.90,304.06 L182.40,304.52 L182.90,304.51 L183.40,304.33 L183.90,304.80 L184.40,304.81 L184.90,305.12 L185.40,305.09 L185.90,305.91 L186.40,305.74 L186.90,306.10 L187.40,306.12 L187.90,305.60 L188.40,306.30 L188.90,306.30 L189.40,306.50 L189.90,306.16 L190.40,306.68 L190.90,306.12 L191.40,306.75 L191.90,306.73 L192.40,306.87 L192.90,306.31 L193.40,307.10 L193.90,307.15 L194.40,306.76 L194.90,306.94 L195.40,306.88 L195.90,306.67 L196.40,306.80 L196.90,306.80 L197.40,307.47 L197.90,306.88 L198.40,306.92 L198.90,306.92 L199.40,307.11 L199.90,307.47 L200.40,307.47 L200.90,307.42 L201.40,307.24 L201.90,307.19 L202.40,307.04 L202.90,307.62 L203.40,307.56 L203.90,307.72 L204.40,307.18 L204.90,307.33 L205.40,307.24 L205.90,307.54 L206.40,307.35 L206.90,307.75 L207.40,307.52 L207.90,307.73 L208.40,307.61 L208.90,307.30 L209.40,307.93 L209.90,307.66 L210.40,307.57 L210.90,307.67 L211.40,307.37 L211.90,307.79 L212.40,307.41 L212.90,307.59 L213.40,307.38 L213.90,308.07 L214.40,307.98 L214.90,307.93 L215.40,307.46 L215.90,308.15 L216.40,307.97 L216.90,307.62 L217.40,307.42 L217.90,308.05 L218.40,307.85 L218.90,307.67 L219.40,307.67 L219.90,307.63 L220.40,307.63 L220.90,308.02 L221.40,308.02 L221.90,308.20 L222.40,307.69 L222.90,308.06 L223.40,308.03 L223.90,307.49 L224.40,307.74 L224.90,307.78 L225.40,307.73 L225.90,307.78 L226.40,307.71 L226.90,308.01 L227.40,308.20 L227.90,308.20 L228.40,308.24 L228.90,307.97 L229.40,308.14 L229.90,308.17 L230.40,307.88 L230.90,307.51 L231.40,307.73 L231.90,308.05 L232.40,307.67 L232.90,308.13 L233.40,308.19 L233.90,308.03 L234.40,307.95 L234.90,307.74 L235.40,307.93 L235.90,307.71 L236.40,308.20 L236.90,307.55 L237.40,308.01 L237.90,307.63 L238.40,308.25 L238.90,307.63 L239.40,308.10 L239.90,307.62 L240.40,307.66 L240.90,307.76 L241.40,308.06 L241.90,308.27 L242.40,308.13 L242.90,307.58 L243.40,308.16 L243.90,307.77 L244.40,307.83 L244.90,307.77 L245.40,308.14 L245.90,308.17 L246.40,308.20 L246.90,307.52 L247.40,307.99 L247.90,307.78 L248.40,307.84 L248.90,308.11 L249.40,308.23 L249.90,308.27 L250.40,307.63 L250.90,308.18 L251.40,307.54 L251.90,308.00 L252.40,307.73 L252.90,308.18 L253.40,307.68 L253.90,308.09 L254.40,308.00 L254.90,307.88 L255.40,308.20 L255.90,308.09 L256.40,307.67 L256.90,308.07 L257.40,307.99 L257.90,307.70 L258.40,308.11 L258.90,308.14 L259.40,308.12 L259.90,307.99 L260.40,308.00 L260.90,307.79 L261.40,307.92 L261.90,307.62 L262.40,308.25 L262.90,307.77 L263.40,307.64 L263.90,308.10 L264.40,308.26 L264.90,307.95 L265.40,308.20 L265.90,307.93 L266.40,307.74 L266.90,308.21 L267.40,308.19 L267.90,307.92 L268.40,308.15 L268.90,308.11 L269.40,307.95 L269.90,308.19 L270.40,308.23 L270.90,308.01 L271.40,307.92 L271.80,309.00 Z" fill="#c597d1" fill-opacity="0.72" stroke="none"/>
<path d="M145.40,307.65 L145.90,308.19 L146.40,308.20 L146.90,307.85 L147.40,307.89 L147.90,308.12 L148.40,308.09 L148.90,308.27 L149.40,307.59 L149.90,307.74 L150.40,307.56 L150.90,307.53 L151.40,307.95 L151.90,307.72 L152.40,307.99 L152.90,307.66 L153.40,307.64 L153.90,308.18 L154.40,308.28 L154.90,308.12 L155.40,307.83 L155.90,307.99 L156.40,308.28 L156.90,307.65 L157.40,307.68 L157.90,307.93 L158.40,308.25 L158.90,307.60 L159.40,307.87 L159.90,308.23 L160.40,308.04 L160.90,307.80 L161.40,307.60 L161.90,307.91 L162.40,307.79 L162.90,308.13 L163.40,308.10 L163.90,307.59 L164.40,307.99 L164.90,308.20 L165.40,307.83 L165.90,308.19 L166.40,308.13 L166.90,307.93 L167.40,307.83 L167.90,307.79 L168.40,307.73 L168.90,307.91 L169.40,308.07 L169.90,307.54 L170.40,305.64 L170.90,300.85 L171.40,291.80 L171.90,273.84 L172.40,252.36 L172.90,225.35 L173.40,208.41 L173.90,205.66 L174.40,209.76 L174.90,219.14 L175.40,230.73 L175.90,241.72 L176.40,256.12 L176.90,271.12 L177.40,277.57 L177.90,288.47 L178.40,293.13 L178.90,297.37 L179.40,299.49 L179.90,301.60 L180.40,303.31 L180.90,303.63 L181.40,303.53 L181.90,304.06 L182.40,304.52 L182.90,304.51 L183.40,304.33 L183.90,304.80 L184.40,304.81 L184.90,305.12 L185.40,305.09 L185.90,305.91 L186.40,305.74 L186.90,306.10 L187.40,306.12 L187.90,305.60 L188.40,306.30 L188.90,306.30 L189.40,306.50 L189.90,306.16 L190.40,306.68 L190.90,306.12 L191.40,306.75 L191.90,306.73 L192.40,306.87 L192.90,306.31 L193.40,307.10 L193.90,307.15 L194.40,306.76 L194.90,306.94 L195.40,306.88 L195.90,306.67 L196.40,306.80 L196.90,306.80 L197.40,307.47 L197.90,306.88 L198.40,306.92 L198.90,306.92 L199.40,307.11 L199.90,307.47 L200.40,307.47 L200.90,307.42 L201.40,307.24 L201.90,307.19 L202.40,307.04 L202.90,307.62 L203.40,307.56 L203.90,307.72 L204.40,307.18 L204.90,307.33 L205.40,307.24 L205.90,307.54 L206.40,307.35 L206.90,307.75 L207.40,307.52 L207.90,307.73 L208.40,307.61 L208.90,307.30 L209.40,307.93 L209.90,307.66 L210.40,307.57 L210.90,307.67 L211.40,307.37 L211.90,307.79 L212.40,307.41 L212.90,307.59 L213.40,307.38 L213.90,308.07 L214.40,307.98 L214.90,307.93 L215.40,307.46 L215.90,308.15 L216.40,307.97 L216.90,307.62 L217.40,307.42 L217.90,308.05 L218.40,307.85 L218.90,307.67 L219.40,307.67 L219.90,307.63 L220.40,307.63 L220.90,308.02 L221.40,308.02 L221.90,308.20 L222.40,307.69 L222.90,308.06 L223.40,308.03 L223.90,307.49 L224.40,307.74 L224.90,307.78 L225.40,307.73 L225.90,307.78 L226.40,307.71 L226.90,308.01 L227.40,308.20 L227.90,308.20 L228.40,308.24 L228.90,307.97 L229.40,308.14 L229.90,308.17 L230.40,307.88 L230.90,307.51 L231.40,307.73 L231.90,308.05 L232.40,307.67 L232.90,308.13 L233.40,308.19 L233.90,308.03 L234.40,307.95 L234.90,307.74 L235.40,307.93 L235.90,307.71 L236.40,308.20 L236.90,307.55 L237.40,308.01 L237.90,307.63 L238.40,308.25 L238.90,307.63 L239.40,308.10 L239.90,307.62 L240.40,307.66 L240.90,307.76 L241.40,308.06 L241.90,308.27 L242.40,308.13 L242.90,307.58 L243.40,308.16 L243.90,307.77 L244.40,307.83 L244.90,307.77 L245.40,308.14 L245.90,308.17 L246.40,308.20 L246.90,307.52 L247.40,307.99 L247.90,307.78 L248.40,307.84 L248.90,308.11 L249.40,308.23 L249.90,308.27 L250.40,307.63 L250.90,308.18 L251.40,307.54 L251.90,308.00 L252.40,307.73 L252.90,308.18 L253.40,307.68 L253.90,308.09 L254.40,308.00 L254.90,307.88 L255.40,308.20 L255.90,308.09 L256.40,307.67 L256.90,308.07 L257.40,307.99 L257.90,307.70 L258.40,308.11 L258.90,308.14 L259.40,308.12 L259.90,307.99 L260.40,308.00 L260.90,307.79 L261.40,307.92 L261.90,307.62 L262.40,308.25 L262.90,307.77 L263.40,307.64 L263.90,308.10 L264.40,308.26 L264.90,307.95 L265.40,308.20 L265.90,307.93 L266.40,307.74 L266.90,308.21 L267.40,308.19 L267.90,307.92 L268.40,308.15 L268.90,308.11 L269.40,307.95 L269.90,308.19 L270.40,308.23 L270.90,308.01 L271.40,307.92" fill="none" stroke="#b27ec3" stroke-width="0.9" stroke-linejoin="round"/>
<line x1="145.40" y1="308.80" x2="271.80" y2="308.80" stroke="#c597d1" stroke-width="0.9"/>
<line x1="145.40" y1="309.35" x2="271.80" y2="309.35" stroke="#b27ec3" stroke-width="0.5" stroke-opacity="0.7"/>
<path d="M141.55,311.85 L141.55,310.41 L142.05,310.71 L142.55,311.08 L143.05,310.96 L143.55,310.56 L144.05,310.70 L144.55,310.46 L145.05,310.39 L145.55,310.47 L146.05,311.05 L146.55,310.41 L147.05,310.73 L147.55,310.95 L148.05,311.00 L148.55,310.47 L149.05,310.97 L149.55,311.07 L150.05,310.93 L150.55,310.42 L151.05,310.78 L151.55,310.57 L152.05,311.08 L152.55,310.79 L153.05,310.89 L153.55,310.98 L154.05,310.62 L154.55,310.86 L155.05,311.04 L155.55,310.38 L156.05,310.76 L156.55,311.00 L157.05,311.13 L157.55,310.63 L158.05,310.74 L158.55,311.12 L159.05,310.77 L159.55,310.56 L160.05,310.72 L160.55,310.95 L161.05,310.75 L161.55,310.67 L162.05,310.63 L162.55,311.02 L163.05,310.52 L163.55,310.41 L164.05,310.56 L164.55,310.46 L165.05,310.79 L165.55,310.65 L166.05,309.30 L166.55,306.00 L167.05,297.79 L167.55,279.90 L168.05,254.15 L168.55,222.71 L169.05,202.24 L169.55,200.82 L170.05,207.18 L170.55,219.35 L171.05,230.59 L171.55,249.85 L172.05,262.68 L172.55,275.84 L173.05,288.01 L173.55,294.96 L174.05,300.03 L174.55,302.63 L175.05,304.90 L175.55,306.09 L176.05,306.76 L176.55,307.10 L177.05,307.26 L177.55,307.29 L178.05,307.71 L178.55,308.04 L179.05,307.95 L179.55,308.05 L180.05,307.78 L180.55,308.54 L181.05,308.36 L181.55,308.55 L182.05,308.37 L182.55,308.26 L183.05,308.49 L183.55,309.24 L184.05,309.20 L184.55,309.30 L185.05,308.82 L185.55,309.22 L186.05,309.02 L186.55,309.20 L187.05,309.73 L187.55,309.41 L188.05,309.32 L188.55,309.22 L189.05,310.03 L189.55,309.63 L190.05,309.66 L190.55,310.05 L191.05,309.86 L191.55,310.22 L192.05,309.84 L192.55,309.86 L193.05,310.38 L193.55,309.93 L194.05,309.97 L194.55,309.79 L195.05,310.35 L195.55,309.84 L196.05,310.30 L196.55,309.91 L197.05,310.10 L197.55,310.17 L198.05,310.59 L198.55,310.56 L199.05,310.72 L199.55,310.46 L200.05,310.72 L200.55,310.07 L201.05,310.53 L201.55,310.48 L202.05,310.71 L202.55,310.48 L203.05,310.86 L203.55,310.36 L204.05,310.77 L204.55,310.62 L205.05,310.18 L205.55,310.34 L206.05,310.29 L206.55,310.45 L207.05,310.47 L207.55,310.42 L208.05,310.23 L208.55,310.83 L209.05,310.40 L209.55,310.76 L210.05,310.81 L210.55,310.38 L211.05,310.55 L211.55,310.37 L212.05,310.35 L212.55,310.58 L213.05,310.88 L213.55,311.03 L214.05,310.63 L214.55,310.49 L215.05,310.85 L215.55,311.00 L216.05,311.06 L216.55,310.93 L217.05,310.53 L217.55,311.07 L218.05,310.90 L218.55,310.87 L219.05,310.53 L219.55,310.32 L220.05,311.07 L220.55,311.00 L221.05,310.37 L221.55,310.35 L222.05,310.98 L222.55,310.84 L223.05,310.70 L223.55,310.85 L224.05,310.78 L224.55,310.74 L225.05,310.91 L225.55,311.06 L226.05,311.04 L226.55,310.98 L227.05,311.04 L227.55,310.63 L228.05,310.58 L228.55,310.91 L229.05,310.51 L229.55,310.56 L230.05,310.85 L230.55,310.74 L231.05,310.97 L231.55,310.40 L232.05,310.69 L232.55,311.08 L233.05,311.00 L233.55,310.59 L234.05,310.83 L234.55,310.57 L235.05,310.95 L235.55,310.51 L236.05,310.51 L236.55,311.05 L237.05,310.67 L237.55,310.98 L238.05,310.58 L238.55,310.51 L239.05,310.52 L239.55,310.95 L240.05,311.06 L240.55,310.62 L241.05,310.69 L241.55,311.02 L242.05,310.98 L242.55,310.68 L243.05,311.05 L243.55,310.64 L244.05,310.95 L244.55,310.93 L245.05,310.81 L245.55,310.72 L246.05,310.57 L246.55,311.11 L247.05,310.58 L247.55,310.96 L248.05,310.91 L248.55,310.64 L249.05,310.60 L249.55,310.66 L250.05,310.44 L250.55,310.98 L251.05,310.89 L251.55,310.62 L252.05,310.93 L252.55,311.01 L253.05,310.96 L253.55,310.54 L254.05,310.50 L254.55,310.58 L255.05,310.40 L255.55,310.52 L256.05,310.90 L256.55,310.89 L257.05,310.58 L257.55,311.09 L258.05,310.67 L258.55,311.07 L259.05,311.10 L259.55,310.74 L260.05,311.02 L260.55,310.42 L261.05,310.46 L261.55,310.78 L262.05,310.98 L262.55,311.04 L263.05,310.74 L263.55,310.73 L264.05,310.86 L264.55,310.58 L265.05,310.73 L265.55,310.54 L266.05,311.05 L266.55,311.08 L267.05,310.84 L267.55,310.76 L267.95,311.85 Z" fill="#7272b3" fill-opacity="0.72" stroke="none"/>
<path d="M141.55,310.41 L142.05,310.71 L142.55,311.08 L143.05,310.96 L143.55,310.56 L144.05,310.70 L144.55,310.46 L145.05,310.39 L145.55,310.47 L146.05,311.05 L146.55,310.41 L147.05,310.73 L147.55,310.95 L148.05,311.00 L148.55,310.47 L149.05,310.97 L149.55,311.07 L150.05,310.93 L150.55,310.42 L151.05,310.78 L151.55,310.57 L152.05,311.08 L152.55,310.79 L153.05,310.89 L153.55,310.98 L154.05,310.62 L154.55,310.86 L155.05,311.04 L155.55,310.38 L156.05,310.76 L156.55,311.00 L157.05,311.13 L157.55,310.63 L158.05,310.74 L158.55,311.12 L159.05,310.77 L159.55,310.56 L160.05,310.72 L160.55,310.95 L161.05,310.75 L161.55,310.67 L162.05,310.63 L162.55,311.02 L163.05,310.52 L163.55,310.41 L164.05,310.56 L164.55,310.46 L165.05,310.79 L165.55,310.65 L166.05,309.30 L166.55,306.00 L167.05,297.79 L167.55,279.90 L168.05,254.15 L168.55,222.71 L169.05,202.24 L169.55,200.82 L170.05,207.18 L170.55,219.35 L171.05,230.59 L171.55,249.85 L172.05,262.68 L172.55,275.84 L173.05,288.01 L173.55,294.96 L174.05,300.03 L174.55,302.63 L175.05,304.90 L175.55,306.09 L176.05,306.76 L176.55,307.10 L177.05,307.26 L177.55,307.29 L178.05,307.71 L178.55,308.04 L179.05,307.95 L179.55,308.05 L180.05,307.78 L180.55,308.54 L181.05,308.36 L181.55,308.55 L182.05,308.37 L182.55,308.26 L183.05,308.49 L183.55,309.24 L184.05,309.20 L184.55,309.30 L185.05,308.82 L185.55,309.22 L186.05,309.02 L186.55,309.20 L187.05,309.73 L187.55,309.41 L188.05,309.32 L188.55,309.22 L189.05,310.03 L189.55,309.63 L190.05,309.66 L190.55,310.05 L191.05,309.86 L191.55,310.22 L192.05,309.84 L192.55,309.86 L193.05,310.38 L193.55,309.93 L194.05,309.97 L194.55,309.79 L195.05,310.35 L195.55,309.84 L196.05,310.30 L196.55,309.91 L197.05,310.10 L197.55,310.17 L198.05,310.59 L198.55,310.56 L199.05,310.72 L199.55,310.46 L200.05,310.72 L200.55,310.07 L201.05,310.53 L201.55,310.48 L202.05,310.71 L202.55,310.48 L203.05,310.86 L203.55,310.36 L204.05,310.77 L204.55,310.62 L205.05,310.18 L205.55,310.34 L206.05,310.29 L206.55,310.45 L207.05,310.47 L207.55,310.42 L208.05,310.23 L208.55,310.83 L209.05,310.40 L209.55,310.76 L210.05,310.81 L210.55,310.38 L211.05,310.55 L211.55,310.37 L212.05,310.35 L212.55,310.58 L213.05,310.88 L213.55,311.03 L214.05,310.63 L214.55,310.49 L215.05,310.85 L215.55,311.00 L216.05,311.06 L216.55,310.93 L217.05,310.53 L217.55,311.07 L218.05,310.90 L218.55,310.87 L219.05,310.53 L219.55,310.32 L220.05,311.07 L220.55,311.00 L221.05,310.37 L221.55,310.35 L222.05,310.98 L222.55,310.84 L223.05,310.70 L223.55,310.85 L224.05,310.78 L224.55,310.74 L225.05,310.91 L225.55,311.06 L226.05,311.04 L226.55,310.98 L227.05,311.04 L227.55,310.63 L228.05,310.58 L228.55,310.91 L229.05,310.51 L229.55,310.56 L230.05,310.85 L230.55,310.74 L231.05,310.97 L231.55,310.40 L232.05,310.69 L232.55,311.08 L233.05,311.00 L233.55,310.59 L234.05,310.83 L234.55,310.57 L235.05,310.95 L235.55,310.51 L236.05,310.51 L236.55,311.05 L237.05,310.67 L237.55,310.98 L238.05,310.58 L238.55,310.51 L239.05,310.52 L239.55,310.95 L240.05,311.06 L240.55,310.62 L241.05,310.69 L241.55,311.02 L242.05,310.98 L242.55,310.68 L243.05,311.05 L243.55,310.64 L244.05,310.95 L244.55,310.93 L245.05,310.81 L245.55,310.72 L246.05,310.57 L246.55,311.11 L247.05,310.58 L247.55,310.96 L248.05,310.91 L248.55,310.64 L249.05,310.60 L249.55,310.66 L250.05,310.44 L250.55,310.98 L251.05,310.89 L251.55,310.62 L252.05,310.93 L252.55,311.01 L253.05,310.96 L253.55,310.54 L254.05,310.50 L254.55,310.58 L255.05,310.40 L255.55,310.52 L256.05,310.90 L256.55,310.89 L257.05,310.58 L257.55,311.09 L258.05,310.67 L258.55,311.07 L259.05,311.10 L259.55,310.74 L260.05,311.02 L260.55,310.42 L261.05,310.46 L261.55,310.78 L262.05,310.98 L262.55,311.04 L263.05,310.74 L263.55,310.73 L264.05,310.86 L264.55,310.58 L265.05,310.73 L265.55,310.54 L266.05,311.05 L266.55,311.08 L267.05,310.84 L267.55,310.76" fill="none" stroke="#232368" stroke-width="0.9" stroke-linejoin="round"/>
<line x1="141.55" y1="311.65" x2="267.95" y2="311.65" stroke="#7272b3" stroke-width="0.9"/>
<line x1="141.55" y1="312.20" x2="267.95" y2="312.20" stroke="#232368" stroke-width="0.5" stroke-opacity="0.7"/>
<path d="M137.70,314.70 L137.70,313.79 L138.20,313.47 L138.70,313.81 L139.20,313.74 L139.70,313.62 L140.20,313.44 L140.70,313.39 L141.20,313.70 L141.70,313.64 L142.20,313.27 L142.70,313.27 L143.20,313.51 L143.70,313.90 L144.20,313.63 L144.70,313.49 L145.20,313.77 L145.70,313.96 L146.20,313.23 L146.70,313.28 L147.20,313.89 L147.70,313.63 L148.20,313.51 L148.70,313.75 L149.20,313.93 L149.70,313.41 L150.20,313.39 L150.70,313.65 L151.20,313.92 L151.70,313.68 L152.20,313.91 L152.70,313.24 L153.20,313.95 L153.70,313.76 L154.20,313.39 L154.70,313.88 L155.20,313.90 L155.70,313.93 L156.20,313.86 L156.70,313.58 L157.20,313.34 L157.70,313.85 L158.20,313.85 L158.70,313.40 L159.20,313.66 L159.70,313.72 L160.20,313.88 L160.70,313.73 L161.20,313.53 L161.70,311.99 L162.20,308.15 L162.70,299.68 L163.20,283.00 L163.70,258.20 L164.20,231.34 L164.70,215.03 L165.20,214.59 L165.70,220.47 L166.20,232.06 L166.70,243.37 L167.20,261.31 L167.70,272.95 L168.20,285.33 L168.70,294.03 L169.20,299.54 L169.70,304.36 L170.20,306.17 L170.70,308.60 L171.20,309.00 L171.70,309.25 L172.20,309.88 L172.70,310.40 L173.20,310.65 L173.70,310.81 L174.20,311.14 L174.70,310.92 L175.20,310.76 L175.70,311.35 L176.20,311.00 L176.70,311.16 L177.20,311.25 L177.70,311.57 L178.20,311.50 L178.70,311.86 L179.20,311.70 L179.70,311.76 L180.20,311.73 L180.70,311.87 L181.20,312.05 L181.70,312.62 L182.20,312.27 L182.70,312.54 L183.20,312.22 L183.70,312.71 L184.20,312.79 L184.70,312.80 L185.20,312.49 L185.70,313.08 L186.20,312.61 L186.70,312.86 L187.20,312.62 L187.70,312.99 L188.20,312.60 L188.70,312.64 L189.20,313.11 L189.70,312.93 L190.20,312.99 L190.70,313.04 L191.20,313.16 L191.70,312.97 L192.20,313.26 L192.70,312.82 L193.20,313.47 L193.70,313.55 L194.20,313.27 L194.70,313.29 L195.20,313.26 L195.70,313.04 L196.20,313.51 L196.70,313.12 L197.20,313.09 L197.70,313.55 L198.20,313.05 L198.70,312.98 L199.20,313.42 L199.70,313.48 L200.20,313.23 L200.70,313.07 L201.20,313.64 L201.70,313.58 L202.20,313.56 L202.70,313.26 L203.20,313.69 L203.70,313.42 L204.20,313.46 L204.70,313.34 L205.20,313.75 L205.70,313.13 L206.20,313.10 L206.70,313.45 L207.20,313.27 L207.70,313.75 L208.20,313.19 L208.70,313.47 L209.20,313.32 L209.70,313.24 L210.20,313.63 L210.70,313.20 L211.20,313.76 L211.70,313.90 L212.20,313.54 L212.70,313.23 L213.20,313.24 L213.70,313.20 L214.20,313.54 L214.70,313.22 L215.20,313.51 L215.70,313.83 L216.20,313.46 L216.70,313.33 L217.20,313.62 L217.70,313.49 L218.20,313.75 L218.70,313.74 L219.20,313.63 L219.70,313.56 L220.20,313.60 L220.70,313.89 L221.20,313.96 L221.70,313.70 L222.20,313.41 L222.70,313.39 L223.20,313.78 L223.70,313.77 L224.20,313.57 L224.70,313.83 L225.20,313.50 L225.70,313.27 L226.20,313.81 L226.70,313.52 L227.20,313.42 L227.70,313.39 L228.20,313.42 L228.70,313.43 L229.20,313.76 L229.70,313.33 L230.20,313.26 L230.70,313.93 L231.20,313.25 L231.70,313.64 L232.20,313.91 L232.70,313.92 L233.20,313.36 L233.70,313.46 L234.20,313.87 L234.70,313.62 L235.20,313.49 L235.70,313.21 L236.20,313.72 L236.70,313.39 L237.20,313.79 L237.70,313.83 L238.20,313.86 L238.70,313.67 L239.20,313.51 L239.70,313.75 L240.20,313.86 L240.70,313.81 L241.20,313.92 L241.70,313.83 L242.20,313.74 L242.70,313.59 L243.20,313.84 L243.70,313.61 L244.20,313.65 L244.70,313.23 L245.20,313.61 L245.70,313.26 L246.20,313.62 L246.70,313.83 L247.20,313.53 L247.70,313.87 L248.20,313.85 L248.70,313.93 L249.20,313.44 L249.70,313.24 L250.20,313.67 L250.70,313.71 L251.20,313.66 L251.70,313.71 L252.20,313.45 L252.70,313.68 L253.20,313.87 L253.70,313.32 L254.20,313.54 L254.70,313.98 L255.20,313.33 L255.70,313.42 L256.20,313.71 L256.70,313.50 L257.20,313.28 L257.70,313.68 L258.20,313.65 L258.70,313.76 L259.20,313.56 L259.70,313.47 L260.20,313.42 L260.70,313.25 L261.20,313.87 L261.70,313.70 L262.20,313.33 L262.70,313.38 L263.20,313.53 L263.70,313.46 L264.10,314.70 Z" fill="#9d9ed9" fill-opacity="0.72" stroke="none"/>
<path d="M137.70,313.79 L138.20,313.47 L138.70,313.81 L139.20,313.74 L139.70,313.62 L140.20,313.44 L140.70,313.39 L141.20,313.70 L141.70,313.64 L142.20,313.27 L142.70,313.27 L143.20,313.51 L143.70,313.90 L144.20,313.63 L144.70,313.49 L145.20,313.77 L145.70,313.96 L146.20,313.23 L146.70,313.28 L147.20,313.89 L147.70,313.63 L148.20,313.51 L148.70,313.75 L149.20,313.93 L149.70,313.41 L150.20,313.39 L150.70,313.65 L151.20,313.92 L151.70,313.68 L152.20,313.91 L152.70,313.24 L153.20,313.95 L153.70,313.76 L154.20,313.39 L154.70,313.88 L155.20,313.90 L155.70,313.93 L156.20,313.86 L156.70,313.58 L157.20,313.34 L157.70,313.85 L158.20,313.85 L158.70,313.40 L159.20,313.66 L159.70,313.72 L160.20,313.88 L160.70,313.73 L161.20,313.53 L161.70,311.99 L162.20,308.15 L162.70,299.68 L163.20,283.00 L163.70,258.20 L164.20,231.34 L164.70,215.03 L165.20,214.59 L165.70,220.47 L166.20,232.06 L166.70,243.37 L167.20,261.31 L167.70,272.95 L168.20,285.33 L168.70,294.03 L169.20,299.54 L169.70,304.36 L170.20,306.17 L170.70,308.60 L171.20,309.00 L171.70,309.25 L172.20,309.88 L172.70,310.40 L173.20,310.65 L173.70,310.81 L174.20,311.14 L174.70,310.92 L175.20,310.76 L175.70,311.35 L176.20,311.00 L176.70,311.16 L177.20,311.25 L177.70,311.57 L178.20,311.50 L178.70,311.86 L179.20,311.70 L179.70,311.76 L180.20,311.73 L180.70,311.87 L181.20,312.05 L181.70,312.62 L182.20,312.27 L182.70,312.54 L183.20,312.22 L183.70,312.71 L184.20,312.79 L184.70,312.80 L185.20,312.49 L185.70,313.08 L186.20,312.61 L186.70,312.86 L187.20,312.62 L187.70,312.99 L188.20,312.60 L188.70,312.64 L189.20,313.11 L189.70,312.93 L190.20,312.99 L190.70,313.04 L191.20,313.16 L191.70,312.97 L192.20,313.26 L192.70,312.82 L193.20,313.47 L193.70,313.55 L194.20,313.27 L194.70,313.29 L195.20,313.26 L195.70,313.04 L196.20,313.51 L196.70,313.12 L197.20,313.09 L197.70,313.55 L198.20,313.05 L198.70,312.98 L199.20,313.42 L199.70,313.48 L200.20,313.23 L200.70,313.07 L201.20,313.64 L201.70,313.58 L202.20,313.56 L202.70,313.26 L203.20,313.69 L203.70,313.42 L204.20,313.46 L204.70,313.34 L205.20,313.75 L205.70,313.13 L206.20,313.10 L206.70,313.45 L207.20,313.27 L207.70,313.75 L208.20,313.19 L208.70,313.47 L209.20,313.32 L209.70,313.24 L210.20,313.63 L210.70,313.20 L211.20,313.76 L211.70,313.90 L212.20,313.54 L212.70,313.23 L213.20,313.24 L213.70,313.20 L214.20,313.54 L214.70,313.22 L215.20,313.51 L215.70,313.83 L216.20,313.46 L216.70,313.33 L217.20,313.62 L217.70,313.49 L218.20,313.75 L218.70,313.74 L219.20,313.63 L219.70,313.56 L220.20,313.60 L220.70,313.89 L221.20,313.96 L221.70,313.70 L222.20,313.41 L222.70,313.39 L223.20,313.78 L223.70,313.77 L224.20,313.57 L224.70,313.83 L225.20,313.50 L225.70,313.27 L226.20,313.81 L226.70,313.52 L227.20,313.42 L227.70,313.39 L228.20,313.42 L228.70,313.43 L229.20,313.76 L229.70,313.33 L230.20,313.26 L230.70,313.93 L231.20,313.25 L231.70,313.64 L232.20,313.91 L232.70,313.92 L233.20,313.36 L233.70,313.46 L234.20,313.87 L234.70,313.62 L235.20,313.49 L235.70,313.21 L236.20,313.72 L236.70,313.39 L237.20,313.79 L237.70,313.83 L238.20,313.86 L238.70,313.67 L239.20,313.51 L239.70,313.75 L240.20,313.86 L240.70,313.81 L241.20,313.92 L241.70,313.83 L242.20,313.74 L242.70,313.59 L243.20,313.84 L243.70,313.61 L244.20,313.65 L244.70,313.23 L245.20,313.61 L245.70,313.26 L246.20,313.62 L246.70,313.83 L247.20,313.53 L247.70,313.87 L248.20,313.85 L248.70,313.93 L249.20,313.44 L249.70,313.24 L250.20,313.67 L250.70,313.71 L251.20,313.66 L251.70,313.71 L252.20,313.45 L252.70,313.68 L253.20,313.87 L253.70,313.32 L254.20,313.54 L254.70,313.98 L255.20,313.33 L255.70,313.42 L256.20,313.71 L256.70,313.50 L257.20,313.28 L257.70,313.68 L258.20,313.65 L258.70,313.76 L259.20,313.56 L259.70,313.47 L260.20,313.42 L260.70,313.25 L261.20,313.87 L261.70,313.70 L262.20,313.33 L262.70,313.38 L263.20,313.53 L263.70,313.46" fill="none" stroke="#6a6cc0" stroke-width="0.9" stroke-linejoin="round"/>
<line x1="137.70" y1="314.50" x2="264.10" y2="314.50" stroke="#9d9ed9" stroke-width="0.9"/>
<line x1="137.70" y1="315.05" x2="264.10" y2="315.05" stroke="#6a6cc0" stroke-width="0.5" stroke-opacity="0.7"/>
<path d="M133.85,317.55 L133.85,316.57 L134.35,316.11 L134.85,316.41 L135.35,316.53 L135.85,316.69 L136.35,316.75 L136.85,316.14 L137.35,316.22 L137.85,316.81 L138.35,316.59 L138.85,316.47 L139.35,316.45 L139.85,316.56 L140.35,316.15 L140.85,316.57 L141.35,316.43 L141.85,316.12 L142.35,316.34 L142.85,316.47 L143.35,316.58 L143.85,316.54 L144.35,316.37 L144.85,316.23 L145.35,316.63 L145.85,316.55 L146.35,316.54 L146.85,316.56 L147.35,316.13 L147.85,316.42 L148.35,316.62 L148.85,316.58 L149.35,316.20 L149.85,316.71 L150.35,316.30 L150.85,316.82 L151.35,316.69 L151.85,316.79 L152.35,316.21 L152.85,316.72 L153.35,316.66 L153.85,316.79 L154.35,316.63 L154.85,316.27 L155.35,316.28 L155.85,316.13 L156.35,316.06 L156.85,316.19 L157.35,315.78 L157.85,313.09 L158.35,307.34 L158.85,294.77 L159.35,278.69 L159.85,257.21 L160.35,243.77 L160.85,242.25 L161.35,247.39 L161.85,255.20 L162.35,267.13 L162.85,274.54 L163.35,287.03 L163.85,294.81 L164.35,300.29 L164.85,305.57 L165.35,309.21 L165.85,311.49 L166.35,311.83 L166.85,313.32 L167.35,313.92 L167.85,313.68 L168.35,314.09 L168.85,314.47 L169.35,314.06 L169.85,314.40 L170.35,314.33 L170.85,314.69 L171.35,314.31 L171.85,314.64 L172.35,315.15 L172.85,314.79 L173.35,314.83 L173.85,315.01 L174.35,314.97 L174.85,315.08 L175.35,315.07 L175.85,314.97 L176.35,314.99 L176.85,315.55 L177.35,315.66 L177.85,315.26 L178.35,315.29 L178.85,315.42 L179.35,315.47 L179.85,315.62 L180.35,315.48 L180.85,315.94 L181.35,316.09 L181.85,315.60 L182.35,315.68 L182.85,315.57 L183.35,315.97 L183.85,316.24 L184.35,316.26 L184.85,316.30 L185.35,316.04 L185.85,316.21 L186.35,315.93 L186.85,316.09 L187.35,316.30 L187.85,316.27 L188.35,315.81 L188.85,315.74 L189.35,316.21 L189.85,316.11 L190.35,315.95 L190.85,316.00 L191.35,316.24 L191.85,315.94 L192.35,316.31 L192.85,315.90 L193.35,316.27 L193.85,316.56 L194.35,316.08 L194.85,316.55 L195.35,316.15 L195.85,316.64 L196.35,315.93 L196.85,316.28 L197.35,316.13 L197.85,316.61 L198.35,316.23 L198.85,316.43 L199.35,316.53 L199.85,316.10 L200.35,316.71 L200.85,316.37 L201.35,316.68 L201.85,316.10 L202.35,316.07 L202.85,316.73 L203.35,316.40 L203.85,316.40 L204.35,316.22 L204.85,316.21 L205.35,316.51 L205.85,316.06 L206.35,316.64 L206.85,316.68 L207.35,316.16 L207.85,316.70 L208.35,316.65 L208.85,316.41 L209.35,316.54 L209.85,316.67 L210.35,316.08 L210.85,316.44 L211.35,316.20 L211.85,316.61 L212.35,316.10 L212.85,316.64 L213.35,316.11 L213.85,316.34 L214.35,316.06 L214.85,316.22 L215.35,316.33 L215.85,316.40 L216.35,316.16 L216.85,316.47 L217.35,316.74 L217.85,316.11 L218.35,316.20 L218.85,316.29 L219.35,316.25 L219.85,316.64 L220.35,316.46 L220.85,316.19 L221.35,316.08 L221.85,316.11 L222.35,316.70 L222.85,316.30 L223.35,316.40 L223.85,316.51 L224.35,316.70 L224.85,316.72 L225.35,316.46 L225.85,316.45 L226.35,316.62 L226.85,316.54 L227.35,316.40 L227.85,316.24 L228.35,316.38 L228.85,316.70 L229.35,316.15 L229.85,316.55 L230.35,316.09 L230.85,316.07 L231.35,316.72 L231.85,316.38 L232.35,316.09 L232.85,316.53 L233.35,316.41 L233.85,316.59 L234.35,316.81 L234.85,316.67 L235.35,316.74 L235.85,316.61 L236.35,316.35 L236.85,316.40 L237.35,316.10 L237.85,316.31 L238.35,316.55 L238.85,316.10 L239.35,316.35 L239.85,316.42 L240.35,316.17 L240.85,316.32 L241.35,316.56 L241.85,316.37 L242.35,316.60 L242.85,316.09 L243.35,316.65 L243.85,316.09 L244.35,316.79 L244.85,316.83 L245.35,316.41 L245.85,316.68 L246.35,316.44 L246.85,316.74 L247.35,316.19 L247.85,316.32 L248.35,316.31 L248.85,316.12 L249.35,316.07 L249.85,316.31 L250.35,316.29 L250.85,316.83 L251.35,316.80 L251.85,316.51 L252.35,316.09 L252.85,316.59 L253.35,316.40 L253.85,316.83 L254.35,316.51 L254.85,316.14 L255.35,316.38 L255.85,316.20 L256.35,316.82 L256.85,316.68 L257.35,316.70 L257.85,316.19 L258.35,316.76 L258.85,316.12 L259.35,316.63 L259.85,316.16 L260.25,317.55 Z" fill="#52a768" fill-opacity="0.55" stroke="none"/>
<path d="M133.85,316.57 L134.35,316.11 L134.85,316.41 L135.35,316.53 L135.85,316.69 L136.35,316.75 L136.85,316.14 L137.35,316.22 L137.85,316.81 L138.35,316.59 L138.85,316.47 L139.35,316.45 L139.85,316.56 L140.35,316.15 L140.85,316.57 L141.35,316.43 L141.85,316.12 L142.35,316.34 L142.85,316.47 L143.35,316.58 L143.85,316.54 L144.35,316.37 L144.85,316.23 L145.35,316.63 L145.85,316.55 L146.35,316.54 L146.85,316.56 L147.35,316.13 L147.85,316.42 L148.35,316.62 L148.85,316.58 L149.35,316.20 L149.85,316.71 L150.35,316.30 L150.85,316.82 L151.35,316.69 L151.85,316.79 L152.35,316.21 L152.85,316.72 L153.35,316.66 L153.85,316.79 L154.35,316.63 L154.85,316.27 L155.35,316.28 L155.85,316.13 L156.35,316.06 L156.85,316.19 L157.35,315.78 L157.85,313.09 L158.35,307.34 L158.85,294.77 L159.35,278.69 L159.85,257.21 L160.35,243.77 L160.85,242.25 L161.35,247.39 L161.85,255.20 L162.35,267.13 L162.85,274.54 L163.35,287.03 L163.85,294.81 L164.35,300.29 L164.85,305.57 L165.35,309.21 L165.85,311.49 L166.35,311.83 L166.85,313.32 L167.35,313.92 L167.85,313.68 L168.35,314.09 L168.85,314.47 L169.35,314.06 L169.85,314.40 L170.35,314.33 L170.85,314.69 L171.35,314.31 L171.85,314.64 L172.35,315.15 L172.85,314.79 L173.35,314.83 L173.85,315.01 L174.35,314.97 L174.85,315.08 L175.35,315.07 L175.85,314.97 L176.35,314.99 L176.85,315.55 L177.35,315.66 L177.85,315.26 L178.35,315.29 L178.85,315.42 L179.35,315.47 L179.85,315.62 L180.35,315.48 L180.85,315.94 L181.35,316.09 L181.85,315.60 L182.35,315.68 L182.85,315.57 L183.35,315.97 L183.85,316.24 L184.35,316.26 L184.85,316.30 L185.35,316.04 L185.85,316.21 L186.35,315.93 L186.85,316.09 L187.35,316.30 L187.85,316.27 L188.35,315.81 L188.85,315.74 L189.35,316.21 L189.85,316.11 L190.35,315.95 L190.85,316.00 L191.35,316.24 L191.85,315.94 L192.35,316.31 L192.85,315.90 L193.35,316.27 L193.85,316.56 L194.35,316.08 L194.85,316.55 L195.35,316.15 L195.85,316.64 L196.35,315.93 L196.85,316.28 L197.35,316.13 L197.85,316.61 L198.35,316.23 L198.85,316.43 L199.35,316.53 L199.85,316.10 L200.35,316.71 L200.85,316.37 L201.35,316.68 L201.85,316.10 L202.35,316.07 L202.85,316.73 L203.35,316.40 L203.85,316.40 L204.35,316.22 L204.85,316.21 L205.35,316.51 L205.85,316.06 L206.35,316.64 L206.85,316.68 L207.35,316.16 L207.85,316.70 L208.35,316.65 L208.85,316.41 L209.35,316.54 L209.85,316.67 L210.35,316.08 L210.85,316.44 L211.35,316.20 L211.85,316.61 L212.35,316.10 L212.85,316.64 L213.35,316.11 L213.85,316.34 L214.35,316.06 L214.85,316.22 L215.35,316.33 L215.85,316.40 L216.35,316.16 L216.85,316.47 L217.35,316.74 L217.85,316.11 L218.35,316.20 L218.85,316.29 L219.35,316.25 L219.85,316.64 L220.35,316.46 L220.85,316.19 L221.35,316.08 L221.85,316.11 L222.35,316.70 L222.85,316.30 L223.35,316.40 L223.85,316.51 L224.35,316.70 L224.85,316.72 L225.35,316.46 L225.85,316.45 L226.35,316.62 L226.85,316.54 L227.35,316.40 L227.85,316.24 L228.35,316.38 L228.85,316.70 L229.35,316.15 L229.85,316.55 L230.35,316.09 L230.85,316.07 L231.35,316.72 L231.85,316.38 L232.35,316.09 L232.85,316.53 L233.35,316.41 L233.85,316.59 L234.35,316.81 L234.85,316.67 L235.35,316.74 L235.85,316.61 L236.35,316.35 L236.85,316.40 L237.35,316.10 L237.85,316.31 L238.35,316.55 L238.85,316.10 L239.35,316.35 L239.85,316.42 L240.35,316.17 L240.85,316.32 L241.35,316.56 L241.85,316.37 L242.35,316.60 L242.85,316.09 L243.35,316.65 L243.85,316.09 L244.35,316.79 L244.85,316.83 L245.35,316.41 L245.85,316.68 L246.35,316.44 L246.85,316.74 L247.35,316.19 L247.85,316.32 L248.35,316.31 L248.85,316.12 L249.35,316.07 L249.85,316.31 L250.35,316.29 L250.85,316.83 L251.35,316.80 L251.85,316.51 L252.35,316.09 L252.85,316.59 L253.35,316.40 L253.85,316.83 L254.35,316.51 L254.85,316.14 L255.35,316.38 L255.85,316.20 L256.35,316.82 L256.85,316.68 L257.35,316.70 L257.85,316.19 L258.35,316.76 L258.85,316.12 L259.35,316.63 L259.85,316.16" fill="none" stroke="#1f7a3c" stroke-width="0.9" stroke-linejoin="round"/>
<line x1="133.85" y1="317.35" x2="260.25" y2="317.35" stroke="#52a768" stroke-width="0.9"/>
<line x1="133.85" y1="317.90" x2="260.25" y2="317.90" stroke="#1f7a3c" stroke-width="0.5" stroke-opacity="0.7"/>
<path d="M130.00,320.40 L130.00,319.29 L130.50,319.44 L131.00,318.94 L131.50,319.37 L132.00,319.15 L132.50,319.63 L133.00,319.05 L133.50,318.93 L134.00,319.60 L134.50,319.11 L135.00,319.48 L135.50,319.57 L136.00,319.40 L136.50,319.18 L137.00,318.95 L137.50,318.92 L138.00,318.92 L138.50,319.21 L139.00,319.18 L139.50,319.56 L140.00,319.13 L140.50,319.26 L141.00,319.41 L141.50,318.99 L142.00,319.49 L142.50,319.58 L143.00,319.56 L143.50,319.57 L144.00,319.23 L144.50,319.07 L145.00,319.56 L145.50,319.30 L146.00,319.24 L146.50,319.25 L147.00,319.37 L147.50,319.27 L148.00,319.67 L148.50,319.64 L149.00,319.36 L149.50,319.50 L150.00,319.10 L150.50,319.50 L151.00,319.05 L151.50,319.49 L152.00,319.56 L152.50,319.05 L153.00,318.33 L153.50,315.65 L154.00,308.51 L154.50,296.23 L155.00,275.24 L155.50,257.07 L156.00,244.39 L156.50,244.16 L157.00,249.38 L157.50,258.62 L158.00,268.72 L158.50,281.58 L159.00,290.21 L159.50,300.53 L160.00,305.93 L160.50,310.19 L161.00,313.62 L161.50,314.60 L162.00,315.84 L162.50,316.46 L163.00,316.59 L163.50,316.59 L164.00,316.77 L164.50,316.91 L165.00,316.97 L165.50,316.96 L166.00,317.60 L166.50,317.64 L167.00,317.41 L167.50,317.61 L168.00,317.56 L168.50,317.85 L169.00,317.84 L169.50,318.26 L170.00,317.57 L170.50,318.27 L171.00,318.09 L171.50,318.05 L172.00,317.96 L172.50,317.94 L173.00,318.29 L173.50,318.40 L174.00,318.29 L174.50,318.36 L175.00,318.79 L175.50,318.27 L176.00,318.73 L176.50,318.56 L177.00,318.73 L177.50,318.75 L178.00,318.85 L178.50,318.74 L179.00,319.09 L179.50,318.49 L180.00,319.06 L180.50,318.64 L181.00,318.96 L181.50,319.25 L182.00,319.03 L182.50,318.52 L183.00,318.62 L183.50,318.66 L184.00,318.60 L184.50,318.63 L185.00,319.23 L185.50,319.00 L186.00,319.04 L186.50,319.17 L187.00,319.15 L187.50,319.06 L188.00,319.01 L188.50,319.30 L189.00,319.27 L189.50,319.11 L190.00,319.11 L190.50,319.19 L191.00,319.01 L191.50,319.39 L192.00,319.13 L192.50,319.33 L193.00,318.96 L193.50,319.01 L194.00,318.96 L194.50,319.17 L195.00,319.38 L195.50,318.87 L196.00,319.19 L196.50,319.30 L197.00,319.37 L197.50,319.29 L198.00,319.06 L198.50,318.98 L199.00,319.24 L199.50,319.05 L200.00,319.45 L200.50,319.27 L201.00,319.35 L201.50,319.39 L202.00,319.35 L202.50,319.05 L203.00,319.07 L203.50,319.48 L204.00,319.46 L204.50,319.04 L205.00,319.14 L205.50,319.13 L206.00,319.16 L206.50,319.12 L207.00,319.44 L207.50,319.61 L208.00,319.38 L208.50,319.63 L209.00,318.92 L209.50,319.25 L210.00,319.14 L210.50,318.92 L211.00,319.04 L211.50,319.49 L212.00,319.41 L212.50,319.58 L213.00,319.05 L213.50,319.10 L214.00,319.29 L214.50,319.38 L215.00,319.46 L215.50,319.30 L216.00,319.12 L216.50,318.98 L217.00,319.02 L217.50,319.01 L218.00,319.34 L218.50,319.35 L219.00,319.43 L219.50,318.93 L220.00,319.53 L220.50,319.55 L221.00,319.46 L221.50,318.97 L222.00,319.02 L222.50,319.42 L223.00,319.02 L223.50,318.99 L224.00,319.35 L224.50,319.53 L225.00,319.08 L225.50,319.39 L226.00,319.59 L226.50,318.99 L227.00,319.34 L227.50,319.37 L228.00,319.22 L228.50,319.48 L229.00,319.67 L229.50,319.38 L230.00,319.39 L230.50,319.67 L231.00,319.40 L231.50,319.10 L232.00,319.43 L232.50,319.16 L233.00,319.20 L233.50,319.54 L234.00,319.67 L234.50,319.16 L235.00,319.21 L235.50,319.46 L236.00,319.53 L236.50,319.03 L237.00,318.98 L237.50,319.50 L238.00,319.23 L238.50,319.24 L239.00,319.44 L239.50,319.66 L240.00,319.43 L240.50,319.19 L241.00,319.22 L241.50,319.29 L242.00,319.59 L242.50,319.52 L243.00,319.45 L243.50,319.36 L244.00,319.41 L244.50,318.99 L245.00,319.60 L245.50,318.93 L246.00,319.50 L246.50,319.03 L247.00,319.50 L247.50,319.23 L248.00,319.39 L248.50,319.66 L249.00,319.07 L249.50,319.06 L250.00,319.48 L250.50,319.09 L251.00,319.32 L251.50,318.93 L252.00,319.64 L252.50,319.39 L253.00,319.51 L253.50,319.20 L254.00,319.09 L254.50,319.04 L255.00,319.26 L255.50,319.39 L256.00,319.07 L256.40,320.40 Z" fill="#88cd94" fill-opacity="0.55" stroke="none"/>
<path d="M130.00,319.29 L130.50,319.44 L131.00,318.94 L131.50,319.37 L132.00,319.15 L132.50,319.63 L133.00,319.05 L133.50,318.93 L134.00,319.60 L134.50,319.11 L135.00,319.48 L135.50,319.57 L136.00,319.40 L136.50,319.18 L137.00,318.95 L137.50,318.92 L138.00,318.92 L138.50,319.21 L139.00,319.18 L139.50,319.56 L140.00,319.13 L140.50,319.26 L141.00,319.41 L141.50,318.99 L142.00,319.49 L142.50,319.58 L143.00,319.56 L143.50,319.57 L144.00,319.23 L144.50,319.07 L145.00,319.56 L145.50,319.30 L146.00,319.24 L146.50,319.25 L147.00,319.37 L147.50,319.27 L148.00,319.67 L148.50,319.64 L149.00,319.36 L149.50,319.50 L150.00,319.10 L150.50,319.50 L151.00,319.05 L151.50,319.49 L152.00,319.56 L152.50,319.05 L153.00,318.33 L153.50,315.65 L154.00,308.51 L154.50,296.23 L155.00,275.24 L155.50,257.07 L156.00,244.39 L156.50,244.16 L157.00,249.38 L157.50,258.62 L158.00,268.72 L158.50,281.58 L159.00,290.21 L159.50,300.53 L160.00,305.93 L160.50,310.19 L161.00,313.62 L161.50,314.60 L162.00,315.84 L162.50,316.46 L163.00,316.59 L163.50,316.59 L164.00,316.77 L164.50,316.91 L165.00,316.97 L165.50,316.96 L166.00,317.60 L166.50,317.64 L167.00,317.41 L167.50,317.61 L168.00,317.56 L168.50,317.85 L169.00,317.84 L169.50,318.26 L170.00,317.57 L170.50,318.27 L171.00,318.09 L171.50,318.05 L172.00,317.96 L172.50,317.94 L173.00,318.29 L173.50,318.40 L174.00,318.29 L174.50,318.36 L175.00,318.79 L175.50,318.27 L176.00,318.73 L176.50,318.56 L177.00,318.73 L177.50,318.75 L178.00,318.85 L178.50,318.74 L179.00,319.09 L179.50,318.49 L180.00,319.06 L180.50,318.64 L181.00,318.96 L181.50,319.25 L182.00,319.03 L182.50,318.52 L183.00,318.62 L183.50,318.66 L184.00,318.60 L184.50,318.63 L185.00,319.23 L185.50,319.00 L186.00,319.04 L186.50,319.17 L187.00,319.15 L187.50,319.06 L188.00,319.01 L188.50,319.30 L189.00,319.27 L189.50,319.11 L190.00,319.11 L190.50,319.19 L191.00,319.01 L191.50,319.39 L192.00,319.13 L192.50,319.33 L193.00,318.96 L193.50,319.01 L194.00,318.96 L194.50,319.17 L195.00,319.38 L195.50,318.87 L196.00,319.19 L196.50,319.30 L197.00,319.37 L197.50,319.29 L198.00,319.06 L198.50,318.98 L199.00,319.24 L199.50,319.05 L200.00,319.45 L200.50,319.27 L201.00,319.35 L201.50,319.39 L202.00,319.35 L202.50,319.05 L203.00,319.07 L203.50,319.48 L204.00,319.46 L204.50,319.04 L205.00,319.14 L205.50,319.13 L206.00,319.16 L206.50,319.12 L207.00,319.44 L207.50,319.61 L208.00,319.38 L208.50,319.63 L209.00,318.92 L209.50,319.25 L210.00,319.14 L210.50,318.92 L211.00,319.04 L211.50,319.49 L212.00,319.41 L212.50,319.58 L213.00,319.05 L213.50,319.10 L214.00,319.29 L214.50,319.38 L215.00,319.46 L215.50,319.30 L216.00,319.12 L216.50,318.98 L217.00,319.02 L217.50,319.01 L218.00,319.34 L218.50,319.35 L219.00,319.43 L219.50,318.93 L220.00,319.53 L220.50,319.55 L221.00,319.46 L221.50,318.97 L222.00,319.02 L222.50,319.42 L223.00,319.02 L223.50,318.99 L224.00,319.35 L224.50,319.53 L225.00,319.08 L225.50,319.39 L226.00,319.59 L226.50,318.99 L227.00,319.34 L227.50,319.37 L228.00,319.22 L228.50,319.48 L229.00,319.67 L229.50,319.38 L230.00,319.39 L230.50,319.67 L231.00,319.40 L231.50,319.10 L232.00,319.43 L232.50,319.16 L233.00,319.20 L233.50,319.54 L234.00,319.67 L234.50,319.16 L235.00,319.21 L235.50,319.46 L236.00,319.53 L236.50,319.03 L237.00,318.98 L237.50,319.50 L238.00,319.23 L238.50,319.24 L239.00,319.44 L239.50,319.66 L240.00,319.43 L240.50,319.19 L241.00,319.22 L241.50,319.29 L242.00,319.59 L242.50,319.52 L243.00,319.45 L243.50,319.36 L244.00,319.41 L244.50,318.99 L245.00,319.60 L245.50,318.93 L246.00,319.50 L246.50,319.03 L247.00,319.50 L247.50,319.23 L248.00,319.39 L248.50,319.66 L249.00,319.07 L249.50,319.06 L250.00,319.48 L250.50,319.09 L251.00,319.32 L251.50,318.93 L252.00,319.64 L252.50,319.39 L253.00,319.51 L253.50,319.20 L254.00,319.09 L254.50,319.04 L255.00,319.26 L255.50,319.39 L256.00,319.07" fill="none" stroke="#4fb35e" stroke-width="0.9" stroke-linejoin="round"/>
<line x1="130.00" y1="320.20" x2="256.40" y2="320.20" stroke="#88cd94" stroke-width="0.9"/>
<line x1="130.00" y1="320.75" x2="256.40" y2="320.75" stroke="#4fb35e" stroke-width="0.5" stroke-opacity="0.7"/>
<line x1="130.00" y1="320.70" x2="156.95" y2="300.75" stroke="#444" stroke-width="0.7"/>
<line x1="176.50" y1="320.70" x2="203.45" y2="300.75" stroke="#222" stroke-width="0.85"/>
<line x1="214.70" y1="320.70" x2="241.65" y2="300.75" stroke="#222" stroke-width="0.85"/>
<line x1="243.00" y1="320.70" x2="269.95" y2="300.75" stroke="#222" stroke-width="0.85"/>
<rect x="131.00" y="321.40" width="1.08" height="1.91" fill="#111"/>
<rect x="134.19" y="321.40" width="1.99" height="2.79" fill="#111"/>
<rect x="136.96" y="321.40" width="2.05" height="1.86" fill="#111"/>
<rect x="139.61" y="321.40" width="1.05" height="1.71" fill="#111"/>
<rect x="142.00" y="321.40" width="1.97" height="2.21" fill="#111"/>
<rect x="145.15" y="321.40" width="2.70" height="2.22" fill="#111"/>
<rect x="150.41" y="321.40" width="1.26" height="2.21" fill="#111"/>
<rect x="153.25" y="321.40" width="1.80" height="2.63" fill="#111"/>
<rect x="156.07" y="321.40" width="3.17" height="2.03" fill="#111"/>
<rect x="160.51" y="321.40" width="2.46" height="2.28" fill="#111"/>
<rect x="164.14" y="321.40" width="1.03" height="2.75" fill="#111"/>
<rect x="166.51" y="321.40" width="1.11" height="2.39" fill="#111"/>
<rect x="169.28" y="321.40" width="1.68" height="1.99" fill="#111"/>
<rect x="173.26" y="321.40" width="1.71" height="2.10" fill="#111"/>
<rect x="177.48" y="321.40" width="1.77" height="2.08" fill="#111"/>
<rect x="180.18" y="321.40" width="2.59" height="2.40" fill="#111"/>
<rect x="184.26" y="321.40" width="1.90" height="1.88" fill="#111"/>
<rect x="188.34" y="321.40" width="2.03" height="2.60" fill="#111"/>
<rect x="191.72" y="321.40" width="2.78" height="1.63" fill="#111"/>
<rect x="195.54" y="321.40" width="3.39" height="2.42" fill="#111"/>
<rect x="200.89" y="321.40" width="2.14" height="2.17" fill="#111"/>
<rect x="204.03" y="321.40" width="1.27" height="2.37" fill="#111"/>
<rect x="207.28" y="321.40" width="1.50" height="2.37" fill="#111"/>
<rect x="209.65" y="321.40" width="2.46" height="1.81" fill="#111"/>
<rect x="213.73" y="321.40" width="1.65" height="2.26" fill="#111"/>
<rect x="216.24" y="321.40" width="2.11" height="2.34" fill="#111"/>
<rect x="219.22" y="321.40" width="1.63" height="2.41" fill="#111"/>
<rect x="222.54" y="321.40" width="2.47" height="2.54" fill="#111"/>
<rect x="226.75" y="321.40" width="1.40" height="2.13" fill="#111"/>
<rect x="230.41" y="321.40" width="2.33" height="2.50" fill="#111"/>
<rect x="234.07" y="321.40" width="2.01" height="2.76" fill="#111"/>
<rect x="238.32" y="321.40" width="2.56" height="1.73" fill="#111"/>
<rect x="242.71" y="321.40" width="0.89" height="2.72" fill="#111"/>
<rect x="246.14" y="321.40" width="2.77" height="1.92" fill="#111"/>
<rect x="251.20" y="321.40" width="1.28" height="2.59" fill="#111"/>
<rect x="254.12" y="321.40" width="0.84" height="2.67" fill="#111"/>
<rect x="175.20" y="321.20" width="2.60" height="2.80" fill="#111"/>
<rect x="213.40" y="321.20" width="2.60" height="2.80" fill="#111"/>
<rect x="241.70" y="321.20" width="2.60" height="2.80" fill="#111"/>
<text x="138.30" y="333.60" font-size="9.45" text-anchor="middle" fill="#262626">−10<tspan font-size="6.51" dy="-3.8">3</tspan></text>
<text x="158.10" y="333.60" font-size="9.45" text-anchor="middle" font-weight="normal" font-style="normal" fill="#262626">0</text>
<text x="182.60" y="333.60" font-size="9.45" text-anchor="middle" fill="#262626">10<tspan font-size="6.51" dy="-3.8">3</tspan></text>
<text x="218.00" y="333.60" font-size="9.45" text-anchor="middle" fill="#262626">10<tspan font-size="6.51" dy="-3.8">4</tspan></text>
<text x="249.40" y="333.60" font-size="9.45" text-anchor="middle" fill="#262626">10<tspan font-size="6.51" dy="-3.8">5</tspan></text>
<text x="214.00" y="348.00" font-size="10.82" text-anchor="middle" font-weight="normal" font-style="normal" fill="#262626">PE-MSLN</text>
<text x="211.00" y="199.80" font-size="10.19" text-anchor="middle" font-weight="normal" font-style="normal" fill="#262626">KP4_MSLN</text>
<rect x="107.70" y="358.60" width="19.80" height="10.20" fill="#4679c2"/>
<text x="130.70" y="367.80" font-size="10.82" text-anchor="start" font-weight="normal" font-style="normal" fill="#262626">sg<tspan font-style="italic">MSLN</tspan></text>
<rect x="189.20" y="358.60" width="19.80" height="10.20" fill="#7a2183"/>
<text x="211.00" y="367.80" font-size="10.82" text-anchor="start" font-weight="normal" font-style="normal" fill="#262626">sg<tspan font-style="italic">GPAA1</tspan>.1</text>
<rect x="278.30" y="358.60" width="19.80" height="10.20" fill="#2a2a78"/>
<text x="301.30" y="367.80" font-size="10.82" text-anchor="start" font-weight="normal" font-style="normal" fill="#262626">sg<tspan font-style="italic">PIGA</tspan>.1</text>
<rect x="363.80" y="358.60" width="19.80" height="10.20" fill="#248442"/>
<text x="386.80" y="367.80" font-size="10.82" text-anchor="start" font-weight="normal" font-style="normal" fill="#262626">sg<tspan font-style="italic">PIGW</tspan>.1</text>
<rect x="107.70" y="374.40" width="19.80" height="10.20" fill="#838383"/>
<text x="130.70" y="383.60" font-size="10.82" text-anchor="start" font-weight="normal" font-style="normal" fill="#262626">sgCNTRL</text>
<rect x="189.20" y="374.40" width="19.80" height="10.20" fill="#a773b9"/>
<text x="211.00" y="383.60" font-size="10.82" text-anchor="start" font-weight="normal" font-style="normal" fill="#262626">sg<tspan font-style="italic">GPAA1</tspan>.2</text>
<rect x="278.30" y="374.40" width="19.80" height="10.20" fill="#6565bb"/>
<text x="301.30" y="383.60" font-size="10.82" text-anchor="start" font-weight="normal" font-style="normal" fill="#262626">sg<tspan font-style="italic">PIGA</tspan>.2</text>
<rect x="363.80" y="374.40" width="19.80" height="10.20" fill="#52b560"/>
<text x="386.80" y="383.60" font-size="10.82" text-anchor="start" font-weight="normal" font-style="normal" fill="#262626">sg<tspan font-style="italic">PIGW</tspan>.2</text>
<line x1="41.70" y1="427.50" x2="41.70" y2="513.20" stroke="#111" stroke-width="1.8"/>
<line x1="38.20" y1="512.30" x2="41.70" y2="512.30" stroke="#111" stroke-width="1.4"/>
<text x="36.50" y="515.40" font-size="8.82" text-anchor="end" font-weight="normal" font-style="normal" fill="#262626">0</text>
<line x1="38.20" y1="491.18" x2="41.70" y2="491.18" stroke="#111" stroke-width="1.4"/>
<text x="36.50" y="494.28" font-size="8.82" text-anchor="end" font-weight="normal" font-style="normal" fill="#262626">200</text>
<line x1="38.20" y1="470.06" x2="41.70" y2="470.06" stroke="#111" stroke-width="1.4"/>
<text x="36.50" y="473.16" font-size="8.82" text-anchor="end" font-weight="normal" font-style="normal" fill="#262626">400</text>
<line x1="38.20" y1="448.94" x2="41.70" y2="448.94" stroke="#111" stroke-width="1.4"/>
<text x="36.50" y="452.04" font-size="8.82" text-anchor="end" font-weight="normal" font-style="normal" fill="#262626">600</text>
<line x1="38.20" y1="427.82" x2="41.70" y2="427.82" stroke="#111" stroke-width="1.4"/>
<text x="36.50" y="430.92" font-size="8.82" text-anchor="end" font-weight="normal" font-style="normal" fill="#262626">800</text>
<line x1="40.90" y1="512.30" x2="168.00" y2="512.30" stroke="#111" stroke-width="1.8"/>
<line x1="41.90" y1="512.30" x2="41.90" y2="515.80" stroke="#111" stroke-width="1.4"/>
<text x="41.90" y="524.80" font-size="9.66" text-anchor="middle" font-weight="normal" font-style="normal" fill="#262626">−10</text>
<line x1="78.10" y1="512.30" x2="78.10" y2="515.80" stroke="#111" stroke-width="1.4"/>
<text x="78.10" y="524.80" font-size="9.66" text-anchor="middle" font-weight="normal" font-style="normal" fill="#262626">0</text>
<line x1="114.30" y1="512.30" x2="114.30" y2="515.80" stroke="#111" stroke-width="1.4"/>
<text x="114.30" y="524.80" font-size="9.66" text-anchor="middle" font-weight="normal" font-style="normal" fill="#262626">10</text>
<line x1="150.50" y1="512.30" x2="150.50" y2="515.80" stroke="#111" stroke-width="1.4"/>
<text x="150.50" y="524.80" font-size="9.66" text-anchor="middle" font-weight="normal" font-style="normal" fill="#262626">20</text>
<text x="105.00" y="536.40" font-size="10.71" text-anchor="middle" font-weight="normal" font-style="normal" fill="#262626">Day</text>
<text x="14.00" y="470.5" font-size="10.2" text-anchor="middle" fill="#262626" transform="rotate(-90 14.00 470.5)">Tumor volume (mm<tspan font-size="6.8" dy="-3.8">3</tspan><tspan dy="3.8">)</tspan></text>
<text x="100.50" y="411.60" font-size="9.55" text-anchor="middle" font-weight="normal" font-style="normal" fill="#262626">PACADD-161_sg<tspan>CNTRL</tspan></text>
<path d="M52.76,488.65 L74.48,494.88 L88.96,491.18 L103.44,478.82 L117.92,476.40 L132.40,493.19 L146.88,504.59 L157.74,507.97" fill="none" stroke="#111" stroke-width="1.0" stroke-linejoin="round"/>
<circle cx="52.76" cy="488.65" r="1.2" fill="#111"/>
<circle cx="74.48" cy="494.88" r="1.2" fill="#111"/>
<circle cx="88.96" cy="491.18" r="1.2" fill="#111"/>
<circle cx="103.44" cy="478.82" r="1.2" fill="#111"/>
<circle cx="117.92" cy="476.40" r="1.2" fill="#111"/>
<circle cx="132.40" cy="493.19" r="1.2" fill="#111"/>
<circle cx="146.88" cy="504.59" r="1.2" fill="#111"/>
<circle cx="157.74" cy="507.97" r="1.2" fill="#111"/>
<path d="M52.76,495.40 L74.48,496.46 L88.96,494.35 L103.44,488.01 L117.92,487.06 L132.40,476.29 L146.88,483.68 L157.74,488.22" fill="none" stroke="#111" stroke-width="1.0" stroke-linejoin="round"/>
<circle cx="52.76" cy="495.40" r="1.2" fill="#111"/>
<circle cx="74.48" cy="496.46" r="1.2" fill="#111"/>
<circle cx="88.96" cy="494.35" r="1.2" fill="#111"/>
<circle cx="103.44" cy="488.01" r="1.2" fill="#111"/>
<circle cx="117.92" cy="487.06" r="1.2" fill="#111"/>
<circle cx="132.40" cy="476.29" r="1.2" fill="#111"/>
<circle cx="146.88" cy="483.68" r="1.2" fill="#111"/>
<circle cx="157.74" cy="488.22" r="1.2" fill="#111"/>
<path d="M52.76,501.74 L74.48,495.40 L88.96,493.82 L103.44,486.43 L117.92,489.07 L132.40,502.58 L146.88,507.55 L157.74,507.97" fill="none" stroke="#111" stroke-width="1.0" stroke-linejoin="round"/>
<circle cx="52.76" cy="501.74" r="1.2" fill="#111"/>
<circle cx="74.48" cy="495.40" r="1.2" fill="#111"/>
<circle cx="88.96" cy="493.82" r="1.2" fill="#111"/>
<circle cx="103.44" cy="486.43" r="1.2" fill="#111"/>
<circle cx="117.92" cy="489.07" r="1.2" fill="#111"/>
<circle cx="132.40" cy="502.58" r="1.2" fill="#111"/>
<circle cx="146.88" cy="507.55" r="1.2" fill="#111"/>
<circle cx="157.74" cy="507.97" r="1.2" fill="#111"/>
<path d="M52.76,502.27 L74.48,497.52 L88.96,496.46 L103.44,491.18 L117.92,496.46 L132.40,505.96 L146.88,512.30" fill="none" stroke="#111" stroke-width="1.0" stroke-linejoin="round"/>
<circle cx="52.76" cy="502.27" r="1.2" fill="#111"/>
<circle cx="74.48" cy="497.52" r="1.2" fill="#111"/>
<circle cx="88.96" cy="496.46" r="1.2" fill="#111"/>
<circle cx="103.44" cy="491.18" r="1.2" fill="#111"/>
<circle cx="117.92" cy="496.46" r="1.2" fill="#111"/>
<circle cx="132.40" cy="505.96" r="1.2" fill="#111"/>
<circle cx="146.88" cy="512.30" r="1.2" fill="#111"/>
<path d="M52.76,501.21 L74.48,498.57 L88.96,495.40 L103.44,495.40 L117.92,504.91 L132.40,512.30" fill="none" stroke="#111" stroke-width="1.0" stroke-linejoin="round"/>
<circle cx="52.76" cy="501.21" r="1.2" fill="#111"/>
<circle cx="74.48" cy="498.57" r="1.2" fill="#111"/>
<circle cx="88.96" cy="495.40" r="1.2" fill="#111"/>
<circle cx="103.44" cy="495.40" r="1.2" fill="#111"/>
<circle cx="117.92" cy="504.91" r="1.2" fill="#111"/>
<circle cx="132.40" cy="512.30" r="1.2" fill="#111"/>
<path d="M52.76,503.32 L74.48,500.68 L88.96,498.57 L103.44,500.68 L117.92,510.19 L132.40,512.30" fill="none" stroke="#111" stroke-width="1.0" stroke-linejoin="round"/>
<circle cx="52.76" cy="503.32" r="1.2" fill="#111"/>
<circle cx="74.48" cy="500.68" r="1.2" fill="#111"/>
<circle cx="88.96" cy="498.57" r="1.2" fill="#111"/>
<circle cx="103.44" cy="500.68" r="1.2" fill="#111"/>
<circle cx="117.92" cy="510.19" r="1.2" fill="#111"/>
<circle cx="132.40" cy="512.30" r="1.2" fill="#111"/>
<path d="M52.76,500.68 L74.48,496.46 L88.96,495.40 L103.44,497.52 L117.92,501.74 L132.40,509.66 L146.88,512.30" fill="none" stroke="#111" stroke-width="1.0" stroke-linejoin="round"/>
<circle cx="52.76" cy="500.68" r="1.2" fill="#111"/>
<circle cx="74.48" cy="496.46" r="1.2" fill="#111"/>
<circle cx="88.96" cy="495.40" r="1.2" fill="#111"/>
<circle cx="103.44" cy="497.52" r="1.2" fill="#111"/>
<circle cx="117.92" cy="501.74" r="1.2" fill="#111"/>
<circle cx="132.40" cy="509.66" r="1.2" fill="#111"/>
<circle cx="146.88" cy="512.30" r="1.2" fill="#111"/>
<path d="M52.76,502.80 L74.48,499.63 L88.96,500.68 L103.44,502.80 L117.92,512.30" fill="none" stroke="#111" stroke-width="1.0" stroke-linejoin="round"/>
<circle cx="52.76" cy="502.80" r="1.2" fill="#111"/>
<circle cx="74.48" cy="499.63" r="1.2" fill="#111"/>
<circle cx="88.96" cy="500.68" r="1.2" fill="#111"/>
<circle cx="103.44" cy="502.80" r="1.2" fill="#111"/>
<circle cx="117.92" cy="512.30" r="1.2" fill="#111"/>
<path d="M52.76,505.96 L74.48,501.74 L88.96,496.46 L103.44,483.79 L117.92,462.88 L132.40,433.73" fill="none" stroke="#8a8a8a" stroke-width="1.0" stroke-linejoin="round"/>
<circle cx="52.76" cy="505.96" r="1.15" fill="#8a8a8a"/>
<circle cx="74.48" cy="501.74" r="1.15" fill="#8a8a8a"/>
<circle cx="88.96" cy="496.46" r="1.15" fill="#8a8a8a"/>
<circle cx="103.44" cy="483.79" r="1.15" fill="#8a8a8a"/>
<circle cx="117.92" cy="462.88" r="1.15" fill="#8a8a8a"/>
<circle cx="132.40" cy="433.73" r="1.15" fill="#8a8a8a"/>
<path d="M52.76,503.85 L74.48,500.68 L88.96,497.52 L103.44,485.90 L117.92,468.90 L132.40,443.45" fill="none" stroke="#8a8a8a" stroke-width="1.0" stroke-linejoin="round"/>
<circle cx="52.76" cy="503.85" r="1.15" fill="#8a8a8a"/>
<circle cx="74.48" cy="500.68" r="1.15" fill="#8a8a8a"/>
<circle cx="88.96" cy="497.52" r="1.15" fill="#8a8a8a"/>
<circle cx="103.44" cy="485.90" r="1.15" fill="#8a8a8a"/>
<circle cx="117.92" cy="468.90" r="1.15" fill="#8a8a8a"/>
<circle cx="132.40" cy="443.45" r="1.15" fill="#8a8a8a"/>
<path d="M52.76,501.74 L74.48,499.63 L88.96,498.57 L103.44,488.01 L117.92,472.28 L132.40,450.10" fill="none" stroke="#8a8a8a" stroke-width="1.0" stroke-linejoin="round"/>
<circle cx="52.76" cy="501.74" r="1.15" fill="#8a8a8a"/>
<circle cx="74.48" cy="499.63" r="1.15" fill="#8a8a8a"/>
<circle cx="88.96" cy="498.57" r="1.15" fill="#8a8a8a"/>
<circle cx="103.44" cy="488.01" r="1.15" fill="#8a8a8a"/>
<circle cx="117.92" cy="472.28" r="1.15" fill="#8a8a8a"/>
<circle cx="132.40" cy="450.10" r="1.15" fill="#8a8a8a"/>
<path d="M52.76,500.26 L74.48,502.80 L88.96,499.63 L103.44,490.12 L117.92,476.29 L132.40,455.91" fill="none" stroke="#8a8a8a" stroke-width="1.0" stroke-linejoin="round"/>
<circle cx="52.76" cy="500.26" r="1.15" fill="#8a8a8a"/>
<circle cx="74.48" cy="502.80" r="1.15" fill="#8a8a8a"/>
<circle cx="88.96" cy="499.63" r="1.15" fill="#8a8a8a"/>
<circle cx="103.44" cy="490.12" r="1.15" fill="#8a8a8a"/>
<circle cx="117.92" cy="476.29" r="1.15" fill="#8a8a8a"/>
<circle cx="132.40" cy="455.91" r="1.15" fill="#8a8a8a"/>
<path d="M52.76,502.80 L74.48,498.57 L88.96,495.40 L103.44,482.73 L117.92,477.45 L132.40,468.05" fill="none" stroke="#8a8a8a" stroke-width="1.0" stroke-linejoin="round"/>
<circle cx="52.76" cy="502.80" r="1.15" fill="#8a8a8a"/>
<circle cx="74.48" cy="498.57" r="1.15" fill="#8a8a8a"/>
<circle cx="88.96" cy="495.40" r="1.15" fill="#8a8a8a"/>
<circle cx="103.44" cy="482.73" r="1.15" fill="#8a8a8a"/>
<circle cx="117.92" cy="477.45" r="1.15" fill="#8a8a8a"/>
<circle cx="132.40" cy="468.05" r="1.15" fill="#8a8a8a"/>
<path d="M52.76,508.82 L74.48,503.85 L88.96,501.74 L103.44,494.35 L117.92,485.90" fill="none" stroke="#8a8a8a" stroke-width="1.0" stroke-linejoin="round"/>
<circle cx="52.76" cy="508.82" r="1.15" fill="#8a8a8a"/>
<circle cx="74.48" cy="503.85" r="1.15" fill="#8a8a8a"/>
<circle cx="88.96" cy="501.74" r="1.15" fill="#8a8a8a"/>
<circle cx="103.44" cy="494.35" r="1.15" fill="#8a8a8a"/>
<circle cx="117.92" cy="485.90" r="1.15" fill="#8a8a8a"/>
<path d="M52.76,505.22 L74.48,500.68 L88.96,498.57 L103.44,484.84 L117.92,478.51" fill="none" stroke="#8a8a8a" stroke-width="1.0" stroke-linejoin="round"/>
<circle cx="52.76" cy="505.22" r="1.15" fill="#8a8a8a"/>
<circle cx="74.48" cy="500.68" r="1.15" fill="#8a8a8a"/>
<circle cx="88.96" cy="498.57" r="1.15" fill="#8a8a8a"/>
<circle cx="103.44" cy="484.84" r="1.15" fill="#8a8a8a"/>
<circle cx="117.92" cy="478.51" r="1.15" fill="#8a8a8a"/>
<path d="M52.76,507.02 L74.48,502.27 L88.96,500.16 L103.44,491.18 L117.92,481.68" fill="none" stroke="#8a8a8a" stroke-width="1.0" stroke-linejoin="round"/>
<circle cx="52.76" cy="507.02" r="1.15" fill="#8a8a8a"/>
<circle cx="74.48" cy="502.27" r="1.15" fill="#8a8a8a"/>
<circle cx="88.96" cy="500.16" r="1.15" fill="#8a8a8a"/>
<circle cx="103.44" cy="491.18" r="1.15" fill="#8a8a8a"/>
<circle cx="117.92" cy="481.68" r="1.15" fill="#8a8a8a"/>
<path d="M77.00,472.60 L79.20,472.60 L79.20,479.20 L81.70,478.40 L78.10,484.70 L74.50,478.40 L77.00,479.20 Z" fill="#111"/>
<line x1="218.40" y1="428.80" x2="218.40" y2="512.80" stroke="#111" stroke-width="1.8"/>
<line x1="214.90" y1="511.90" x2="218.40" y2="511.90" stroke="#111" stroke-width="1.4"/>
<text x="213.20" y="515.00" font-size="8.82" text-anchor="end" font-weight="normal" font-style="normal" fill="#262626">0</text>
<line x1="214.90" y1="484.45" x2="218.40" y2="484.45" stroke="#111" stroke-width="1.4"/>
<text x="213.20" y="487.55" font-size="8.82" text-anchor="end" font-weight="normal" font-style="normal" fill="#262626">500</text>
<line x1="214.90" y1="457.00" x2="218.40" y2="457.00" stroke="#111" stroke-width="1.4"/>
<text x="213.20" y="460.10" font-size="8.82" text-anchor="end" font-weight="normal" font-style="normal" fill="#262626">1,000</text>
<line x1="214.90" y1="429.55" x2="218.40" y2="429.55" stroke="#111" stroke-width="1.4"/>
<text x="213.20" y="432.65" font-size="8.82" text-anchor="end" font-weight="normal" font-style="normal" fill="#262626">1,500</text>
<line x1="217.60" y1="511.90" x2="343.00" y2="511.90" stroke="#111" stroke-width="1.8"/>
<line x1="218.50" y1="511.90" x2="218.50" y2="515.40" stroke="#111" stroke-width="1.4"/>
<text x="218.50" y="524.80" font-size="9.66" text-anchor="middle" font-weight="normal" font-style="normal" fill="#262626">−10</text>
<line x1="254.80" y1="511.90" x2="254.80" y2="515.40" stroke="#111" stroke-width="1.4"/>
<text x="254.80" y="524.80" font-size="9.66" text-anchor="middle" font-weight="normal" font-style="normal" fill="#262626">0</text>
<line x1="291.10" y1="511.90" x2="291.10" y2="515.40" stroke="#111" stroke-width="1.4"/>
<text x="291.10" y="524.80" font-size="9.66" text-anchor="middle" font-weight="normal" font-style="normal" fill="#262626">10</text>
<line x1="327.40" y1="511.90" x2="327.40" y2="515.40" stroke="#111" stroke-width="1.4"/>
<text x="327.40" y="524.80" font-size="9.66" text-anchor="middle" font-weight="normal" font-style="normal" fill="#262626">20</text>
<text x="282.00" y="536.40" font-size="10.71" text-anchor="middle" font-weight="normal" font-style="normal" fill="#262626">Day</text>
<text x="185.80" y="470.5" font-size="10.2" text-anchor="middle" fill="#262626" transform="rotate(-90 185.80 470.5)">Tumor volume (mm<tspan font-size="6.8" dy="-3.8">3</tspan><tspan dy="3.8">)</tspan></text>
<text x="277.60" y="411.60" font-size="9.55" text-anchor="middle" font-weight="normal" font-style="normal" fill="#262626">PACADD-161_sg<tspan font-style="italic">GPAA1</tspan></text>
<path d="M229.39,496.80 L251.17,502.51 L265.69,496.80 L280.21,493.73 L294.73,492.69 L309.25,476.49 L323.77,461.50 L334.66,436.41" fill="none" stroke="#6c207a" stroke-width="1.0" stroke-linejoin="round"/>
<circle cx="229.39" cy="496.80" r="1.2" fill="#6c207a"/>
<circle cx="251.17" cy="502.51" r="1.2" fill="#6c207a"/>
<circle cx="265.69" cy="496.80" r="1.2" fill="#6c207a"/>
<circle cx="280.21" cy="493.73" r="1.2" fill="#6c207a"/>
<circle cx="294.73" cy="492.69" r="1.2" fill="#6c207a"/>
<circle cx="309.25" cy="476.49" r="1.2" fill="#6c207a"/>
<circle cx="323.77" cy="461.50" r="1.2" fill="#6c207a"/>
<circle cx="334.66" cy="436.41" r="1.2" fill="#6c207a"/>
<path d="M229.39,503.66 L251.17,504.49 L265.69,502.57 L280.21,498.17 L294.73,495.43 L309.25,482.31 L323.77,469.79 L334.66,450.96" fill="none" stroke="#6c207a" stroke-width="1.0" stroke-linejoin="round"/>
<circle cx="229.39" cy="503.66" r="1.2" fill="#6c207a"/>
<circle cx="251.17" cy="504.49" r="1.2" fill="#6c207a"/>
<circle cx="265.69" cy="502.57" r="1.2" fill="#6c207a"/>
<circle cx="280.21" cy="498.17" r="1.2" fill="#6c207a"/>
<circle cx="294.73" cy="495.43" r="1.2" fill="#6c207a"/>
<circle cx="309.25" cy="482.31" r="1.2" fill="#6c207a"/>
<circle cx="323.77" cy="469.79" r="1.2" fill="#6c207a"/>
<circle cx="334.66" cy="450.96" r="1.2" fill="#6c207a"/>
<path d="M229.39,506.41 L251.17,505.31 L265.69,503.66 L280.21,499.82 L294.73,493.78 L309.25,491.59 L323.77,487.91 L334.66,480.88" fill="none" stroke="#6c207a" stroke-width="1.0" stroke-linejoin="round"/>
<circle cx="229.39" cy="506.41" r="1.2" fill="#6c207a"/>
<circle cx="251.17" cy="505.31" r="1.2" fill="#6c207a"/>
<circle cx="265.69" cy="503.66" r="1.2" fill="#6c207a"/>
<circle cx="280.21" cy="499.82" r="1.2" fill="#6c207a"/>
<circle cx="294.73" cy="493.78" r="1.2" fill="#6c207a"/>
<circle cx="309.25" cy="491.59" r="1.2" fill="#6c207a"/>
<circle cx="323.77" cy="487.91" r="1.2" fill="#6c207a"/>
<circle cx="334.66" cy="480.88" r="1.2" fill="#6c207a"/>
<path d="M229.39,507.51 L251.17,506.41 L265.69,504.76 L280.21,500.92 L294.73,500.92 L309.25,498.17 L323.77,492.14 L334.66,489.01" fill="none" stroke="#6c207a" stroke-width="1.0" stroke-linejoin="round"/>
<circle cx="229.39" cy="507.51" r="1.2" fill="#6c207a"/>
<circle cx="251.17" cy="506.41" r="1.2" fill="#6c207a"/>
<circle cx="265.69" cy="504.76" r="1.2" fill="#6c207a"/>
<circle cx="280.21" cy="500.92" r="1.2" fill="#6c207a"/>
<circle cx="294.73" cy="500.92" r="1.2" fill="#6c207a"/>
<circle cx="309.25" cy="498.17" r="1.2" fill="#6c207a"/>
<circle cx="323.77" cy="492.14" r="1.2" fill="#6c207a"/>
<circle cx="334.66" cy="489.01" r="1.2" fill="#6c207a"/>
<path d="M229.39,508.61 L251.17,506.96 L265.69,505.31 L280.21,502.02 L294.73,503.66 L309.25,502.57 L323.77,495.43 L334.66,490.60" fill="none" stroke="#6c207a" stroke-width="1.0" stroke-linejoin="round"/>
<circle cx="229.39" cy="508.61" r="1.2" fill="#6c207a"/>
<circle cx="251.17" cy="506.96" r="1.2" fill="#6c207a"/>
<circle cx="265.69" cy="505.31" r="1.2" fill="#6c207a"/>
<circle cx="280.21" cy="502.02" r="1.2" fill="#6c207a"/>
<circle cx="294.73" cy="503.66" r="1.2" fill="#6c207a"/>
<circle cx="309.25" cy="502.57" r="1.2" fill="#6c207a"/>
<circle cx="323.77" cy="495.43" r="1.2" fill="#6c207a"/>
<circle cx="334.66" cy="490.60" r="1.2" fill="#6c207a"/>
<path d="M229.39,509.15 L251.17,507.51 L265.69,505.86 L280.21,503.66 L294.73,506.41 L309.25,503.66 L323.77,499.27 L334.66,492.19" fill="none" stroke="#6c207a" stroke-width="1.0" stroke-linejoin="round"/>
<circle cx="229.39" cy="509.15" r="1.2" fill="#6c207a"/>
<circle cx="251.17" cy="507.51" r="1.2" fill="#6c207a"/>
<circle cx="265.69" cy="505.86" r="1.2" fill="#6c207a"/>
<circle cx="280.21" cy="503.66" r="1.2" fill="#6c207a"/>
<circle cx="294.73" cy="506.41" r="1.2" fill="#6c207a"/>
<circle cx="309.25" cy="503.66" r="1.2" fill="#6c207a"/>
<circle cx="323.77" cy="499.27" r="1.2" fill="#6c207a"/>
<circle cx="334.66" cy="492.19" r="1.2" fill="#6c207a"/>
<path d="M229.39,503.77 L251.17,505.86 L265.69,505.31 L280.21,504.21 L294.73,505.86 L309.25,505.31 L323.77,501.47 L334.66,496.42" fill="none" stroke="#6c207a" stroke-width="1.0" stroke-linejoin="round"/>
<circle cx="229.39" cy="503.77" r="1.2" fill="#6c207a"/>
<circle cx="251.17" cy="505.86" r="1.2" fill="#6c207a"/>
<circle cx="265.69" cy="505.31" r="1.2" fill="#6c207a"/>
<circle cx="280.21" cy="504.21" r="1.2" fill="#6c207a"/>
<circle cx="294.73" cy="505.86" r="1.2" fill="#6c207a"/>
<circle cx="309.25" cy="505.31" r="1.2" fill="#6c207a"/>
<circle cx="323.77" cy="501.47" r="1.2" fill="#6c207a"/>
<circle cx="334.66" cy="496.42" r="1.2" fill="#6c207a"/>
<path d="M229.39,509.70 L251.17,508.61 L265.69,506.96 L280.21,505.31 L294.73,498.17 L309.25,500.92 L323.77,497.63 L334.66,489.94" fill="none" stroke="#6c207a" stroke-width="1.0" stroke-linejoin="round"/>
<circle cx="229.39" cy="509.70" r="1.2" fill="#6c207a"/>
<circle cx="251.17" cy="508.61" r="1.2" fill="#6c207a"/>
<circle cx="265.69" cy="506.96" r="1.2" fill="#6c207a"/>
<circle cx="280.21" cy="505.31" r="1.2" fill="#6c207a"/>
<circle cx="294.73" cy="498.17" r="1.2" fill="#6c207a"/>
<circle cx="309.25" cy="500.92" r="1.2" fill="#6c207a"/>
<circle cx="323.77" cy="497.63" r="1.2" fill="#6c207a"/>
<circle cx="334.66" cy="489.94" r="1.2" fill="#6c207a"/>
<path d="M229.39,508.61 L251.17,505.31 L265.69,502.57 L280.21,495.43 L294.73,483.35 L309.25,474.90" fill="none" stroke="#e08cc4" stroke-width="1.1" stroke-linejoin="round"/>
<circle cx="229.39" cy="508.61" r="1.2" fill="#e08cc4"/>
<circle cx="251.17" cy="505.31" r="1.2" fill="#e08cc4"/>
<circle cx="265.69" cy="502.57" r="1.2" fill="#e08cc4"/>
<circle cx="280.21" cy="495.43" r="1.2" fill="#e08cc4"/>
<circle cx="294.73" cy="483.35" r="1.2" fill="#e08cc4"/>
<circle cx="309.25" cy="474.90" r="1.2" fill="#e08cc4"/>
<path d="M229.39,509.70 L251.17,506.41 L265.69,503.12 L280.21,496.53 L294.73,485.55 L309.25,476.82" fill="none" stroke="#e08cc4" stroke-width="1.1" stroke-linejoin="round"/>
<circle cx="229.39" cy="509.70" r="1.2" fill="#e08cc4"/>
<circle cx="251.17" cy="506.41" r="1.2" fill="#e08cc4"/>
<circle cx="265.69" cy="503.12" r="1.2" fill="#e08cc4"/>
<circle cx="280.21" cy="496.53" r="1.2" fill="#e08cc4"/>
<circle cx="294.73" cy="485.55" r="1.2" fill="#e08cc4"/>
<circle cx="309.25" cy="476.82" r="1.2" fill="#e08cc4"/>
<path d="M229.39,510.25 L251.17,507.51 L265.69,504.21 L280.21,498.17 L294.73,489.94 L309.25,482.58" fill="none" stroke="#e08cc4" stroke-width="1.1" stroke-linejoin="round"/>
<circle cx="229.39" cy="510.25" r="1.2" fill="#e08cc4"/>
<circle cx="251.17" cy="507.51" r="1.2" fill="#e08cc4"/>
<circle cx="265.69" cy="504.21" r="1.2" fill="#e08cc4"/>
<circle cx="280.21" cy="498.17" r="1.2" fill="#e08cc4"/>
<circle cx="294.73" cy="489.94" r="1.2" fill="#e08cc4"/>
<circle cx="309.25" cy="482.58" r="1.2" fill="#e08cc4"/>
<path d="M229.39,507.51 L251.17,504.76 L265.69,500.92 L280.21,493.78 L294.73,495.43 L309.25,498.17" fill="none" stroke="#e08cc4" stroke-width="1.1" stroke-linejoin="round"/>
<circle cx="229.39" cy="507.51" r="1.2" fill="#e08cc4"/>
<circle cx="251.17" cy="504.76" r="1.2" fill="#e08cc4"/>
<circle cx="265.69" cy="500.92" r="1.2" fill="#e08cc4"/>
<circle cx="280.21" cy="493.78" r="1.2" fill="#e08cc4"/>
<circle cx="294.73" cy="495.43" r="1.2" fill="#e08cc4"/>
<circle cx="309.25" cy="498.17" r="1.2" fill="#e08cc4"/>
<path d="M229.39,510.80 L251.17,508.61 L265.69,505.31 L280.21,500.92 L294.73,491.04 L309.25,478.96" fill="none" stroke="#e08cc4" stroke-width="1.1" stroke-linejoin="round"/>
<circle cx="229.39" cy="510.80" r="1.2" fill="#e08cc4"/>
<circle cx="251.17" cy="508.61" r="1.2" fill="#e08cc4"/>
<circle cx="265.69" cy="505.31" r="1.2" fill="#e08cc4"/>
<circle cx="280.21" cy="500.92" r="1.2" fill="#e08cc4"/>
<circle cx="294.73" cy="491.04" r="1.2" fill="#e08cc4"/>
<circle cx="309.25" cy="478.96" r="1.2" fill="#e08cc4"/>
<path d="M229.39,509.15 L251.17,506.96 L265.69,503.66 L280.21,497.63 L294.73,492.69 L309.25,488.84" fill="none" stroke="#e08cc4" stroke-width="1.1" stroke-linejoin="round"/>
<circle cx="229.39" cy="509.15" r="1.2" fill="#e08cc4"/>
<circle cx="251.17" cy="506.96" r="1.2" fill="#e08cc4"/>
<circle cx="265.69" cy="503.66" r="1.2" fill="#e08cc4"/>
<circle cx="280.21" cy="497.63" r="1.2" fill="#e08cc4"/>
<circle cx="294.73" cy="492.69" r="1.2" fill="#e08cc4"/>
<circle cx="309.25" cy="488.84" r="1.2" fill="#e08cc4"/>
<path d="M253.60,472.50 L255.80,472.50 L255.80,478.70 L258.30,477.90 L254.70,484.20 L251.10,477.90 L253.60,478.70 Z" fill="#111"/>
<line x1="387.70" y1="427.00" x2="387.70" y2="513.20" stroke="#111" stroke-width="1.8"/>
<line x1="384.20" y1="512.30" x2="387.70" y2="512.30" stroke="#111" stroke-width="1.4"/>
<text x="382.50" y="515.40" font-size="8.82" text-anchor="end" font-weight="normal" font-style="normal" fill="#262626">0</text>
<line x1="384.20" y1="491.10" x2="387.70" y2="491.10" stroke="#111" stroke-width="1.4"/>
<text x="382.50" y="494.20" font-size="8.82" text-anchor="end" font-weight="normal" font-style="normal" fill="#262626">200</text>
<line x1="384.20" y1="469.90" x2="387.70" y2="469.90" stroke="#111" stroke-width="1.4"/>
<text x="382.50" y="473.00" font-size="8.82" text-anchor="end" font-weight="normal" font-style="normal" fill="#262626">400</text>
<line x1="384.20" y1="448.70" x2="387.70" y2="448.70" stroke="#111" stroke-width="1.4"/>
<text x="382.50" y="451.80" font-size="8.82" text-anchor="end" font-weight="normal" font-style="normal" fill="#262626">600</text>
<line x1="384.20" y1="427.50" x2="387.70" y2="427.50" stroke="#111" stroke-width="1.4"/>
<text x="382.50" y="430.60" font-size="8.82" text-anchor="end" font-weight="normal" font-style="normal" fill="#262626">800</text>
<line x1="386.90" y1="512.30" x2="517.00" y2="512.30" stroke="#111" stroke-width="1.8"/>
<line x1="398.90" y1="512.30" x2="398.90" y2="515.80" stroke="#111" stroke-width="1.4"/>
<text x="398.90" y="524.80" font-size="9.66" text-anchor="middle" font-weight="normal" font-style="normal" fill="#262626">−7</text>
<line x1="413.98" y1="512.30" x2="413.98" y2="515.80" stroke="#111" stroke-width="1.4"/>
<text x="413.98" y="524.80" font-size="9.66" text-anchor="middle" font-weight="normal" font-style="normal" fill="#262626">−1</text>
<line x1="429.06" y1="512.30" x2="429.06" y2="515.80" stroke="#111" stroke-width="1.4"/>
<text x="429.06" y="524.80" font-size="9.66" text-anchor="middle" font-weight="normal" font-style="normal" fill="#262626">3</text>
<line x1="444.14" y1="512.30" x2="444.14" y2="515.80" stroke="#111" stroke-width="1.4"/>
<text x="444.14" y="524.80" font-size="9.66" text-anchor="middle" font-weight="normal" font-style="normal" fill="#262626">7</text>
<line x1="459.22" y1="512.30" x2="459.22" y2="515.80" stroke="#111" stroke-width="1.4"/>
<text x="459.22" y="524.80" font-size="9.66" text-anchor="middle" font-weight="normal" font-style="normal" fill="#262626">11</text>
<line x1="474.30" y1="512.30" x2="474.30" y2="515.80" stroke="#111" stroke-width="1.4"/>
<text x="474.30" y="524.80" font-size="9.66" text-anchor="middle" font-weight="normal" font-style="normal" fill="#262626">15</text>
<line x1="489.38" y1="512.30" x2="489.38" y2="515.80" stroke="#111" stroke-width="1.4"/>
<text x="489.38" y="524.80" font-size="9.66" text-anchor="middle" font-weight="normal" font-style="normal" fill="#262626">19</text>
<line x1="504.46" y1="512.30" x2="504.46" y2="515.80" stroke="#111" stroke-width="1.4"/>
<text x="504.46" y="524.80" font-size="9.66" text-anchor="middle" font-weight="normal" font-style="normal" fill="#262626">22</text>
<text x="452.50" y="536.40" font-size="10.71" text-anchor="middle" font-weight="normal" font-style="normal" fill="#262626">Day</text>
<text x="362.70" y="470.5" font-size="10.2" text-anchor="middle" fill="#262626" transform="rotate(-90 362.70 470.5)">Tumor volume (mm<tspan font-size="6.8" dy="-3.8">3</tspan><tspan dy="3.8">)</tspan></text>
<text x="447.30" y="411.60" font-size="9.55" text-anchor="middle" font-weight="normal" font-style="normal" fill="#262626">PACADD-161</text>
<path d="M398.90,499.79 L413.98,499.58 L429.06,496.93 L444.14,493.11 L459.22,497.99 L474.30,505.09 L489.38,509.12 L504.46,509.97" fill="none" stroke="#111111" stroke-width="1.6" stroke-linejoin="round"/>
<line x1="398.90" y1="500.85" x2="398.90" y2="498.73" stroke="#090909" stroke-width="1.3"/>
<line x1="396.30" y1="498.73" x2="401.50" y2="498.73" stroke="#090909" stroke-width="1.4"/>
<line x1="396.30" y1="500.85" x2="401.50" y2="500.85" stroke="#090909" stroke-width="1.4"/>
<circle cx="398.90" cy="499.79" r="1.9" fill="#111111"/>
<line x1="413.98" y1="500.64" x2="413.98" y2="498.52" stroke="#090909" stroke-width="1.3"/>
<line x1="411.38" y1="498.52" x2="416.58" y2="498.52" stroke="#090909" stroke-width="1.4"/>
<line x1="411.38" y1="500.64" x2="416.58" y2="500.64" stroke="#090909" stroke-width="1.4"/>
<circle cx="413.98" cy="499.58" r="1.9" fill="#111111"/>
<line x1="429.06" y1="498.20" x2="429.06" y2="495.66" stroke="#090909" stroke-width="1.3"/>
<line x1="426.46" y1="495.66" x2="431.66" y2="495.66" stroke="#090909" stroke-width="1.4"/>
<line x1="426.46" y1="498.20" x2="431.66" y2="498.20" stroke="#090909" stroke-width="1.4"/>
<circle cx="429.06" cy="496.93" r="1.9" fill="#111111"/>
<line x1="444.14" y1="495.23" x2="444.14" y2="490.99" stroke="#090909" stroke-width="1.3"/>
<line x1="441.54" y1="490.99" x2="446.74" y2="490.99" stroke="#090909" stroke-width="1.4"/>
<line x1="441.54" y1="495.23" x2="446.74" y2="495.23" stroke="#090909" stroke-width="1.4"/>
<circle cx="444.14" cy="493.11" r="1.9" fill="#111111"/>
<line x1="459.22" y1="500.64" x2="459.22" y2="495.34" stroke="#090909" stroke-width="1.3"/>
<line x1="456.62" y1="495.34" x2="461.82" y2="495.34" stroke="#090909" stroke-width="1.4"/>
<line x1="456.62" y1="500.64" x2="461.82" y2="500.64" stroke="#090909" stroke-width="1.4"/>
<circle cx="459.22" cy="497.99" r="1.9" fill="#111111"/>
<line x1="474.30" y1="507.42" x2="474.30" y2="502.76" stroke="#090909" stroke-width="1.3"/>
<line x1="471.70" y1="502.76" x2="476.90" y2="502.76" stroke="#090909" stroke-width="1.4"/>
<line x1="471.70" y1="507.42" x2="476.90" y2="507.42" stroke="#090909" stroke-width="1.4"/>
<circle cx="474.30" cy="505.09" r="1.9" fill="#111111"/>
<line x1="489.38" y1="511.03" x2="489.38" y2="507.21" stroke="#090909" stroke-width="1.3"/>
<line x1="486.78" y1="507.21" x2="491.98" y2="507.21" stroke="#090909" stroke-width="1.4"/>
<line x1="486.78" y1="511.03" x2="491.98" y2="511.03" stroke="#090909" stroke-width="1.4"/>
<circle cx="489.38" cy="509.12" r="1.9" fill="#111111"/>
<line x1="504.46" y1="511.56" x2="504.46" y2="508.38" stroke="#090909" stroke-width="1.3"/>
<line x1="501.86" y1="508.38" x2="507.06" y2="508.38" stroke="#090909" stroke-width="1.4"/>
<line x1="501.86" y1="511.56" x2="507.06" y2="511.56" stroke="#090909" stroke-width="1.4"/>
<circle cx="504.46" cy="509.97" r="1.9" fill="#111111"/>
<path d="M398.90,502.76 L413.98,500.11 L429.06,496.40 L444.14,488.98 L459.22,473.08 L474.30,448.70" fill="none" stroke="#8f6e93" stroke-width="1.6" stroke-linejoin="round"/>
<line x1="398.90" y1="504.35" x2="398.90" y2="501.17" stroke="#4e3c50" stroke-width="1.3"/>
<line x1="396.30" y1="501.17" x2="401.50" y2="501.17" stroke="#4e3c50" stroke-width="1.4"/>
<line x1="396.30" y1="504.35" x2="401.50" y2="504.35" stroke="#4e3c50" stroke-width="1.4"/>
<circle cx="398.90" cy="502.76" r="1.9" fill="#8f6e93"/>
<line x1="413.98" y1="501.70" x2="413.98" y2="498.52" stroke="#4e3c50" stroke-width="1.3"/>
<line x1="411.38" y1="498.52" x2="416.58" y2="498.52" stroke="#4e3c50" stroke-width="1.4"/>
<line x1="411.38" y1="501.70" x2="416.58" y2="501.70" stroke="#4e3c50" stroke-width="1.4"/>
<circle cx="413.98" cy="500.11" r="1.9" fill="#8f6e93"/>
<line x1="429.06" y1="498.52" x2="429.06" y2="494.28" stroke="#4e3c50" stroke-width="1.3"/>
<line x1="426.46" y1="494.28" x2="431.66" y2="494.28" stroke="#4e3c50" stroke-width="1.4"/>
<line x1="426.46" y1="498.52" x2="431.66" y2="498.52" stroke="#4e3c50" stroke-width="1.4"/>
<circle cx="429.06" cy="496.40" r="1.9" fill="#8f6e93"/>
<line x1="444.14" y1="492.16" x2="444.14" y2="485.80" stroke="#4e3c50" stroke-width="1.3"/>
<line x1="441.54" y1="485.80" x2="446.74" y2="485.80" stroke="#4e3c50" stroke-width="1.4"/>
<line x1="441.54" y1="492.16" x2="446.74" y2="492.16" stroke="#4e3c50" stroke-width="1.4"/>
<circle cx="444.14" cy="488.98" r="1.9" fill="#8f6e93"/>
<line x1="459.22" y1="477.32" x2="459.22" y2="468.84" stroke="#4e3c50" stroke-width="1.3"/>
<line x1="456.62" y1="468.84" x2="461.82" y2="468.84" stroke="#4e3c50" stroke-width="1.4"/>
<line x1="456.62" y1="477.32" x2="461.82" y2="477.32" stroke="#4e3c50" stroke-width="1.4"/>
<circle cx="459.22" cy="473.08" r="1.9" fill="#8f6e93"/>
<line x1="474.30" y1="454.53" x2="474.30" y2="442.87" stroke="#4e3c50" stroke-width="1.3"/>
<line x1="471.70" y1="442.87" x2="476.90" y2="442.87" stroke="#4e3c50" stroke-width="1.4"/>
<line x1="471.70" y1="454.53" x2="476.90" y2="454.53" stroke="#4e3c50" stroke-width="1.4"/>
<circle cx="474.30" cy="448.70" r="1.9" fill="#8f6e93"/>
<path d="M398.90,503.29 L413.98,500.64 L429.06,496.40 L444.14,487.92 L459.22,473.08 L474.30,459.30" fill="none" stroke="#dd85bd" stroke-width="1.6" stroke-linejoin="round"/>
<line x1="398.90" y1="504.88" x2="398.90" y2="501.70" stroke="#794967" stroke-width="1.3"/>
<line x1="396.30" y1="501.70" x2="401.50" y2="501.70" stroke="#794967" stroke-width="1.4"/>
<line x1="396.30" y1="504.88" x2="401.50" y2="504.88" stroke="#794967" stroke-width="1.4"/>
<circle cx="398.90" cy="503.29" r="1.9" fill="#dd85bd"/>
<line x1="413.98" y1="502.23" x2="413.98" y2="499.05" stroke="#794967" stroke-width="1.3"/>
<line x1="411.38" y1="499.05" x2="416.58" y2="499.05" stroke="#794967" stroke-width="1.4"/>
<line x1="411.38" y1="502.23" x2="416.58" y2="502.23" stroke="#794967" stroke-width="1.4"/>
<circle cx="413.98" cy="500.64" r="1.9" fill="#dd85bd"/>
<line x1="429.06" y1="498.52" x2="429.06" y2="494.28" stroke="#794967" stroke-width="1.3"/>
<line x1="426.46" y1="494.28" x2="431.66" y2="494.28" stroke="#794967" stroke-width="1.4"/>
<line x1="426.46" y1="498.52" x2="431.66" y2="498.52" stroke="#794967" stroke-width="1.4"/>
<circle cx="429.06" cy="496.40" r="1.9" fill="#dd85bd"/>
<line x1="444.14" y1="491.63" x2="444.14" y2="484.21" stroke="#794967" stroke-width="1.3"/>
<line x1="441.54" y1="484.21" x2="446.74" y2="484.21" stroke="#794967" stroke-width="1.4"/>
<line x1="441.54" y1="491.63" x2="446.74" y2="491.63" stroke="#794967" stroke-width="1.4"/>
<circle cx="444.14" cy="487.92" r="1.9" fill="#dd85bd"/>
<line x1="459.22" y1="477.85" x2="459.22" y2="468.31" stroke="#794967" stroke-width="1.3"/>
<line x1="456.62" y1="468.31" x2="461.82" y2="468.31" stroke="#794967" stroke-width="1.4"/>
<line x1="456.62" y1="477.85" x2="461.82" y2="477.85" stroke="#794967" stroke-width="1.4"/>
<circle cx="459.22" cy="473.08" r="1.9" fill="#dd85bd"/>
<line x1="474.30" y1="464.07" x2="474.30" y2="454.53" stroke="#794967" stroke-width="1.3"/>
<line x1="471.70" y1="454.53" x2="476.90" y2="454.53" stroke="#794967" stroke-width="1.4"/>
<line x1="471.70" y1="464.07" x2="476.90" y2="464.07" stroke="#794967" stroke-width="1.4"/>
<circle cx="474.30" cy="459.30" r="1.9" fill="#dd85bd"/>
<path d="M398.90,503.82 L413.98,500.64 L429.06,496.40 L444.14,490.04 L459.22,493.22 L474.30,483.68 L489.38,468.84 L504.46,449.76" fill="none" stroke="#6a1a78" stroke-width="1.6" stroke-linejoin="round"/>
<line x1="398.90" y1="505.09" x2="398.90" y2="502.55" stroke="#3a0e42" stroke-width="1.3"/>
<line x1="396.30" y1="502.55" x2="401.50" y2="502.55" stroke="#3a0e42" stroke-width="1.4"/>
<line x1="396.30" y1="505.09" x2="401.50" y2="505.09" stroke="#3a0e42" stroke-width="1.4"/>
<circle cx="398.90" cy="503.82" r="1.9" fill="#6a1a78"/>
<line x1="413.98" y1="501.91" x2="413.98" y2="499.37" stroke="#3a0e42" stroke-width="1.3"/>
<line x1="411.38" y1="499.37" x2="416.58" y2="499.37" stroke="#3a0e42" stroke-width="1.4"/>
<line x1="411.38" y1="501.91" x2="416.58" y2="501.91" stroke="#3a0e42" stroke-width="1.4"/>
<circle cx="413.98" cy="500.64" r="1.9" fill="#6a1a78"/>
<line x1="429.06" y1="497.99" x2="429.06" y2="494.81" stroke="#3a0e42" stroke-width="1.3"/>
<line x1="426.46" y1="494.81" x2="431.66" y2="494.81" stroke="#3a0e42" stroke-width="1.4"/>
<line x1="426.46" y1="497.99" x2="431.66" y2="497.99" stroke="#3a0e42" stroke-width="1.4"/>
<circle cx="429.06" cy="496.40" r="1.9" fill="#6a1a78"/>
<line x1="444.14" y1="492.16" x2="444.14" y2="487.92" stroke="#3a0e42" stroke-width="1.3"/>
<line x1="441.54" y1="487.92" x2="446.74" y2="487.92" stroke="#3a0e42" stroke-width="1.4"/>
<line x1="441.54" y1="492.16" x2="446.74" y2="492.16" stroke="#3a0e42" stroke-width="1.4"/>
<circle cx="444.14" cy="490.04" r="1.9" fill="#6a1a78"/>
<line x1="459.22" y1="495.34" x2="459.22" y2="491.10" stroke="#3a0e42" stroke-width="1.3"/>
<line x1="456.62" y1="491.10" x2="461.82" y2="491.10" stroke="#3a0e42" stroke-width="1.4"/>
<line x1="456.62" y1="495.34" x2="461.82" y2="495.34" stroke="#3a0e42" stroke-width="1.4"/>
<circle cx="459.22" cy="493.22" r="1.9" fill="#6a1a78"/>
<line x1="474.30" y1="488.45" x2="474.30" y2="478.91" stroke="#3a0e42" stroke-width="1.3"/>
<line x1="471.70" y1="478.91" x2="476.90" y2="478.91" stroke="#3a0e42" stroke-width="1.4"/>
<line x1="471.70" y1="488.45" x2="476.90" y2="488.45" stroke="#3a0e42" stroke-width="1.4"/>
<circle cx="474.30" cy="483.68" r="1.9" fill="#6a1a78"/>
<line x1="489.38" y1="477.32" x2="489.38" y2="460.36" stroke="#3a0e42" stroke-width="1.3"/>
<line x1="486.78" y1="460.36" x2="491.98" y2="460.36" stroke="#3a0e42" stroke-width="1.4"/>
<line x1="486.78" y1="477.32" x2="491.98" y2="477.32" stroke="#3a0e42" stroke-width="1.4"/>
<circle cx="489.38" cy="468.84" r="1.9" fill="#6a1a78"/>
<line x1="504.46" y1="462.48" x2="504.46" y2="437.04" stroke="#3a0e42" stroke-width="1.3"/>
<line x1="501.86" y1="437.04" x2="507.06" y2="437.04" stroke="#3a0e42" stroke-width="1.4"/>
<line x1="501.86" y1="462.48" x2="507.06" y2="462.48" stroke="#3a0e42" stroke-width="1.4"/>
<circle cx="504.46" cy="449.76" r="1.9" fill="#6a1a78"/>
<path d="M416.70,472.60 L418.90,472.60 L418.90,479.20 L421.40,478.40 L417.80,484.70 L414.20,478.40 L416.70,479.20 Z" fill="#111"/>
<path d="M477.40,482.00 L479.20,482.00 L479.20,502.80 L477.40,502.80" fill="none" stroke="#777" stroke-width="0.7"/>
<text x="477.40" y="492.40" font-size="6.5" text-anchor="middle" fill="#262626" transform="rotate(90 477.40 492.40)">*</text>
<path d="M493.40,467.60 L495.20,467.60 L495.20,504.40 L493.40,504.40" fill="none" stroke="#777" stroke-width="0.7"/>
<text x="493.20" y="486.00" font-size="6.5" text-anchor="middle" fill="#262626" transform="rotate(90 493.20 486.00)">***</text>
<path d="M509.10,449.20 L510.90,449.20 L510.90,506.50 L509.10,506.50" fill="none" stroke="#777" stroke-width="0.7"/>
<text x="508.60" y="477.85" font-size="6.5" text-anchor="middle" fill="#262626" transform="rotate(90 508.60 477.85)">***</text>
<line x1="51.40" y1="557.00" x2="67.60" y2="557.00" stroke="#8e8e8e" stroke-width="2.1"/>
<circle cx="59.50" cy="557" r="2.7" fill="#8e8e8e"/>
<text x="70.70" y="560.40" font-size="10.82" text-anchor="start" font-weight="normal" font-style="normal" fill="#262626">sgCNTRL_UTD</text>
<line x1="161.50" y1="557.00" x2="177.70" y2="557.00" stroke="#111" stroke-width="2.1"/>
<circle cx="169.60" cy="557" r="2.7" fill="#111"/>
<text x="182.10" y="560.40" font-size="10.82" text-anchor="start" font-weight="normal" font-style="normal" fill="#262626">sgCNTRL_CAR</text>
<line x1="272.30" y1="557.00" x2="288.50" y2="557.00" stroke="#dd85bd" stroke-width="2.1"/>
<circle cx="280.40" cy="557" r="2.7" fill="#dd85bd"/>
<text x="291.70" y="560.40" font-size="10.82" text-anchor="start" font-weight="normal" font-style="normal" fill="#262626">sg<tspan font-style="italic">GPAA1</tspan>_UTD</text>
<line x1="382.50" y1="557.00" x2="398.70" y2="557.00" stroke="#6a1a78" stroke-width="2.1"/>
<circle cx="390.60" cy="557" r="2.7" fill="#6a1a78"/>
<text x="400.10" y="560.40" font-size="10.82" text-anchor="start" font-weight="normal" font-style="normal" fill="#262626">sg<tspan font-style="italic">GPAA1</tspan>_CAR</text></svg>
</body></html>
